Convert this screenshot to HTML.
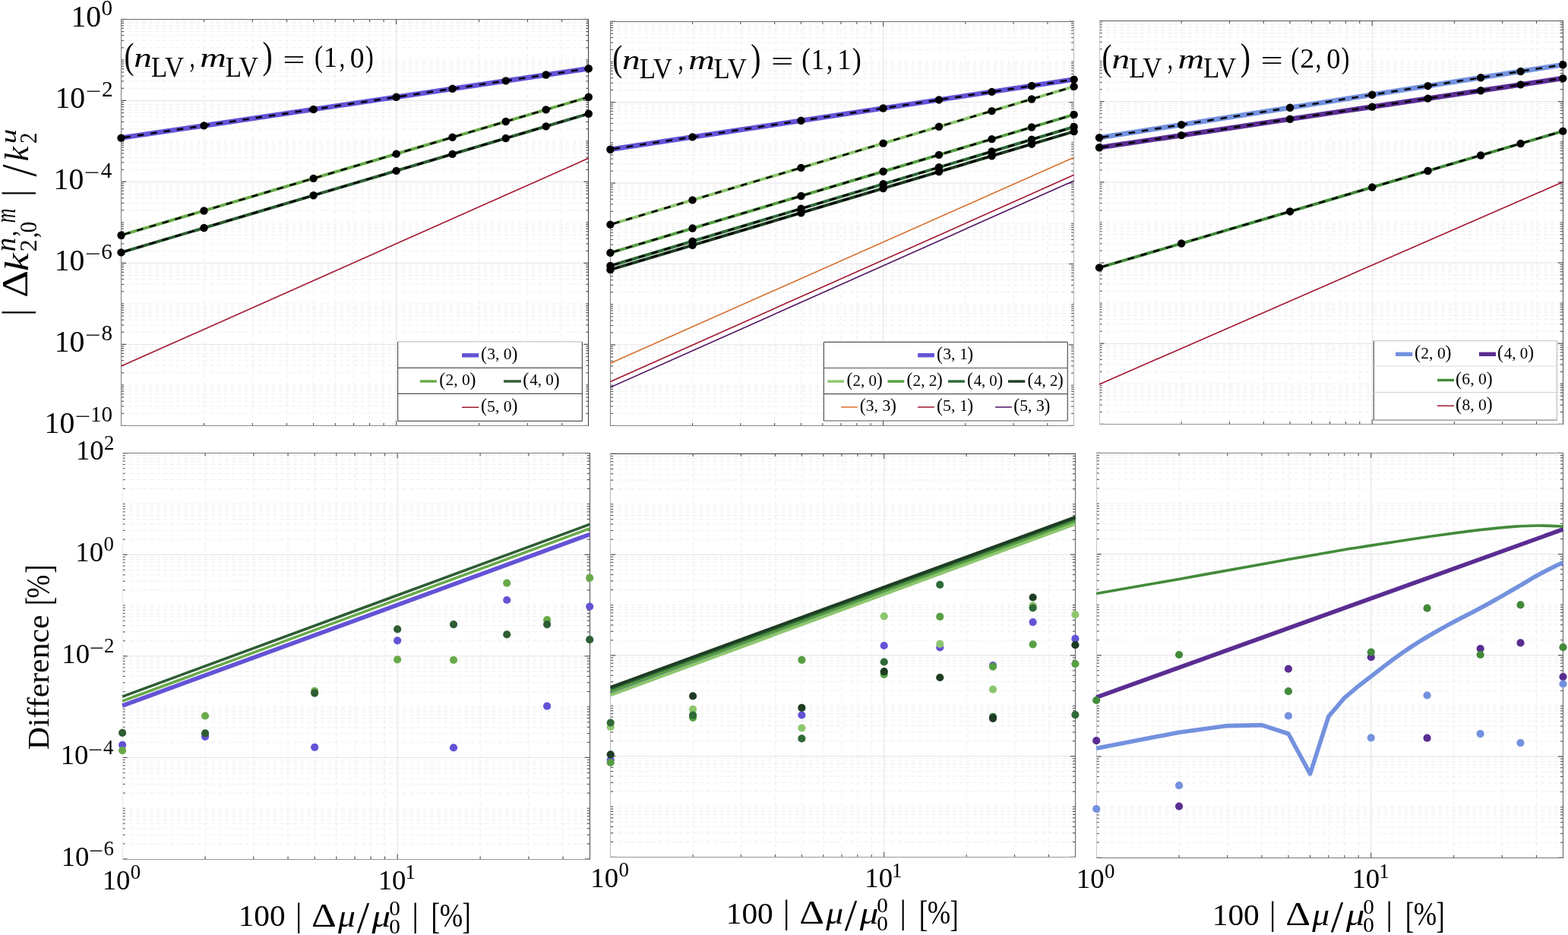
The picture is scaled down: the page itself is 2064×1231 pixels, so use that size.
<!DOCTYPE html>
<html><head><meta charset="utf-8"><title>Figure</title>
<style>html,body{margin:0;padding:0;background:#fff;}svg{display:block;}</style>
</head><body>
<svg width="2064" height="1231" viewBox="0 0 2064 1231">
<rect width="2064" height="1231" fill="#fff"/>
<line x1="268.52" y1="25.40" x2="268.52" y2="560.40" stroke="#eeeeee" stroke-width="1" stroke-dasharray="5 4"/>
<line x1="332.29" y1="25.40" x2="332.29" y2="560.40" stroke="#eeeeee" stroke-width="1" stroke-dasharray="5 4"/>
<line x1="377.54" y1="25.40" x2="377.54" y2="560.40" stroke="#eeeeee" stroke-width="1" stroke-dasharray="5 4"/>
<line x1="412.64" y1="25.40" x2="412.64" y2="560.40" stroke="#eeeeee" stroke-width="1" stroke-dasharray="5 4"/>
<line x1="441.32" y1="25.40" x2="441.32" y2="560.40" stroke="#eeeeee" stroke-width="1" stroke-dasharray="5 4"/>
<line x1="465.56" y1="25.40" x2="465.56" y2="560.40" stroke="#eeeeee" stroke-width="1" stroke-dasharray="5 4"/>
<line x1="486.56" y1="25.40" x2="486.56" y2="560.40" stroke="#eeeeee" stroke-width="1" stroke-dasharray="5 4"/>
<line x1="505.09" y1="25.40" x2="505.09" y2="560.40" stroke="#eeeeee" stroke-width="1" stroke-dasharray="5 4"/>
<line x1="630.68" y1="25.40" x2="630.68" y2="560.40" stroke="#eeeeee" stroke-width="1" stroke-dasharray="5 4"/>
<line x1="694.46" y1="25.40" x2="694.46" y2="560.40" stroke="#eeeeee" stroke-width="1" stroke-dasharray="5 4"/>
<line x1="739.70" y1="25.40" x2="739.70" y2="560.40" stroke="#eeeeee" stroke-width="1" stroke-dasharray="5 4"/>
<line x1="521.66" y1="25.40" x2="521.66" y2="560.40" stroke="#e2e2e2" stroke-width="1"/>
<line x1="159.50" y1="544.29" x2="774.80" y2="544.29" stroke="#eeeeee" stroke-width="1" stroke-dasharray="5 4"/>
<line x1="159.50" y1="534.87" x2="774.80" y2="534.87" stroke="#eeeeee" stroke-width="1" stroke-dasharray="5 4"/>
<line x1="159.50" y1="528.19" x2="774.80" y2="528.19" stroke="#eeeeee" stroke-width="1" stroke-dasharray="5 4"/>
<line x1="159.50" y1="523.01" x2="774.80" y2="523.01" stroke="#eeeeee" stroke-width="1" stroke-dasharray="5 4"/>
<line x1="159.50" y1="518.77" x2="774.80" y2="518.77" stroke="#eeeeee" stroke-width="1" stroke-dasharray="5 4"/>
<line x1="159.50" y1="515.19" x2="774.80" y2="515.19" stroke="#eeeeee" stroke-width="1" stroke-dasharray="5 4"/>
<line x1="159.50" y1="512.08" x2="774.80" y2="512.08" stroke="#eeeeee" stroke-width="1" stroke-dasharray="5 4"/>
<line x1="159.50" y1="509.35" x2="774.80" y2="509.35" stroke="#eeeeee" stroke-width="1" stroke-dasharray="5 4"/>
<line x1="159.50" y1="490.79" x2="774.80" y2="490.79" stroke="#eeeeee" stroke-width="1" stroke-dasharray="5 4"/>
<line x1="159.50" y1="481.37" x2="774.80" y2="481.37" stroke="#eeeeee" stroke-width="1" stroke-dasharray="5 4"/>
<line x1="159.50" y1="474.69" x2="774.80" y2="474.69" stroke="#eeeeee" stroke-width="1" stroke-dasharray="5 4"/>
<line x1="159.50" y1="469.51" x2="774.80" y2="469.51" stroke="#eeeeee" stroke-width="1" stroke-dasharray="5 4"/>
<line x1="159.50" y1="465.27" x2="774.80" y2="465.27" stroke="#eeeeee" stroke-width="1" stroke-dasharray="5 4"/>
<line x1="159.50" y1="461.69" x2="774.80" y2="461.69" stroke="#eeeeee" stroke-width="1" stroke-dasharray="5 4"/>
<line x1="159.50" y1="458.58" x2="774.80" y2="458.58" stroke="#eeeeee" stroke-width="1" stroke-dasharray="5 4"/>
<line x1="159.50" y1="455.85" x2="774.80" y2="455.85" stroke="#eeeeee" stroke-width="1" stroke-dasharray="5 4"/>
<line x1="159.50" y1="437.29" x2="774.80" y2="437.29" stroke="#eeeeee" stroke-width="1" stroke-dasharray="5 4"/>
<line x1="159.50" y1="427.87" x2="774.80" y2="427.87" stroke="#eeeeee" stroke-width="1" stroke-dasharray="5 4"/>
<line x1="159.50" y1="421.19" x2="774.80" y2="421.19" stroke="#eeeeee" stroke-width="1" stroke-dasharray="5 4"/>
<line x1="159.50" y1="416.01" x2="774.80" y2="416.01" stroke="#eeeeee" stroke-width="1" stroke-dasharray="5 4"/>
<line x1="159.50" y1="411.77" x2="774.80" y2="411.77" stroke="#eeeeee" stroke-width="1" stroke-dasharray="5 4"/>
<line x1="159.50" y1="408.19" x2="774.80" y2="408.19" stroke="#eeeeee" stroke-width="1" stroke-dasharray="5 4"/>
<line x1="159.50" y1="405.08" x2="774.80" y2="405.08" stroke="#eeeeee" stroke-width="1" stroke-dasharray="5 4"/>
<line x1="159.50" y1="402.35" x2="774.80" y2="402.35" stroke="#eeeeee" stroke-width="1" stroke-dasharray="5 4"/>
<line x1="159.50" y1="383.79" x2="774.80" y2="383.79" stroke="#eeeeee" stroke-width="1" stroke-dasharray="5 4"/>
<line x1="159.50" y1="374.37" x2="774.80" y2="374.37" stroke="#eeeeee" stroke-width="1" stroke-dasharray="5 4"/>
<line x1="159.50" y1="367.69" x2="774.80" y2="367.69" stroke="#eeeeee" stroke-width="1" stroke-dasharray="5 4"/>
<line x1="159.50" y1="362.51" x2="774.80" y2="362.51" stroke="#eeeeee" stroke-width="1" stroke-dasharray="5 4"/>
<line x1="159.50" y1="358.27" x2="774.80" y2="358.27" stroke="#eeeeee" stroke-width="1" stroke-dasharray="5 4"/>
<line x1="159.50" y1="354.69" x2="774.80" y2="354.69" stroke="#eeeeee" stroke-width="1" stroke-dasharray="5 4"/>
<line x1="159.50" y1="351.58" x2="774.80" y2="351.58" stroke="#eeeeee" stroke-width="1" stroke-dasharray="5 4"/>
<line x1="159.50" y1="348.85" x2="774.80" y2="348.85" stroke="#eeeeee" stroke-width="1" stroke-dasharray="5 4"/>
<line x1="159.50" y1="330.29" x2="774.80" y2="330.29" stroke="#eeeeee" stroke-width="1" stroke-dasharray="5 4"/>
<line x1="159.50" y1="320.87" x2="774.80" y2="320.87" stroke="#eeeeee" stroke-width="1" stroke-dasharray="5 4"/>
<line x1="159.50" y1="314.19" x2="774.80" y2="314.19" stroke="#eeeeee" stroke-width="1" stroke-dasharray="5 4"/>
<line x1="159.50" y1="309.01" x2="774.80" y2="309.01" stroke="#eeeeee" stroke-width="1" stroke-dasharray="5 4"/>
<line x1="159.50" y1="304.77" x2="774.80" y2="304.77" stroke="#eeeeee" stroke-width="1" stroke-dasharray="5 4"/>
<line x1="159.50" y1="301.19" x2="774.80" y2="301.19" stroke="#eeeeee" stroke-width="1" stroke-dasharray="5 4"/>
<line x1="159.50" y1="298.08" x2="774.80" y2="298.08" stroke="#eeeeee" stroke-width="1" stroke-dasharray="5 4"/>
<line x1="159.50" y1="295.35" x2="774.80" y2="295.35" stroke="#eeeeee" stroke-width="1" stroke-dasharray="5 4"/>
<line x1="159.50" y1="276.79" x2="774.80" y2="276.79" stroke="#eeeeee" stroke-width="1" stroke-dasharray="5 4"/>
<line x1="159.50" y1="267.37" x2="774.80" y2="267.37" stroke="#eeeeee" stroke-width="1" stroke-dasharray="5 4"/>
<line x1="159.50" y1="260.69" x2="774.80" y2="260.69" stroke="#eeeeee" stroke-width="1" stroke-dasharray="5 4"/>
<line x1="159.50" y1="255.51" x2="774.80" y2="255.51" stroke="#eeeeee" stroke-width="1" stroke-dasharray="5 4"/>
<line x1="159.50" y1="251.27" x2="774.80" y2="251.27" stroke="#eeeeee" stroke-width="1" stroke-dasharray="5 4"/>
<line x1="159.50" y1="247.69" x2="774.80" y2="247.69" stroke="#eeeeee" stroke-width="1" stroke-dasharray="5 4"/>
<line x1="159.50" y1="244.58" x2="774.80" y2="244.58" stroke="#eeeeee" stroke-width="1" stroke-dasharray="5 4"/>
<line x1="159.50" y1="241.85" x2="774.80" y2="241.85" stroke="#eeeeee" stroke-width="1" stroke-dasharray="5 4"/>
<line x1="159.50" y1="223.29" x2="774.80" y2="223.29" stroke="#eeeeee" stroke-width="1" stroke-dasharray="5 4"/>
<line x1="159.50" y1="213.87" x2="774.80" y2="213.87" stroke="#eeeeee" stroke-width="1" stroke-dasharray="5 4"/>
<line x1="159.50" y1="207.19" x2="774.80" y2="207.19" stroke="#eeeeee" stroke-width="1" stroke-dasharray="5 4"/>
<line x1="159.50" y1="202.01" x2="774.80" y2="202.01" stroke="#eeeeee" stroke-width="1" stroke-dasharray="5 4"/>
<line x1="159.50" y1="197.77" x2="774.80" y2="197.77" stroke="#eeeeee" stroke-width="1" stroke-dasharray="5 4"/>
<line x1="159.50" y1="194.19" x2="774.80" y2="194.19" stroke="#eeeeee" stroke-width="1" stroke-dasharray="5 4"/>
<line x1="159.50" y1="191.08" x2="774.80" y2="191.08" stroke="#eeeeee" stroke-width="1" stroke-dasharray="5 4"/>
<line x1="159.50" y1="188.35" x2="774.80" y2="188.35" stroke="#eeeeee" stroke-width="1" stroke-dasharray="5 4"/>
<line x1="159.50" y1="169.79" x2="774.80" y2="169.79" stroke="#eeeeee" stroke-width="1" stroke-dasharray="5 4"/>
<line x1="159.50" y1="160.37" x2="774.80" y2="160.37" stroke="#eeeeee" stroke-width="1" stroke-dasharray="5 4"/>
<line x1="159.50" y1="153.69" x2="774.80" y2="153.69" stroke="#eeeeee" stroke-width="1" stroke-dasharray="5 4"/>
<line x1="159.50" y1="148.51" x2="774.80" y2="148.51" stroke="#eeeeee" stroke-width="1" stroke-dasharray="5 4"/>
<line x1="159.50" y1="144.27" x2="774.80" y2="144.27" stroke="#eeeeee" stroke-width="1" stroke-dasharray="5 4"/>
<line x1="159.50" y1="140.69" x2="774.80" y2="140.69" stroke="#eeeeee" stroke-width="1" stroke-dasharray="5 4"/>
<line x1="159.50" y1="137.58" x2="774.80" y2="137.58" stroke="#eeeeee" stroke-width="1" stroke-dasharray="5 4"/>
<line x1="159.50" y1="134.85" x2="774.80" y2="134.85" stroke="#eeeeee" stroke-width="1" stroke-dasharray="5 4"/>
<line x1="159.50" y1="116.29" x2="774.80" y2="116.29" stroke="#eeeeee" stroke-width="1" stroke-dasharray="5 4"/>
<line x1="159.50" y1="106.87" x2="774.80" y2="106.87" stroke="#eeeeee" stroke-width="1" stroke-dasharray="5 4"/>
<line x1="159.50" y1="100.19" x2="774.80" y2="100.19" stroke="#eeeeee" stroke-width="1" stroke-dasharray="5 4"/>
<line x1="159.50" y1="95.01" x2="774.80" y2="95.01" stroke="#eeeeee" stroke-width="1" stroke-dasharray="5 4"/>
<line x1="159.50" y1="90.77" x2="774.80" y2="90.77" stroke="#eeeeee" stroke-width="1" stroke-dasharray="5 4"/>
<line x1="159.50" y1="87.19" x2="774.80" y2="87.19" stroke="#eeeeee" stroke-width="1" stroke-dasharray="5 4"/>
<line x1="159.50" y1="84.08" x2="774.80" y2="84.08" stroke="#eeeeee" stroke-width="1" stroke-dasharray="5 4"/>
<line x1="159.50" y1="81.35" x2="774.80" y2="81.35" stroke="#eeeeee" stroke-width="1" stroke-dasharray="5 4"/>
<line x1="159.50" y1="62.79" x2="774.80" y2="62.79" stroke="#eeeeee" stroke-width="1" stroke-dasharray="5 4"/>
<line x1="159.50" y1="53.37" x2="774.80" y2="53.37" stroke="#eeeeee" stroke-width="1" stroke-dasharray="5 4"/>
<line x1="159.50" y1="46.69" x2="774.80" y2="46.69" stroke="#eeeeee" stroke-width="1" stroke-dasharray="5 4"/>
<line x1="159.50" y1="41.51" x2="774.80" y2="41.51" stroke="#eeeeee" stroke-width="1" stroke-dasharray="5 4"/>
<line x1="159.50" y1="37.27" x2="774.80" y2="37.27" stroke="#eeeeee" stroke-width="1" stroke-dasharray="5 4"/>
<line x1="159.50" y1="33.69" x2="774.80" y2="33.69" stroke="#eeeeee" stroke-width="1" stroke-dasharray="5 4"/>
<line x1="159.50" y1="30.58" x2="774.80" y2="30.58" stroke="#eeeeee" stroke-width="1" stroke-dasharray="5 4"/>
<line x1="159.50" y1="27.85" x2="774.80" y2="27.85" stroke="#eeeeee" stroke-width="1" stroke-dasharray="5 4"/>
<line x1="159.50" y1="506.90" x2="774.80" y2="506.90" stroke="#eeeeee" stroke-width="1" stroke-dasharray="5 4"/>
<line x1="159.50" y1="399.90" x2="774.80" y2="399.90" stroke="#eeeeee" stroke-width="1" stroke-dasharray="5 4"/>
<line x1="159.50" y1="292.90" x2="774.80" y2="292.90" stroke="#eeeeee" stroke-width="1" stroke-dasharray="5 4"/>
<line x1="159.50" y1="185.90" x2="774.80" y2="185.90" stroke="#eeeeee" stroke-width="1" stroke-dasharray="5 4"/>
<line x1="159.50" y1="78.90" x2="774.80" y2="78.90" stroke="#eeeeee" stroke-width="1" stroke-dasharray="5 4"/>
<line x1="159.50" y1="453.40" x2="774.80" y2="453.40" stroke="#e2e2e2" stroke-width="1"/>
<line x1="159.50" y1="346.40" x2="774.80" y2="346.40" stroke="#e2e2e2" stroke-width="1"/>
<line x1="159.50" y1="239.40" x2="774.80" y2="239.40" stroke="#e2e2e2" stroke-width="1"/>
<line x1="159.50" y1="132.40" x2="774.80" y2="132.40" stroke="#e2e2e2" stroke-width="1"/>
<line x1="911.54" y1="28.20" x2="911.54" y2="560.40" stroke="#eeeeee" stroke-width="1" stroke-dasharray="5 4"/>
<line x1="974.79" y1="28.20" x2="974.79" y2="560.40" stroke="#eeeeee" stroke-width="1" stroke-dasharray="5 4"/>
<line x1="1019.67" y1="28.20" x2="1019.67" y2="560.40" stroke="#eeeeee" stroke-width="1" stroke-dasharray="5 4"/>
<line x1="1054.48" y1="28.20" x2="1054.48" y2="560.40" stroke="#eeeeee" stroke-width="1" stroke-dasharray="5 4"/>
<line x1="1082.93" y1="28.20" x2="1082.93" y2="560.40" stroke="#eeeeee" stroke-width="1" stroke-dasharray="5 4"/>
<line x1="1106.97" y1="28.20" x2="1106.97" y2="560.40" stroke="#eeeeee" stroke-width="1" stroke-dasharray="5 4"/>
<line x1="1127.81" y1="28.20" x2="1127.81" y2="560.40" stroke="#eeeeee" stroke-width="1" stroke-dasharray="5 4"/>
<line x1="1146.18" y1="28.20" x2="1146.18" y2="560.40" stroke="#eeeeee" stroke-width="1" stroke-dasharray="5 4"/>
<line x1="1270.75" y1="28.20" x2="1270.75" y2="560.40" stroke="#eeeeee" stroke-width="1" stroke-dasharray="5 4"/>
<line x1="1334.01" y1="28.20" x2="1334.01" y2="560.40" stroke="#eeeeee" stroke-width="1" stroke-dasharray="5 4"/>
<line x1="1378.89" y1="28.20" x2="1378.89" y2="560.40" stroke="#eeeeee" stroke-width="1" stroke-dasharray="5 4"/>
<line x1="1162.62" y1="28.20" x2="1162.62" y2="560.40" stroke="#e2e2e2" stroke-width="1"/>
<line x1="803.40" y1="544.38" x2="1413.70" y2="544.38" stroke="#eeeeee" stroke-width="1" stroke-dasharray="5 4"/>
<line x1="803.40" y1="535.01" x2="1413.70" y2="535.01" stroke="#eeeeee" stroke-width="1" stroke-dasharray="5 4"/>
<line x1="803.40" y1="528.36" x2="1413.70" y2="528.36" stroke="#eeeeee" stroke-width="1" stroke-dasharray="5 4"/>
<line x1="803.40" y1="523.20" x2="1413.70" y2="523.20" stroke="#eeeeee" stroke-width="1" stroke-dasharray="5 4"/>
<line x1="803.40" y1="518.99" x2="1413.70" y2="518.99" stroke="#eeeeee" stroke-width="1" stroke-dasharray="5 4"/>
<line x1="803.40" y1="515.42" x2="1413.70" y2="515.42" stroke="#eeeeee" stroke-width="1" stroke-dasharray="5 4"/>
<line x1="803.40" y1="512.34" x2="1413.70" y2="512.34" stroke="#eeeeee" stroke-width="1" stroke-dasharray="5 4"/>
<line x1="803.40" y1="509.62" x2="1413.70" y2="509.62" stroke="#eeeeee" stroke-width="1" stroke-dasharray="5 4"/>
<line x1="803.40" y1="491.16" x2="1413.70" y2="491.16" stroke="#eeeeee" stroke-width="1" stroke-dasharray="5 4"/>
<line x1="803.40" y1="481.79" x2="1413.70" y2="481.79" stroke="#eeeeee" stroke-width="1" stroke-dasharray="5 4"/>
<line x1="803.40" y1="475.14" x2="1413.70" y2="475.14" stroke="#eeeeee" stroke-width="1" stroke-dasharray="5 4"/>
<line x1="803.40" y1="469.98" x2="1413.70" y2="469.98" stroke="#eeeeee" stroke-width="1" stroke-dasharray="5 4"/>
<line x1="803.40" y1="465.77" x2="1413.70" y2="465.77" stroke="#eeeeee" stroke-width="1" stroke-dasharray="5 4"/>
<line x1="803.40" y1="462.20" x2="1413.70" y2="462.20" stroke="#eeeeee" stroke-width="1" stroke-dasharray="5 4"/>
<line x1="803.40" y1="459.12" x2="1413.70" y2="459.12" stroke="#eeeeee" stroke-width="1" stroke-dasharray="5 4"/>
<line x1="803.40" y1="456.40" x2="1413.70" y2="456.40" stroke="#eeeeee" stroke-width="1" stroke-dasharray="5 4"/>
<line x1="803.40" y1="437.94" x2="1413.70" y2="437.94" stroke="#eeeeee" stroke-width="1" stroke-dasharray="5 4"/>
<line x1="803.40" y1="428.57" x2="1413.70" y2="428.57" stroke="#eeeeee" stroke-width="1" stroke-dasharray="5 4"/>
<line x1="803.40" y1="421.92" x2="1413.70" y2="421.92" stroke="#eeeeee" stroke-width="1" stroke-dasharray="5 4"/>
<line x1="803.40" y1="416.76" x2="1413.70" y2="416.76" stroke="#eeeeee" stroke-width="1" stroke-dasharray="5 4"/>
<line x1="803.40" y1="412.55" x2="1413.70" y2="412.55" stroke="#eeeeee" stroke-width="1" stroke-dasharray="5 4"/>
<line x1="803.40" y1="408.98" x2="1413.70" y2="408.98" stroke="#eeeeee" stroke-width="1" stroke-dasharray="5 4"/>
<line x1="803.40" y1="405.90" x2="1413.70" y2="405.90" stroke="#eeeeee" stroke-width="1" stroke-dasharray="5 4"/>
<line x1="803.40" y1="403.18" x2="1413.70" y2="403.18" stroke="#eeeeee" stroke-width="1" stroke-dasharray="5 4"/>
<line x1="803.40" y1="384.72" x2="1413.70" y2="384.72" stroke="#eeeeee" stroke-width="1" stroke-dasharray="5 4"/>
<line x1="803.40" y1="375.35" x2="1413.70" y2="375.35" stroke="#eeeeee" stroke-width="1" stroke-dasharray="5 4"/>
<line x1="803.40" y1="368.70" x2="1413.70" y2="368.70" stroke="#eeeeee" stroke-width="1" stroke-dasharray="5 4"/>
<line x1="803.40" y1="363.54" x2="1413.70" y2="363.54" stroke="#eeeeee" stroke-width="1" stroke-dasharray="5 4"/>
<line x1="803.40" y1="359.33" x2="1413.70" y2="359.33" stroke="#eeeeee" stroke-width="1" stroke-dasharray="5 4"/>
<line x1="803.40" y1="355.76" x2="1413.70" y2="355.76" stroke="#eeeeee" stroke-width="1" stroke-dasharray="5 4"/>
<line x1="803.40" y1="352.68" x2="1413.70" y2="352.68" stroke="#eeeeee" stroke-width="1" stroke-dasharray="5 4"/>
<line x1="803.40" y1="349.96" x2="1413.70" y2="349.96" stroke="#eeeeee" stroke-width="1" stroke-dasharray="5 4"/>
<line x1="803.40" y1="331.50" x2="1413.70" y2="331.50" stroke="#eeeeee" stroke-width="1" stroke-dasharray="5 4"/>
<line x1="803.40" y1="322.13" x2="1413.70" y2="322.13" stroke="#eeeeee" stroke-width="1" stroke-dasharray="5 4"/>
<line x1="803.40" y1="315.48" x2="1413.70" y2="315.48" stroke="#eeeeee" stroke-width="1" stroke-dasharray="5 4"/>
<line x1="803.40" y1="310.32" x2="1413.70" y2="310.32" stroke="#eeeeee" stroke-width="1" stroke-dasharray="5 4"/>
<line x1="803.40" y1="306.11" x2="1413.70" y2="306.11" stroke="#eeeeee" stroke-width="1" stroke-dasharray="5 4"/>
<line x1="803.40" y1="302.54" x2="1413.70" y2="302.54" stroke="#eeeeee" stroke-width="1" stroke-dasharray="5 4"/>
<line x1="803.40" y1="299.46" x2="1413.70" y2="299.46" stroke="#eeeeee" stroke-width="1" stroke-dasharray="5 4"/>
<line x1="803.40" y1="296.74" x2="1413.70" y2="296.74" stroke="#eeeeee" stroke-width="1" stroke-dasharray="5 4"/>
<line x1="803.40" y1="278.28" x2="1413.70" y2="278.28" stroke="#eeeeee" stroke-width="1" stroke-dasharray="5 4"/>
<line x1="803.40" y1="268.91" x2="1413.70" y2="268.91" stroke="#eeeeee" stroke-width="1" stroke-dasharray="5 4"/>
<line x1="803.40" y1="262.26" x2="1413.70" y2="262.26" stroke="#eeeeee" stroke-width="1" stroke-dasharray="5 4"/>
<line x1="803.40" y1="257.10" x2="1413.70" y2="257.10" stroke="#eeeeee" stroke-width="1" stroke-dasharray="5 4"/>
<line x1="803.40" y1="252.89" x2="1413.70" y2="252.89" stroke="#eeeeee" stroke-width="1" stroke-dasharray="5 4"/>
<line x1="803.40" y1="249.32" x2="1413.70" y2="249.32" stroke="#eeeeee" stroke-width="1" stroke-dasharray="5 4"/>
<line x1="803.40" y1="246.24" x2="1413.70" y2="246.24" stroke="#eeeeee" stroke-width="1" stroke-dasharray="5 4"/>
<line x1="803.40" y1="243.52" x2="1413.70" y2="243.52" stroke="#eeeeee" stroke-width="1" stroke-dasharray="5 4"/>
<line x1="803.40" y1="225.06" x2="1413.70" y2="225.06" stroke="#eeeeee" stroke-width="1" stroke-dasharray="5 4"/>
<line x1="803.40" y1="215.69" x2="1413.70" y2="215.69" stroke="#eeeeee" stroke-width="1" stroke-dasharray="5 4"/>
<line x1="803.40" y1="209.04" x2="1413.70" y2="209.04" stroke="#eeeeee" stroke-width="1" stroke-dasharray="5 4"/>
<line x1="803.40" y1="203.88" x2="1413.70" y2="203.88" stroke="#eeeeee" stroke-width="1" stroke-dasharray="5 4"/>
<line x1="803.40" y1="199.67" x2="1413.70" y2="199.67" stroke="#eeeeee" stroke-width="1" stroke-dasharray="5 4"/>
<line x1="803.40" y1="196.10" x2="1413.70" y2="196.10" stroke="#eeeeee" stroke-width="1" stroke-dasharray="5 4"/>
<line x1="803.40" y1="193.02" x2="1413.70" y2="193.02" stroke="#eeeeee" stroke-width="1" stroke-dasharray="5 4"/>
<line x1="803.40" y1="190.30" x2="1413.70" y2="190.30" stroke="#eeeeee" stroke-width="1" stroke-dasharray="5 4"/>
<line x1="803.40" y1="171.84" x2="1413.70" y2="171.84" stroke="#eeeeee" stroke-width="1" stroke-dasharray="5 4"/>
<line x1="803.40" y1="162.47" x2="1413.70" y2="162.47" stroke="#eeeeee" stroke-width="1" stroke-dasharray="5 4"/>
<line x1="803.40" y1="155.82" x2="1413.70" y2="155.82" stroke="#eeeeee" stroke-width="1" stroke-dasharray="5 4"/>
<line x1="803.40" y1="150.66" x2="1413.70" y2="150.66" stroke="#eeeeee" stroke-width="1" stroke-dasharray="5 4"/>
<line x1="803.40" y1="146.45" x2="1413.70" y2="146.45" stroke="#eeeeee" stroke-width="1" stroke-dasharray="5 4"/>
<line x1="803.40" y1="142.88" x2="1413.70" y2="142.88" stroke="#eeeeee" stroke-width="1" stroke-dasharray="5 4"/>
<line x1="803.40" y1="139.80" x2="1413.70" y2="139.80" stroke="#eeeeee" stroke-width="1" stroke-dasharray="5 4"/>
<line x1="803.40" y1="137.08" x2="1413.70" y2="137.08" stroke="#eeeeee" stroke-width="1" stroke-dasharray="5 4"/>
<line x1="803.40" y1="118.62" x2="1413.70" y2="118.62" stroke="#eeeeee" stroke-width="1" stroke-dasharray="5 4"/>
<line x1="803.40" y1="109.25" x2="1413.70" y2="109.25" stroke="#eeeeee" stroke-width="1" stroke-dasharray="5 4"/>
<line x1="803.40" y1="102.60" x2="1413.70" y2="102.60" stroke="#eeeeee" stroke-width="1" stroke-dasharray="5 4"/>
<line x1="803.40" y1="97.44" x2="1413.70" y2="97.44" stroke="#eeeeee" stroke-width="1" stroke-dasharray="5 4"/>
<line x1="803.40" y1="93.23" x2="1413.70" y2="93.23" stroke="#eeeeee" stroke-width="1" stroke-dasharray="5 4"/>
<line x1="803.40" y1="89.66" x2="1413.70" y2="89.66" stroke="#eeeeee" stroke-width="1" stroke-dasharray="5 4"/>
<line x1="803.40" y1="86.58" x2="1413.70" y2="86.58" stroke="#eeeeee" stroke-width="1" stroke-dasharray="5 4"/>
<line x1="803.40" y1="83.86" x2="1413.70" y2="83.86" stroke="#eeeeee" stroke-width="1" stroke-dasharray="5 4"/>
<line x1="803.40" y1="65.40" x2="1413.70" y2="65.40" stroke="#eeeeee" stroke-width="1" stroke-dasharray="5 4"/>
<line x1="803.40" y1="56.03" x2="1413.70" y2="56.03" stroke="#eeeeee" stroke-width="1" stroke-dasharray="5 4"/>
<line x1="803.40" y1="49.38" x2="1413.70" y2="49.38" stroke="#eeeeee" stroke-width="1" stroke-dasharray="5 4"/>
<line x1="803.40" y1="44.22" x2="1413.70" y2="44.22" stroke="#eeeeee" stroke-width="1" stroke-dasharray="5 4"/>
<line x1="803.40" y1="40.01" x2="1413.70" y2="40.01" stroke="#eeeeee" stroke-width="1" stroke-dasharray="5 4"/>
<line x1="803.40" y1="36.44" x2="1413.70" y2="36.44" stroke="#eeeeee" stroke-width="1" stroke-dasharray="5 4"/>
<line x1="803.40" y1="33.36" x2="1413.70" y2="33.36" stroke="#eeeeee" stroke-width="1" stroke-dasharray="5 4"/>
<line x1="803.40" y1="30.64" x2="1413.70" y2="30.64" stroke="#eeeeee" stroke-width="1" stroke-dasharray="5 4"/>
<line x1="803.40" y1="507.18" x2="1413.70" y2="507.18" stroke="#eeeeee" stroke-width="1" stroke-dasharray="5 4"/>
<line x1="803.40" y1="400.74" x2="1413.70" y2="400.74" stroke="#eeeeee" stroke-width="1" stroke-dasharray="5 4"/>
<line x1="803.40" y1="294.30" x2="1413.70" y2="294.30" stroke="#eeeeee" stroke-width="1" stroke-dasharray="5 4"/>
<line x1="803.40" y1="187.86" x2="1413.70" y2="187.86" stroke="#eeeeee" stroke-width="1" stroke-dasharray="5 4"/>
<line x1="803.40" y1="81.42" x2="1413.70" y2="81.42" stroke="#eeeeee" stroke-width="1" stroke-dasharray="5 4"/>
<line x1="803.40" y1="453.96" x2="1413.70" y2="453.96" stroke="#e2e2e2" stroke-width="1"/>
<line x1="803.40" y1="347.52" x2="1413.70" y2="347.52" stroke="#e2e2e2" stroke-width="1"/>
<line x1="803.40" y1="241.08" x2="1413.70" y2="241.08" stroke="#e2e2e2" stroke-width="1"/>
<line x1="803.40" y1="134.64" x2="1413.70" y2="134.64" stroke="#e2e2e2" stroke-width="1"/>
<line x1="1555.14" y1="27.50" x2="1555.14" y2="558.40" stroke="#eeeeee" stroke-width="1" stroke-dasharray="5 4"/>
<line x1="1618.39" y1="27.50" x2="1618.39" y2="558.40" stroke="#eeeeee" stroke-width="1" stroke-dasharray="5 4"/>
<line x1="1663.27" y1="27.50" x2="1663.27" y2="558.40" stroke="#eeeeee" stroke-width="1" stroke-dasharray="5 4"/>
<line x1="1698.08" y1="27.50" x2="1698.08" y2="558.40" stroke="#eeeeee" stroke-width="1" stroke-dasharray="5 4"/>
<line x1="1726.53" y1="27.50" x2="1726.53" y2="558.40" stroke="#eeeeee" stroke-width="1" stroke-dasharray="5 4"/>
<line x1="1750.57" y1="27.50" x2="1750.57" y2="558.40" stroke="#eeeeee" stroke-width="1" stroke-dasharray="5 4"/>
<line x1="1771.41" y1="27.50" x2="1771.41" y2="558.40" stroke="#eeeeee" stroke-width="1" stroke-dasharray="5 4"/>
<line x1="1789.78" y1="27.50" x2="1789.78" y2="558.40" stroke="#eeeeee" stroke-width="1" stroke-dasharray="5 4"/>
<line x1="1914.35" y1="27.50" x2="1914.35" y2="558.40" stroke="#eeeeee" stroke-width="1" stroke-dasharray="5 4"/>
<line x1="1977.61" y1="27.50" x2="1977.61" y2="558.40" stroke="#eeeeee" stroke-width="1" stroke-dasharray="5 4"/>
<line x1="2022.49" y1="27.50" x2="2022.49" y2="558.40" stroke="#eeeeee" stroke-width="1" stroke-dasharray="5 4"/>
<line x1="1806.22" y1="27.50" x2="1806.22" y2="558.40" stroke="#e2e2e2" stroke-width="1"/>
<line x1="1447.00" y1="542.42" x2="2057.30" y2="542.42" stroke="#eeeeee" stroke-width="1" stroke-dasharray="5 4"/>
<line x1="1447.00" y1="533.07" x2="2057.30" y2="533.07" stroke="#eeeeee" stroke-width="1" stroke-dasharray="5 4"/>
<line x1="1447.00" y1="526.44" x2="2057.30" y2="526.44" stroke="#eeeeee" stroke-width="1" stroke-dasharray="5 4"/>
<line x1="1447.00" y1="521.29" x2="2057.30" y2="521.29" stroke="#eeeeee" stroke-width="1" stroke-dasharray="5 4"/>
<line x1="1447.00" y1="517.09" x2="2057.30" y2="517.09" stroke="#eeeeee" stroke-width="1" stroke-dasharray="5 4"/>
<line x1="1447.00" y1="513.53" x2="2057.30" y2="513.53" stroke="#eeeeee" stroke-width="1" stroke-dasharray="5 4"/>
<line x1="1447.00" y1="510.45" x2="2057.30" y2="510.45" stroke="#eeeeee" stroke-width="1" stroke-dasharray="5 4"/>
<line x1="1447.00" y1="507.74" x2="2057.30" y2="507.74" stroke="#eeeeee" stroke-width="1" stroke-dasharray="5 4"/>
<line x1="1447.00" y1="489.33" x2="2057.30" y2="489.33" stroke="#eeeeee" stroke-width="1" stroke-dasharray="5 4"/>
<line x1="1447.00" y1="479.98" x2="2057.30" y2="479.98" stroke="#eeeeee" stroke-width="1" stroke-dasharray="5 4"/>
<line x1="1447.00" y1="473.35" x2="2057.30" y2="473.35" stroke="#eeeeee" stroke-width="1" stroke-dasharray="5 4"/>
<line x1="1447.00" y1="468.20" x2="2057.30" y2="468.20" stroke="#eeeeee" stroke-width="1" stroke-dasharray="5 4"/>
<line x1="1447.00" y1="464.00" x2="2057.30" y2="464.00" stroke="#eeeeee" stroke-width="1" stroke-dasharray="5 4"/>
<line x1="1447.00" y1="460.44" x2="2057.30" y2="460.44" stroke="#eeeeee" stroke-width="1" stroke-dasharray="5 4"/>
<line x1="1447.00" y1="457.36" x2="2057.30" y2="457.36" stroke="#eeeeee" stroke-width="1" stroke-dasharray="5 4"/>
<line x1="1447.00" y1="454.65" x2="2057.30" y2="454.65" stroke="#eeeeee" stroke-width="1" stroke-dasharray="5 4"/>
<line x1="1447.00" y1="436.24" x2="2057.30" y2="436.24" stroke="#eeeeee" stroke-width="1" stroke-dasharray="5 4"/>
<line x1="1447.00" y1="426.89" x2="2057.30" y2="426.89" stroke="#eeeeee" stroke-width="1" stroke-dasharray="5 4"/>
<line x1="1447.00" y1="420.26" x2="2057.30" y2="420.26" stroke="#eeeeee" stroke-width="1" stroke-dasharray="5 4"/>
<line x1="1447.00" y1="415.11" x2="2057.30" y2="415.11" stroke="#eeeeee" stroke-width="1" stroke-dasharray="5 4"/>
<line x1="1447.00" y1="410.91" x2="2057.30" y2="410.91" stroke="#eeeeee" stroke-width="1" stroke-dasharray="5 4"/>
<line x1="1447.00" y1="407.35" x2="2057.30" y2="407.35" stroke="#eeeeee" stroke-width="1" stroke-dasharray="5 4"/>
<line x1="1447.00" y1="404.27" x2="2057.30" y2="404.27" stroke="#eeeeee" stroke-width="1" stroke-dasharray="5 4"/>
<line x1="1447.00" y1="401.56" x2="2057.30" y2="401.56" stroke="#eeeeee" stroke-width="1" stroke-dasharray="5 4"/>
<line x1="1447.00" y1="383.15" x2="2057.30" y2="383.15" stroke="#eeeeee" stroke-width="1" stroke-dasharray="5 4"/>
<line x1="1447.00" y1="373.80" x2="2057.30" y2="373.80" stroke="#eeeeee" stroke-width="1" stroke-dasharray="5 4"/>
<line x1="1447.00" y1="367.17" x2="2057.30" y2="367.17" stroke="#eeeeee" stroke-width="1" stroke-dasharray="5 4"/>
<line x1="1447.00" y1="362.02" x2="2057.30" y2="362.02" stroke="#eeeeee" stroke-width="1" stroke-dasharray="5 4"/>
<line x1="1447.00" y1="357.82" x2="2057.30" y2="357.82" stroke="#eeeeee" stroke-width="1" stroke-dasharray="5 4"/>
<line x1="1447.00" y1="354.26" x2="2057.30" y2="354.26" stroke="#eeeeee" stroke-width="1" stroke-dasharray="5 4"/>
<line x1="1447.00" y1="351.18" x2="2057.30" y2="351.18" stroke="#eeeeee" stroke-width="1" stroke-dasharray="5 4"/>
<line x1="1447.00" y1="348.47" x2="2057.30" y2="348.47" stroke="#eeeeee" stroke-width="1" stroke-dasharray="5 4"/>
<line x1="1447.00" y1="330.06" x2="2057.30" y2="330.06" stroke="#eeeeee" stroke-width="1" stroke-dasharray="5 4"/>
<line x1="1447.00" y1="320.71" x2="2057.30" y2="320.71" stroke="#eeeeee" stroke-width="1" stroke-dasharray="5 4"/>
<line x1="1447.00" y1="314.08" x2="2057.30" y2="314.08" stroke="#eeeeee" stroke-width="1" stroke-dasharray="5 4"/>
<line x1="1447.00" y1="308.93" x2="2057.30" y2="308.93" stroke="#eeeeee" stroke-width="1" stroke-dasharray="5 4"/>
<line x1="1447.00" y1="304.73" x2="2057.30" y2="304.73" stroke="#eeeeee" stroke-width="1" stroke-dasharray="5 4"/>
<line x1="1447.00" y1="301.17" x2="2057.30" y2="301.17" stroke="#eeeeee" stroke-width="1" stroke-dasharray="5 4"/>
<line x1="1447.00" y1="298.09" x2="2057.30" y2="298.09" stroke="#eeeeee" stroke-width="1" stroke-dasharray="5 4"/>
<line x1="1447.00" y1="295.38" x2="2057.30" y2="295.38" stroke="#eeeeee" stroke-width="1" stroke-dasharray="5 4"/>
<line x1="1447.00" y1="276.97" x2="2057.30" y2="276.97" stroke="#eeeeee" stroke-width="1" stroke-dasharray="5 4"/>
<line x1="1447.00" y1="267.62" x2="2057.30" y2="267.62" stroke="#eeeeee" stroke-width="1" stroke-dasharray="5 4"/>
<line x1="1447.00" y1="260.99" x2="2057.30" y2="260.99" stroke="#eeeeee" stroke-width="1" stroke-dasharray="5 4"/>
<line x1="1447.00" y1="255.84" x2="2057.30" y2="255.84" stroke="#eeeeee" stroke-width="1" stroke-dasharray="5 4"/>
<line x1="1447.00" y1="251.64" x2="2057.30" y2="251.64" stroke="#eeeeee" stroke-width="1" stroke-dasharray="5 4"/>
<line x1="1447.00" y1="248.08" x2="2057.30" y2="248.08" stroke="#eeeeee" stroke-width="1" stroke-dasharray="5 4"/>
<line x1="1447.00" y1="245.00" x2="2057.30" y2="245.00" stroke="#eeeeee" stroke-width="1" stroke-dasharray="5 4"/>
<line x1="1447.00" y1="242.29" x2="2057.30" y2="242.29" stroke="#eeeeee" stroke-width="1" stroke-dasharray="5 4"/>
<line x1="1447.00" y1="223.88" x2="2057.30" y2="223.88" stroke="#eeeeee" stroke-width="1" stroke-dasharray="5 4"/>
<line x1="1447.00" y1="214.53" x2="2057.30" y2="214.53" stroke="#eeeeee" stroke-width="1" stroke-dasharray="5 4"/>
<line x1="1447.00" y1="207.90" x2="2057.30" y2="207.90" stroke="#eeeeee" stroke-width="1" stroke-dasharray="5 4"/>
<line x1="1447.00" y1="202.75" x2="2057.30" y2="202.75" stroke="#eeeeee" stroke-width="1" stroke-dasharray="5 4"/>
<line x1="1447.00" y1="198.55" x2="2057.30" y2="198.55" stroke="#eeeeee" stroke-width="1" stroke-dasharray="5 4"/>
<line x1="1447.00" y1="194.99" x2="2057.30" y2="194.99" stroke="#eeeeee" stroke-width="1" stroke-dasharray="5 4"/>
<line x1="1447.00" y1="191.91" x2="2057.30" y2="191.91" stroke="#eeeeee" stroke-width="1" stroke-dasharray="5 4"/>
<line x1="1447.00" y1="189.20" x2="2057.30" y2="189.20" stroke="#eeeeee" stroke-width="1" stroke-dasharray="5 4"/>
<line x1="1447.00" y1="170.79" x2="2057.30" y2="170.79" stroke="#eeeeee" stroke-width="1" stroke-dasharray="5 4"/>
<line x1="1447.00" y1="161.44" x2="2057.30" y2="161.44" stroke="#eeeeee" stroke-width="1" stroke-dasharray="5 4"/>
<line x1="1447.00" y1="154.81" x2="2057.30" y2="154.81" stroke="#eeeeee" stroke-width="1" stroke-dasharray="5 4"/>
<line x1="1447.00" y1="149.66" x2="2057.30" y2="149.66" stroke="#eeeeee" stroke-width="1" stroke-dasharray="5 4"/>
<line x1="1447.00" y1="145.46" x2="2057.30" y2="145.46" stroke="#eeeeee" stroke-width="1" stroke-dasharray="5 4"/>
<line x1="1447.00" y1="141.90" x2="2057.30" y2="141.90" stroke="#eeeeee" stroke-width="1" stroke-dasharray="5 4"/>
<line x1="1447.00" y1="138.82" x2="2057.30" y2="138.82" stroke="#eeeeee" stroke-width="1" stroke-dasharray="5 4"/>
<line x1="1447.00" y1="136.11" x2="2057.30" y2="136.11" stroke="#eeeeee" stroke-width="1" stroke-dasharray="5 4"/>
<line x1="1447.00" y1="117.70" x2="2057.30" y2="117.70" stroke="#eeeeee" stroke-width="1" stroke-dasharray="5 4"/>
<line x1="1447.00" y1="108.35" x2="2057.30" y2="108.35" stroke="#eeeeee" stroke-width="1" stroke-dasharray="5 4"/>
<line x1="1447.00" y1="101.72" x2="2057.30" y2="101.72" stroke="#eeeeee" stroke-width="1" stroke-dasharray="5 4"/>
<line x1="1447.00" y1="96.57" x2="2057.30" y2="96.57" stroke="#eeeeee" stroke-width="1" stroke-dasharray="5 4"/>
<line x1="1447.00" y1="92.37" x2="2057.30" y2="92.37" stroke="#eeeeee" stroke-width="1" stroke-dasharray="5 4"/>
<line x1="1447.00" y1="88.81" x2="2057.30" y2="88.81" stroke="#eeeeee" stroke-width="1" stroke-dasharray="5 4"/>
<line x1="1447.00" y1="85.73" x2="2057.30" y2="85.73" stroke="#eeeeee" stroke-width="1" stroke-dasharray="5 4"/>
<line x1="1447.00" y1="83.02" x2="2057.30" y2="83.02" stroke="#eeeeee" stroke-width="1" stroke-dasharray="5 4"/>
<line x1="1447.00" y1="64.61" x2="2057.30" y2="64.61" stroke="#eeeeee" stroke-width="1" stroke-dasharray="5 4"/>
<line x1="1447.00" y1="55.26" x2="2057.30" y2="55.26" stroke="#eeeeee" stroke-width="1" stroke-dasharray="5 4"/>
<line x1="1447.00" y1="48.63" x2="2057.30" y2="48.63" stroke="#eeeeee" stroke-width="1" stroke-dasharray="5 4"/>
<line x1="1447.00" y1="43.48" x2="2057.30" y2="43.48" stroke="#eeeeee" stroke-width="1" stroke-dasharray="5 4"/>
<line x1="1447.00" y1="39.28" x2="2057.30" y2="39.28" stroke="#eeeeee" stroke-width="1" stroke-dasharray="5 4"/>
<line x1="1447.00" y1="35.72" x2="2057.30" y2="35.72" stroke="#eeeeee" stroke-width="1" stroke-dasharray="5 4"/>
<line x1="1447.00" y1="32.64" x2="2057.30" y2="32.64" stroke="#eeeeee" stroke-width="1" stroke-dasharray="5 4"/>
<line x1="1447.00" y1="29.93" x2="2057.30" y2="29.93" stroke="#eeeeee" stroke-width="1" stroke-dasharray="5 4"/>
<line x1="1447.00" y1="505.31" x2="2057.30" y2="505.31" stroke="#eeeeee" stroke-width="1" stroke-dasharray="5 4"/>
<line x1="1447.00" y1="399.13" x2="2057.30" y2="399.13" stroke="#eeeeee" stroke-width="1" stroke-dasharray="5 4"/>
<line x1="1447.00" y1="292.95" x2="2057.30" y2="292.95" stroke="#eeeeee" stroke-width="1" stroke-dasharray="5 4"/>
<line x1="1447.00" y1="186.77" x2="2057.30" y2="186.77" stroke="#eeeeee" stroke-width="1" stroke-dasharray="5 4"/>
<line x1="1447.00" y1="80.59" x2="2057.30" y2="80.59" stroke="#eeeeee" stroke-width="1" stroke-dasharray="5 4"/>
<line x1="1447.00" y1="452.22" x2="2057.30" y2="452.22" stroke="#e2e2e2" stroke-width="1"/>
<line x1="1447.00" y1="346.04" x2="2057.30" y2="346.04" stroke="#e2e2e2" stroke-width="1"/>
<line x1="1447.00" y1="239.86" x2="2057.30" y2="239.86" stroke="#e2e2e2" stroke-width="1"/>
<line x1="1447.00" y1="133.68" x2="2057.30" y2="133.68" stroke="#e2e2e2" stroke-width="1"/>
<line x1="159.50" y1="560.40" x2="166.00" y2="560.40" stroke="#505050" stroke-width="1.2"/>
<line x1="774.80" y1="560.40" x2="768.30" y2="560.40" stroke="#505050" stroke-width="1.2"/>
<line x1="159.50" y1="544.29" x2="163.00" y2="544.29" stroke="#505050" stroke-width="1.1"/>
<line x1="774.80" y1="544.29" x2="771.30" y2="544.29" stroke="#505050" stroke-width="1.1"/>
<line x1="159.50" y1="534.87" x2="163.00" y2="534.87" stroke="#505050" stroke-width="1.1"/>
<line x1="774.80" y1="534.87" x2="771.30" y2="534.87" stroke="#505050" stroke-width="1.1"/>
<line x1="159.50" y1="528.19" x2="163.00" y2="528.19" stroke="#505050" stroke-width="1.1"/>
<line x1="774.80" y1="528.19" x2="771.30" y2="528.19" stroke="#505050" stroke-width="1.1"/>
<line x1="159.50" y1="523.01" x2="163.00" y2="523.01" stroke="#505050" stroke-width="1.1"/>
<line x1="774.80" y1="523.01" x2="771.30" y2="523.01" stroke="#505050" stroke-width="1.1"/>
<line x1="159.50" y1="518.77" x2="163.00" y2="518.77" stroke="#505050" stroke-width="1.1"/>
<line x1="774.80" y1="518.77" x2="771.30" y2="518.77" stroke="#505050" stroke-width="1.1"/>
<line x1="159.50" y1="515.19" x2="163.00" y2="515.19" stroke="#505050" stroke-width="1.1"/>
<line x1="774.80" y1="515.19" x2="771.30" y2="515.19" stroke="#505050" stroke-width="1.1"/>
<line x1="159.50" y1="512.08" x2="163.00" y2="512.08" stroke="#505050" stroke-width="1.1"/>
<line x1="774.80" y1="512.08" x2="771.30" y2="512.08" stroke="#505050" stroke-width="1.1"/>
<line x1="159.50" y1="509.35" x2="163.00" y2="509.35" stroke="#505050" stroke-width="1.1"/>
<line x1="774.80" y1="509.35" x2="771.30" y2="509.35" stroke="#505050" stroke-width="1.1"/>
<line x1="159.50" y1="506.90" x2="163.00" y2="506.90" stroke="#505050" stroke-width="1.1"/>
<line x1="774.80" y1="506.90" x2="771.30" y2="506.90" stroke="#505050" stroke-width="1.1"/>
<line x1="159.50" y1="490.79" x2="163.00" y2="490.79" stroke="#505050" stroke-width="1.1"/>
<line x1="774.80" y1="490.79" x2="771.30" y2="490.79" stroke="#505050" stroke-width="1.1"/>
<line x1="159.50" y1="481.37" x2="163.00" y2="481.37" stroke="#505050" stroke-width="1.1"/>
<line x1="774.80" y1="481.37" x2="771.30" y2="481.37" stroke="#505050" stroke-width="1.1"/>
<line x1="159.50" y1="474.69" x2="163.00" y2="474.69" stroke="#505050" stroke-width="1.1"/>
<line x1="774.80" y1="474.69" x2="771.30" y2="474.69" stroke="#505050" stroke-width="1.1"/>
<line x1="159.50" y1="469.51" x2="163.00" y2="469.51" stroke="#505050" stroke-width="1.1"/>
<line x1="774.80" y1="469.51" x2="771.30" y2="469.51" stroke="#505050" stroke-width="1.1"/>
<line x1="159.50" y1="465.27" x2="163.00" y2="465.27" stroke="#505050" stroke-width="1.1"/>
<line x1="774.80" y1="465.27" x2="771.30" y2="465.27" stroke="#505050" stroke-width="1.1"/>
<line x1="159.50" y1="461.69" x2="163.00" y2="461.69" stroke="#505050" stroke-width="1.1"/>
<line x1="774.80" y1="461.69" x2="771.30" y2="461.69" stroke="#505050" stroke-width="1.1"/>
<line x1="159.50" y1="458.58" x2="163.00" y2="458.58" stroke="#505050" stroke-width="1.1"/>
<line x1="774.80" y1="458.58" x2="771.30" y2="458.58" stroke="#505050" stroke-width="1.1"/>
<line x1="159.50" y1="455.85" x2="163.00" y2="455.85" stroke="#505050" stroke-width="1.1"/>
<line x1="774.80" y1="455.85" x2="771.30" y2="455.85" stroke="#505050" stroke-width="1.1"/>
<line x1="159.50" y1="453.40" x2="166.00" y2="453.40" stroke="#505050" stroke-width="1.2"/>
<line x1="774.80" y1="453.40" x2="768.30" y2="453.40" stroke="#505050" stroke-width="1.2"/>
<line x1="159.50" y1="437.29" x2="163.00" y2="437.29" stroke="#505050" stroke-width="1.1"/>
<line x1="774.80" y1="437.29" x2="771.30" y2="437.29" stroke="#505050" stroke-width="1.1"/>
<line x1="159.50" y1="427.87" x2="163.00" y2="427.87" stroke="#505050" stroke-width="1.1"/>
<line x1="774.80" y1="427.87" x2="771.30" y2="427.87" stroke="#505050" stroke-width="1.1"/>
<line x1="159.50" y1="421.19" x2="163.00" y2="421.19" stroke="#505050" stroke-width="1.1"/>
<line x1="774.80" y1="421.19" x2="771.30" y2="421.19" stroke="#505050" stroke-width="1.1"/>
<line x1="159.50" y1="416.01" x2="163.00" y2="416.01" stroke="#505050" stroke-width="1.1"/>
<line x1="774.80" y1="416.01" x2="771.30" y2="416.01" stroke="#505050" stroke-width="1.1"/>
<line x1="159.50" y1="411.77" x2="163.00" y2="411.77" stroke="#505050" stroke-width="1.1"/>
<line x1="774.80" y1="411.77" x2="771.30" y2="411.77" stroke="#505050" stroke-width="1.1"/>
<line x1="159.50" y1="408.19" x2="163.00" y2="408.19" stroke="#505050" stroke-width="1.1"/>
<line x1="774.80" y1="408.19" x2="771.30" y2="408.19" stroke="#505050" stroke-width="1.1"/>
<line x1="159.50" y1="405.08" x2="163.00" y2="405.08" stroke="#505050" stroke-width="1.1"/>
<line x1="774.80" y1="405.08" x2="771.30" y2="405.08" stroke="#505050" stroke-width="1.1"/>
<line x1="159.50" y1="402.35" x2="163.00" y2="402.35" stroke="#505050" stroke-width="1.1"/>
<line x1="774.80" y1="402.35" x2="771.30" y2="402.35" stroke="#505050" stroke-width="1.1"/>
<line x1="159.50" y1="399.90" x2="163.00" y2="399.90" stroke="#505050" stroke-width="1.1"/>
<line x1="774.80" y1="399.90" x2="771.30" y2="399.90" stroke="#505050" stroke-width="1.1"/>
<line x1="159.50" y1="383.79" x2="163.00" y2="383.79" stroke="#505050" stroke-width="1.1"/>
<line x1="774.80" y1="383.79" x2="771.30" y2="383.79" stroke="#505050" stroke-width="1.1"/>
<line x1="159.50" y1="374.37" x2="163.00" y2="374.37" stroke="#505050" stroke-width="1.1"/>
<line x1="774.80" y1="374.37" x2="771.30" y2="374.37" stroke="#505050" stroke-width="1.1"/>
<line x1="159.50" y1="367.69" x2="163.00" y2="367.69" stroke="#505050" stroke-width="1.1"/>
<line x1="774.80" y1="367.69" x2="771.30" y2="367.69" stroke="#505050" stroke-width="1.1"/>
<line x1="159.50" y1="362.51" x2="163.00" y2="362.51" stroke="#505050" stroke-width="1.1"/>
<line x1="774.80" y1="362.51" x2="771.30" y2="362.51" stroke="#505050" stroke-width="1.1"/>
<line x1="159.50" y1="358.27" x2="163.00" y2="358.27" stroke="#505050" stroke-width="1.1"/>
<line x1="774.80" y1="358.27" x2="771.30" y2="358.27" stroke="#505050" stroke-width="1.1"/>
<line x1="159.50" y1="354.69" x2="163.00" y2="354.69" stroke="#505050" stroke-width="1.1"/>
<line x1="774.80" y1="354.69" x2="771.30" y2="354.69" stroke="#505050" stroke-width="1.1"/>
<line x1="159.50" y1="351.58" x2="163.00" y2="351.58" stroke="#505050" stroke-width="1.1"/>
<line x1="774.80" y1="351.58" x2="771.30" y2="351.58" stroke="#505050" stroke-width="1.1"/>
<line x1="159.50" y1="348.85" x2="163.00" y2="348.85" stroke="#505050" stroke-width="1.1"/>
<line x1="774.80" y1="348.85" x2="771.30" y2="348.85" stroke="#505050" stroke-width="1.1"/>
<line x1="159.50" y1="346.40" x2="166.00" y2="346.40" stroke="#505050" stroke-width="1.2"/>
<line x1="774.80" y1="346.40" x2="768.30" y2="346.40" stroke="#505050" stroke-width="1.2"/>
<line x1="159.50" y1="330.29" x2="163.00" y2="330.29" stroke="#505050" stroke-width="1.1"/>
<line x1="774.80" y1="330.29" x2="771.30" y2="330.29" stroke="#505050" stroke-width="1.1"/>
<line x1="159.50" y1="320.87" x2="163.00" y2="320.87" stroke="#505050" stroke-width="1.1"/>
<line x1="774.80" y1="320.87" x2="771.30" y2="320.87" stroke="#505050" stroke-width="1.1"/>
<line x1="159.50" y1="314.19" x2="163.00" y2="314.19" stroke="#505050" stroke-width="1.1"/>
<line x1="774.80" y1="314.19" x2="771.30" y2="314.19" stroke="#505050" stroke-width="1.1"/>
<line x1="159.50" y1="309.01" x2="163.00" y2="309.01" stroke="#505050" stroke-width="1.1"/>
<line x1="774.80" y1="309.01" x2="771.30" y2="309.01" stroke="#505050" stroke-width="1.1"/>
<line x1="159.50" y1="304.77" x2="163.00" y2="304.77" stroke="#505050" stroke-width="1.1"/>
<line x1="774.80" y1="304.77" x2="771.30" y2="304.77" stroke="#505050" stroke-width="1.1"/>
<line x1="159.50" y1="301.19" x2="163.00" y2="301.19" stroke="#505050" stroke-width="1.1"/>
<line x1="774.80" y1="301.19" x2="771.30" y2="301.19" stroke="#505050" stroke-width="1.1"/>
<line x1="159.50" y1="298.08" x2="163.00" y2="298.08" stroke="#505050" stroke-width="1.1"/>
<line x1="774.80" y1="298.08" x2="771.30" y2="298.08" stroke="#505050" stroke-width="1.1"/>
<line x1="159.50" y1="295.35" x2="163.00" y2="295.35" stroke="#505050" stroke-width="1.1"/>
<line x1="774.80" y1="295.35" x2="771.30" y2="295.35" stroke="#505050" stroke-width="1.1"/>
<line x1="159.50" y1="292.90" x2="163.00" y2="292.90" stroke="#505050" stroke-width="1.1"/>
<line x1="774.80" y1="292.90" x2="771.30" y2="292.90" stroke="#505050" stroke-width="1.1"/>
<line x1="159.50" y1="276.79" x2="163.00" y2="276.79" stroke="#505050" stroke-width="1.1"/>
<line x1="774.80" y1="276.79" x2="771.30" y2="276.79" stroke="#505050" stroke-width="1.1"/>
<line x1="159.50" y1="267.37" x2="163.00" y2="267.37" stroke="#505050" stroke-width="1.1"/>
<line x1="774.80" y1="267.37" x2="771.30" y2="267.37" stroke="#505050" stroke-width="1.1"/>
<line x1="159.50" y1="260.69" x2="163.00" y2="260.69" stroke="#505050" stroke-width="1.1"/>
<line x1="774.80" y1="260.69" x2="771.30" y2="260.69" stroke="#505050" stroke-width="1.1"/>
<line x1="159.50" y1="255.51" x2="163.00" y2="255.51" stroke="#505050" stroke-width="1.1"/>
<line x1="774.80" y1="255.51" x2="771.30" y2="255.51" stroke="#505050" stroke-width="1.1"/>
<line x1="159.50" y1="251.27" x2="163.00" y2="251.27" stroke="#505050" stroke-width="1.1"/>
<line x1="774.80" y1="251.27" x2="771.30" y2="251.27" stroke="#505050" stroke-width="1.1"/>
<line x1="159.50" y1="247.69" x2="163.00" y2="247.69" stroke="#505050" stroke-width="1.1"/>
<line x1="774.80" y1="247.69" x2="771.30" y2="247.69" stroke="#505050" stroke-width="1.1"/>
<line x1="159.50" y1="244.58" x2="163.00" y2="244.58" stroke="#505050" stroke-width="1.1"/>
<line x1="774.80" y1="244.58" x2="771.30" y2="244.58" stroke="#505050" stroke-width="1.1"/>
<line x1="159.50" y1="241.85" x2="163.00" y2="241.85" stroke="#505050" stroke-width="1.1"/>
<line x1="774.80" y1="241.85" x2="771.30" y2="241.85" stroke="#505050" stroke-width="1.1"/>
<line x1="159.50" y1="239.40" x2="166.00" y2="239.40" stroke="#505050" stroke-width="1.2"/>
<line x1="774.80" y1="239.40" x2="768.30" y2="239.40" stroke="#505050" stroke-width="1.2"/>
<line x1="159.50" y1="223.29" x2="163.00" y2="223.29" stroke="#505050" stroke-width="1.1"/>
<line x1="774.80" y1="223.29" x2="771.30" y2="223.29" stroke="#505050" stroke-width="1.1"/>
<line x1="159.50" y1="213.87" x2="163.00" y2="213.87" stroke="#505050" stroke-width="1.1"/>
<line x1="774.80" y1="213.87" x2="771.30" y2="213.87" stroke="#505050" stroke-width="1.1"/>
<line x1="159.50" y1="207.19" x2="163.00" y2="207.19" stroke="#505050" stroke-width="1.1"/>
<line x1="774.80" y1="207.19" x2="771.30" y2="207.19" stroke="#505050" stroke-width="1.1"/>
<line x1="159.50" y1="202.01" x2="163.00" y2="202.01" stroke="#505050" stroke-width="1.1"/>
<line x1="774.80" y1="202.01" x2="771.30" y2="202.01" stroke="#505050" stroke-width="1.1"/>
<line x1="159.50" y1="197.77" x2="163.00" y2="197.77" stroke="#505050" stroke-width="1.1"/>
<line x1="774.80" y1="197.77" x2="771.30" y2="197.77" stroke="#505050" stroke-width="1.1"/>
<line x1="159.50" y1="194.19" x2="163.00" y2="194.19" stroke="#505050" stroke-width="1.1"/>
<line x1="774.80" y1="194.19" x2="771.30" y2="194.19" stroke="#505050" stroke-width="1.1"/>
<line x1="159.50" y1="191.08" x2="163.00" y2="191.08" stroke="#505050" stroke-width="1.1"/>
<line x1="774.80" y1="191.08" x2="771.30" y2="191.08" stroke="#505050" stroke-width="1.1"/>
<line x1="159.50" y1="188.35" x2="163.00" y2="188.35" stroke="#505050" stroke-width="1.1"/>
<line x1="774.80" y1="188.35" x2="771.30" y2="188.35" stroke="#505050" stroke-width="1.1"/>
<line x1="159.50" y1="185.90" x2="163.00" y2="185.90" stroke="#505050" stroke-width="1.1"/>
<line x1="774.80" y1="185.90" x2="771.30" y2="185.90" stroke="#505050" stroke-width="1.1"/>
<line x1="159.50" y1="169.79" x2="163.00" y2="169.79" stroke="#505050" stroke-width="1.1"/>
<line x1="774.80" y1="169.79" x2="771.30" y2="169.79" stroke="#505050" stroke-width="1.1"/>
<line x1="159.50" y1="160.37" x2="163.00" y2="160.37" stroke="#505050" stroke-width="1.1"/>
<line x1="774.80" y1="160.37" x2="771.30" y2="160.37" stroke="#505050" stroke-width="1.1"/>
<line x1="159.50" y1="153.69" x2="163.00" y2="153.69" stroke="#505050" stroke-width="1.1"/>
<line x1="774.80" y1="153.69" x2="771.30" y2="153.69" stroke="#505050" stroke-width="1.1"/>
<line x1="159.50" y1="148.51" x2="163.00" y2="148.51" stroke="#505050" stroke-width="1.1"/>
<line x1="774.80" y1="148.51" x2="771.30" y2="148.51" stroke="#505050" stroke-width="1.1"/>
<line x1="159.50" y1="144.27" x2="163.00" y2="144.27" stroke="#505050" stroke-width="1.1"/>
<line x1="774.80" y1="144.27" x2="771.30" y2="144.27" stroke="#505050" stroke-width="1.1"/>
<line x1="159.50" y1="140.69" x2="163.00" y2="140.69" stroke="#505050" stroke-width="1.1"/>
<line x1="774.80" y1="140.69" x2="771.30" y2="140.69" stroke="#505050" stroke-width="1.1"/>
<line x1="159.50" y1="137.58" x2="163.00" y2="137.58" stroke="#505050" stroke-width="1.1"/>
<line x1="774.80" y1="137.58" x2="771.30" y2="137.58" stroke="#505050" stroke-width="1.1"/>
<line x1="159.50" y1="134.85" x2="163.00" y2="134.85" stroke="#505050" stroke-width="1.1"/>
<line x1="774.80" y1="134.85" x2="771.30" y2="134.85" stroke="#505050" stroke-width="1.1"/>
<line x1="159.50" y1="132.40" x2="166.00" y2="132.40" stroke="#505050" stroke-width="1.2"/>
<line x1="774.80" y1="132.40" x2="768.30" y2="132.40" stroke="#505050" stroke-width="1.2"/>
<line x1="159.50" y1="116.29" x2="163.00" y2="116.29" stroke="#505050" stroke-width="1.1"/>
<line x1="774.80" y1="116.29" x2="771.30" y2="116.29" stroke="#505050" stroke-width="1.1"/>
<line x1="159.50" y1="106.87" x2="163.00" y2="106.87" stroke="#505050" stroke-width="1.1"/>
<line x1="774.80" y1="106.87" x2="771.30" y2="106.87" stroke="#505050" stroke-width="1.1"/>
<line x1="159.50" y1="100.19" x2="163.00" y2="100.19" stroke="#505050" stroke-width="1.1"/>
<line x1="774.80" y1="100.19" x2="771.30" y2="100.19" stroke="#505050" stroke-width="1.1"/>
<line x1="159.50" y1="95.01" x2="163.00" y2="95.01" stroke="#505050" stroke-width="1.1"/>
<line x1="774.80" y1="95.01" x2="771.30" y2="95.01" stroke="#505050" stroke-width="1.1"/>
<line x1="159.50" y1="90.77" x2="163.00" y2="90.77" stroke="#505050" stroke-width="1.1"/>
<line x1="774.80" y1="90.77" x2="771.30" y2="90.77" stroke="#505050" stroke-width="1.1"/>
<line x1="159.50" y1="87.19" x2="163.00" y2="87.19" stroke="#505050" stroke-width="1.1"/>
<line x1="774.80" y1="87.19" x2="771.30" y2="87.19" stroke="#505050" stroke-width="1.1"/>
<line x1="159.50" y1="84.08" x2="163.00" y2="84.08" stroke="#505050" stroke-width="1.1"/>
<line x1="774.80" y1="84.08" x2="771.30" y2="84.08" stroke="#505050" stroke-width="1.1"/>
<line x1="159.50" y1="81.35" x2="163.00" y2="81.35" stroke="#505050" stroke-width="1.1"/>
<line x1="774.80" y1="81.35" x2="771.30" y2="81.35" stroke="#505050" stroke-width="1.1"/>
<line x1="159.50" y1="78.90" x2="163.00" y2="78.90" stroke="#505050" stroke-width="1.1"/>
<line x1="774.80" y1="78.90" x2="771.30" y2="78.90" stroke="#505050" stroke-width="1.1"/>
<line x1="159.50" y1="62.79" x2="163.00" y2="62.79" stroke="#505050" stroke-width="1.1"/>
<line x1="774.80" y1="62.79" x2="771.30" y2="62.79" stroke="#505050" stroke-width="1.1"/>
<line x1="159.50" y1="53.37" x2="163.00" y2="53.37" stroke="#505050" stroke-width="1.1"/>
<line x1="774.80" y1="53.37" x2="771.30" y2="53.37" stroke="#505050" stroke-width="1.1"/>
<line x1="159.50" y1="46.69" x2="163.00" y2="46.69" stroke="#505050" stroke-width="1.1"/>
<line x1="774.80" y1="46.69" x2="771.30" y2="46.69" stroke="#505050" stroke-width="1.1"/>
<line x1="159.50" y1="41.51" x2="163.00" y2="41.51" stroke="#505050" stroke-width="1.1"/>
<line x1="774.80" y1="41.51" x2="771.30" y2="41.51" stroke="#505050" stroke-width="1.1"/>
<line x1="159.50" y1="37.27" x2="163.00" y2="37.27" stroke="#505050" stroke-width="1.1"/>
<line x1="774.80" y1="37.27" x2="771.30" y2="37.27" stroke="#505050" stroke-width="1.1"/>
<line x1="159.50" y1="33.69" x2="163.00" y2="33.69" stroke="#505050" stroke-width="1.1"/>
<line x1="774.80" y1="33.69" x2="771.30" y2="33.69" stroke="#505050" stroke-width="1.1"/>
<line x1="159.50" y1="30.58" x2="163.00" y2="30.58" stroke="#505050" stroke-width="1.1"/>
<line x1="774.80" y1="30.58" x2="771.30" y2="30.58" stroke="#505050" stroke-width="1.1"/>
<line x1="159.50" y1="27.85" x2="163.00" y2="27.85" stroke="#505050" stroke-width="1.1"/>
<line x1="774.80" y1="27.85" x2="771.30" y2="27.85" stroke="#505050" stroke-width="1.1"/>
<line x1="159.50" y1="25.40" x2="166.00" y2="25.40" stroke="#505050" stroke-width="1.2"/>
<line x1="774.80" y1="25.40" x2="768.30" y2="25.40" stroke="#505050" stroke-width="1.2"/>
<line x1="268.52" y1="560.40" x2="268.52" y2="556.90" stroke="#505050" stroke-width="1.1"/>
<line x1="268.52" y1="25.40" x2="268.52" y2="28.90" stroke="#505050" stroke-width="1.1"/>
<line x1="332.29" y1="560.40" x2="332.29" y2="556.90" stroke="#505050" stroke-width="1.1"/>
<line x1="332.29" y1="25.40" x2="332.29" y2="28.90" stroke="#505050" stroke-width="1.1"/>
<line x1="377.54" y1="560.40" x2="377.54" y2="556.90" stroke="#505050" stroke-width="1.1"/>
<line x1="377.54" y1="25.40" x2="377.54" y2="28.90" stroke="#505050" stroke-width="1.1"/>
<line x1="412.64" y1="560.40" x2="412.64" y2="556.90" stroke="#505050" stroke-width="1.1"/>
<line x1="412.64" y1="25.40" x2="412.64" y2="28.90" stroke="#505050" stroke-width="1.1"/>
<line x1="441.32" y1="560.40" x2="441.32" y2="556.90" stroke="#505050" stroke-width="1.1"/>
<line x1="441.32" y1="25.40" x2="441.32" y2="28.90" stroke="#505050" stroke-width="1.1"/>
<line x1="465.56" y1="560.40" x2="465.56" y2="556.90" stroke="#505050" stroke-width="1.1"/>
<line x1="465.56" y1="25.40" x2="465.56" y2="28.90" stroke="#505050" stroke-width="1.1"/>
<line x1="486.56" y1="560.40" x2="486.56" y2="556.90" stroke="#505050" stroke-width="1.1"/>
<line x1="486.56" y1="25.40" x2="486.56" y2="28.90" stroke="#505050" stroke-width="1.1"/>
<line x1="505.09" y1="560.40" x2="505.09" y2="556.90" stroke="#505050" stroke-width="1.1"/>
<line x1="505.09" y1="25.40" x2="505.09" y2="28.90" stroke="#505050" stroke-width="1.1"/>
<line x1="521.66" y1="560.40" x2="521.66" y2="553.90" stroke="#505050" stroke-width="1.1"/>
<line x1="521.66" y1="25.40" x2="521.66" y2="31.90" stroke="#505050" stroke-width="1.1"/>
<line x1="630.68" y1="560.40" x2="630.68" y2="556.90" stroke="#505050" stroke-width="1.1"/>
<line x1="630.68" y1="25.40" x2="630.68" y2="28.90" stroke="#505050" stroke-width="1.1"/>
<line x1="694.46" y1="560.40" x2="694.46" y2="556.90" stroke="#505050" stroke-width="1.1"/>
<line x1="694.46" y1="25.40" x2="694.46" y2="28.90" stroke="#505050" stroke-width="1.1"/>
<line x1="739.70" y1="560.40" x2="739.70" y2="556.90" stroke="#505050" stroke-width="1.1"/>
<line x1="739.70" y1="25.40" x2="739.70" y2="28.90" stroke="#505050" stroke-width="1.1"/>
<line x1="159.0" y1="25.5" x2="775.0" y2="25.5" stroke="#6a6a6a" stroke-width="1.1"/>
<line x1="159.0" y1="560.5" x2="775.0" y2="560.5" stroke="#8e8e8e" stroke-width="1.1"/>
<line x1="159.5" y1="25.5" x2="159.5" y2="560.5" stroke="#858585" stroke-width="1.1"/>
<line x1="774.5" y1="25.5" x2="774.5" y2="560.5" stroke="#454545" stroke-width="1.1"/>
<line x1="803.40" y1="560.40" x2="809.90" y2="560.40" stroke="#505050" stroke-width="1.2"/>
<line x1="1413.70" y1="560.40" x2="1407.20" y2="560.40" stroke="#505050" stroke-width="1.2"/>
<line x1="803.40" y1="544.38" x2="806.90" y2="544.38" stroke="#505050" stroke-width="1.1"/>
<line x1="1413.70" y1="544.38" x2="1410.20" y2="544.38" stroke="#505050" stroke-width="1.1"/>
<line x1="803.40" y1="535.01" x2="806.90" y2="535.01" stroke="#505050" stroke-width="1.1"/>
<line x1="1413.70" y1="535.01" x2="1410.20" y2="535.01" stroke="#505050" stroke-width="1.1"/>
<line x1="803.40" y1="528.36" x2="806.90" y2="528.36" stroke="#505050" stroke-width="1.1"/>
<line x1="1413.70" y1="528.36" x2="1410.20" y2="528.36" stroke="#505050" stroke-width="1.1"/>
<line x1="803.40" y1="523.20" x2="806.90" y2="523.20" stroke="#505050" stroke-width="1.1"/>
<line x1="1413.70" y1="523.20" x2="1410.20" y2="523.20" stroke="#505050" stroke-width="1.1"/>
<line x1="803.40" y1="518.99" x2="806.90" y2="518.99" stroke="#505050" stroke-width="1.1"/>
<line x1="1413.70" y1="518.99" x2="1410.20" y2="518.99" stroke="#505050" stroke-width="1.1"/>
<line x1="803.40" y1="515.42" x2="806.90" y2="515.42" stroke="#505050" stroke-width="1.1"/>
<line x1="1413.70" y1="515.42" x2="1410.20" y2="515.42" stroke="#505050" stroke-width="1.1"/>
<line x1="803.40" y1="512.34" x2="806.90" y2="512.34" stroke="#505050" stroke-width="1.1"/>
<line x1="1413.70" y1="512.34" x2="1410.20" y2="512.34" stroke="#505050" stroke-width="1.1"/>
<line x1="803.40" y1="509.62" x2="806.90" y2="509.62" stroke="#505050" stroke-width="1.1"/>
<line x1="1413.70" y1="509.62" x2="1410.20" y2="509.62" stroke="#505050" stroke-width="1.1"/>
<line x1="803.40" y1="507.18" x2="806.90" y2="507.18" stroke="#505050" stroke-width="1.1"/>
<line x1="1413.70" y1="507.18" x2="1410.20" y2="507.18" stroke="#505050" stroke-width="1.1"/>
<line x1="803.40" y1="491.16" x2="806.90" y2="491.16" stroke="#505050" stroke-width="1.1"/>
<line x1="1413.70" y1="491.16" x2="1410.20" y2="491.16" stroke="#505050" stroke-width="1.1"/>
<line x1="803.40" y1="481.79" x2="806.90" y2="481.79" stroke="#505050" stroke-width="1.1"/>
<line x1="1413.70" y1="481.79" x2="1410.20" y2="481.79" stroke="#505050" stroke-width="1.1"/>
<line x1="803.40" y1="475.14" x2="806.90" y2="475.14" stroke="#505050" stroke-width="1.1"/>
<line x1="1413.70" y1="475.14" x2="1410.20" y2="475.14" stroke="#505050" stroke-width="1.1"/>
<line x1="803.40" y1="469.98" x2="806.90" y2="469.98" stroke="#505050" stroke-width="1.1"/>
<line x1="1413.70" y1="469.98" x2="1410.20" y2="469.98" stroke="#505050" stroke-width="1.1"/>
<line x1="803.40" y1="465.77" x2="806.90" y2="465.77" stroke="#505050" stroke-width="1.1"/>
<line x1="1413.70" y1="465.77" x2="1410.20" y2="465.77" stroke="#505050" stroke-width="1.1"/>
<line x1="803.40" y1="462.20" x2="806.90" y2="462.20" stroke="#505050" stroke-width="1.1"/>
<line x1="1413.70" y1="462.20" x2="1410.20" y2="462.20" stroke="#505050" stroke-width="1.1"/>
<line x1="803.40" y1="459.12" x2="806.90" y2="459.12" stroke="#505050" stroke-width="1.1"/>
<line x1="1413.70" y1="459.12" x2="1410.20" y2="459.12" stroke="#505050" stroke-width="1.1"/>
<line x1="803.40" y1="456.40" x2="806.90" y2="456.40" stroke="#505050" stroke-width="1.1"/>
<line x1="1413.70" y1="456.40" x2="1410.20" y2="456.40" stroke="#505050" stroke-width="1.1"/>
<line x1="803.40" y1="453.96" x2="809.90" y2="453.96" stroke="#505050" stroke-width="1.2"/>
<line x1="1413.70" y1="453.96" x2="1407.20" y2="453.96" stroke="#505050" stroke-width="1.2"/>
<line x1="803.40" y1="437.94" x2="806.90" y2="437.94" stroke="#505050" stroke-width="1.1"/>
<line x1="1413.70" y1="437.94" x2="1410.20" y2="437.94" stroke="#505050" stroke-width="1.1"/>
<line x1="803.40" y1="428.57" x2="806.90" y2="428.57" stroke="#505050" stroke-width="1.1"/>
<line x1="1413.70" y1="428.57" x2="1410.20" y2="428.57" stroke="#505050" stroke-width="1.1"/>
<line x1="803.40" y1="421.92" x2="806.90" y2="421.92" stroke="#505050" stroke-width="1.1"/>
<line x1="1413.70" y1="421.92" x2="1410.20" y2="421.92" stroke="#505050" stroke-width="1.1"/>
<line x1="803.40" y1="416.76" x2="806.90" y2="416.76" stroke="#505050" stroke-width="1.1"/>
<line x1="1413.70" y1="416.76" x2="1410.20" y2="416.76" stroke="#505050" stroke-width="1.1"/>
<line x1="803.40" y1="412.55" x2="806.90" y2="412.55" stroke="#505050" stroke-width="1.1"/>
<line x1="1413.70" y1="412.55" x2="1410.20" y2="412.55" stroke="#505050" stroke-width="1.1"/>
<line x1="803.40" y1="408.98" x2="806.90" y2="408.98" stroke="#505050" stroke-width="1.1"/>
<line x1="1413.70" y1="408.98" x2="1410.20" y2="408.98" stroke="#505050" stroke-width="1.1"/>
<line x1="803.40" y1="405.90" x2="806.90" y2="405.90" stroke="#505050" stroke-width="1.1"/>
<line x1="1413.70" y1="405.90" x2="1410.20" y2="405.90" stroke="#505050" stroke-width="1.1"/>
<line x1="803.40" y1="403.18" x2="806.90" y2="403.18" stroke="#505050" stroke-width="1.1"/>
<line x1="1413.70" y1="403.18" x2="1410.20" y2="403.18" stroke="#505050" stroke-width="1.1"/>
<line x1="803.40" y1="400.74" x2="806.90" y2="400.74" stroke="#505050" stroke-width="1.1"/>
<line x1="1413.70" y1="400.74" x2="1410.20" y2="400.74" stroke="#505050" stroke-width="1.1"/>
<line x1="803.40" y1="384.72" x2="806.90" y2="384.72" stroke="#505050" stroke-width="1.1"/>
<line x1="1413.70" y1="384.72" x2="1410.20" y2="384.72" stroke="#505050" stroke-width="1.1"/>
<line x1="803.40" y1="375.35" x2="806.90" y2="375.35" stroke="#505050" stroke-width="1.1"/>
<line x1="1413.70" y1="375.35" x2="1410.20" y2="375.35" stroke="#505050" stroke-width="1.1"/>
<line x1="803.40" y1="368.70" x2="806.90" y2="368.70" stroke="#505050" stroke-width="1.1"/>
<line x1="1413.70" y1="368.70" x2="1410.20" y2="368.70" stroke="#505050" stroke-width="1.1"/>
<line x1="803.40" y1="363.54" x2="806.90" y2="363.54" stroke="#505050" stroke-width="1.1"/>
<line x1="1413.70" y1="363.54" x2="1410.20" y2="363.54" stroke="#505050" stroke-width="1.1"/>
<line x1="803.40" y1="359.33" x2="806.90" y2="359.33" stroke="#505050" stroke-width="1.1"/>
<line x1="1413.70" y1="359.33" x2="1410.20" y2="359.33" stroke="#505050" stroke-width="1.1"/>
<line x1="803.40" y1="355.76" x2="806.90" y2="355.76" stroke="#505050" stroke-width="1.1"/>
<line x1="1413.70" y1="355.76" x2="1410.20" y2="355.76" stroke="#505050" stroke-width="1.1"/>
<line x1="803.40" y1="352.68" x2="806.90" y2="352.68" stroke="#505050" stroke-width="1.1"/>
<line x1="1413.70" y1="352.68" x2="1410.20" y2="352.68" stroke="#505050" stroke-width="1.1"/>
<line x1="803.40" y1="349.96" x2="806.90" y2="349.96" stroke="#505050" stroke-width="1.1"/>
<line x1="1413.70" y1="349.96" x2="1410.20" y2="349.96" stroke="#505050" stroke-width="1.1"/>
<line x1="803.40" y1="347.52" x2="809.90" y2="347.52" stroke="#505050" stroke-width="1.2"/>
<line x1="1413.70" y1="347.52" x2="1407.20" y2="347.52" stroke="#505050" stroke-width="1.2"/>
<line x1="803.40" y1="331.50" x2="806.90" y2="331.50" stroke="#505050" stroke-width="1.1"/>
<line x1="1413.70" y1="331.50" x2="1410.20" y2="331.50" stroke="#505050" stroke-width="1.1"/>
<line x1="803.40" y1="322.13" x2="806.90" y2="322.13" stroke="#505050" stroke-width="1.1"/>
<line x1="1413.70" y1="322.13" x2="1410.20" y2="322.13" stroke="#505050" stroke-width="1.1"/>
<line x1="803.40" y1="315.48" x2="806.90" y2="315.48" stroke="#505050" stroke-width="1.1"/>
<line x1="1413.70" y1="315.48" x2="1410.20" y2="315.48" stroke="#505050" stroke-width="1.1"/>
<line x1="803.40" y1="310.32" x2="806.90" y2="310.32" stroke="#505050" stroke-width="1.1"/>
<line x1="1413.70" y1="310.32" x2="1410.20" y2="310.32" stroke="#505050" stroke-width="1.1"/>
<line x1="803.40" y1="306.11" x2="806.90" y2="306.11" stroke="#505050" stroke-width="1.1"/>
<line x1="1413.70" y1="306.11" x2="1410.20" y2="306.11" stroke="#505050" stroke-width="1.1"/>
<line x1="803.40" y1="302.54" x2="806.90" y2="302.54" stroke="#505050" stroke-width="1.1"/>
<line x1="1413.70" y1="302.54" x2="1410.20" y2="302.54" stroke="#505050" stroke-width="1.1"/>
<line x1="803.40" y1="299.46" x2="806.90" y2="299.46" stroke="#505050" stroke-width="1.1"/>
<line x1="1413.70" y1="299.46" x2="1410.20" y2="299.46" stroke="#505050" stroke-width="1.1"/>
<line x1="803.40" y1="296.74" x2="806.90" y2="296.74" stroke="#505050" stroke-width="1.1"/>
<line x1="1413.70" y1="296.74" x2="1410.20" y2="296.74" stroke="#505050" stroke-width="1.1"/>
<line x1="803.40" y1="294.30" x2="806.90" y2="294.30" stroke="#505050" stroke-width="1.1"/>
<line x1="1413.70" y1="294.30" x2="1410.20" y2="294.30" stroke="#505050" stroke-width="1.1"/>
<line x1="803.40" y1="278.28" x2="806.90" y2="278.28" stroke="#505050" stroke-width="1.1"/>
<line x1="1413.70" y1="278.28" x2="1410.20" y2="278.28" stroke="#505050" stroke-width="1.1"/>
<line x1="803.40" y1="268.91" x2="806.90" y2="268.91" stroke="#505050" stroke-width="1.1"/>
<line x1="1413.70" y1="268.91" x2="1410.20" y2="268.91" stroke="#505050" stroke-width="1.1"/>
<line x1="803.40" y1="262.26" x2="806.90" y2="262.26" stroke="#505050" stroke-width="1.1"/>
<line x1="1413.70" y1="262.26" x2="1410.20" y2="262.26" stroke="#505050" stroke-width="1.1"/>
<line x1="803.40" y1="257.10" x2="806.90" y2="257.10" stroke="#505050" stroke-width="1.1"/>
<line x1="1413.70" y1="257.10" x2="1410.20" y2="257.10" stroke="#505050" stroke-width="1.1"/>
<line x1="803.40" y1="252.89" x2="806.90" y2="252.89" stroke="#505050" stroke-width="1.1"/>
<line x1="1413.70" y1="252.89" x2="1410.20" y2="252.89" stroke="#505050" stroke-width="1.1"/>
<line x1="803.40" y1="249.32" x2="806.90" y2="249.32" stroke="#505050" stroke-width="1.1"/>
<line x1="1413.70" y1="249.32" x2="1410.20" y2="249.32" stroke="#505050" stroke-width="1.1"/>
<line x1="803.40" y1="246.24" x2="806.90" y2="246.24" stroke="#505050" stroke-width="1.1"/>
<line x1="1413.70" y1="246.24" x2="1410.20" y2="246.24" stroke="#505050" stroke-width="1.1"/>
<line x1="803.40" y1="243.52" x2="806.90" y2="243.52" stroke="#505050" stroke-width="1.1"/>
<line x1="1413.70" y1="243.52" x2="1410.20" y2="243.52" stroke="#505050" stroke-width="1.1"/>
<line x1="803.40" y1="241.08" x2="809.90" y2="241.08" stroke="#505050" stroke-width="1.2"/>
<line x1="1413.70" y1="241.08" x2="1407.20" y2="241.08" stroke="#505050" stroke-width="1.2"/>
<line x1="803.40" y1="225.06" x2="806.90" y2="225.06" stroke="#505050" stroke-width="1.1"/>
<line x1="1413.70" y1="225.06" x2="1410.20" y2="225.06" stroke="#505050" stroke-width="1.1"/>
<line x1="803.40" y1="215.69" x2="806.90" y2="215.69" stroke="#505050" stroke-width="1.1"/>
<line x1="1413.70" y1="215.69" x2="1410.20" y2="215.69" stroke="#505050" stroke-width="1.1"/>
<line x1="803.40" y1="209.04" x2="806.90" y2="209.04" stroke="#505050" stroke-width="1.1"/>
<line x1="1413.70" y1="209.04" x2="1410.20" y2="209.04" stroke="#505050" stroke-width="1.1"/>
<line x1="803.40" y1="203.88" x2="806.90" y2="203.88" stroke="#505050" stroke-width="1.1"/>
<line x1="1413.70" y1="203.88" x2="1410.20" y2="203.88" stroke="#505050" stroke-width="1.1"/>
<line x1="803.40" y1="199.67" x2="806.90" y2="199.67" stroke="#505050" stroke-width="1.1"/>
<line x1="1413.70" y1="199.67" x2="1410.20" y2="199.67" stroke="#505050" stroke-width="1.1"/>
<line x1="803.40" y1="196.10" x2="806.90" y2="196.10" stroke="#505050" stroke-width="1.1"/>
<line x1="1413.70" y1="196.10" x2="1410.20" y2="196.10" stroke="#505050" stroke-width="1.1"/>
<line x1="803.40" y1="193.02" x2="806.90" y2="193.02" stroke="#505050" stroke-width="1.1"/>
<line x1="1413.70" y1="193.02" x2="1410.20" y2="193.02" stroke="#505050" stroke-width="1.1"/>
<line x1="803.40" y1="190.30" x2="806.90" y2="190.30" stroke="#505050" stroke-width="1.1"/>
<line x1="1413.70" y1="190.30" x2="1410.20" y2="190.30" stroke="#505050" stroke-width="1.1"/>
<line x1="803.40" y1="187.86" x2="806.90" y2="187.86" stroke="#505050" stroke-width="1.1"/>
<line x1="1413.70" y1="187.86" x2="1410.20" y2="187.86" stroke="#505050" stroke-width="1.1"/>
<line x1="803.40" y1="171.84" x2="806.90" y2="171.84" stroke="#505050" stroke-width="1.1"/>
<line x1="1413.70" y1="171.84" x2="1410.20" y2="171.84" stroke="#505050" stroke-width="1.1"/>
<line x1="803.40" y1="162.47" x2="806.90" y2="162.47" stroke="#505050" stroke-width="1.1"/>
<line x1="1413.70" y1="162.47" x2="1410.20" y2="162.47" stroke="#505050" stroke-width="1.1"/>
<line x1="803.40" y1="155.82" x2="806.90" y2="155.82" stroke="#505050" stroke-width="1.1"/>
<line x1="1413.70" y1="155.82" x2="1410.20" y2="155.82" stroke="#505050" stroke-width="1.1"/>
<line x1="803.40" y1="150.66" x2="806.90" y2="150.66" stroke="#505050" stroke-width="1.1"/>
<line x1="1413.70" y1="150.66" x2="1410.20" y2="150.66" stroke="#505050" stroke-width="1.1"/>
<line x1="803.40" y1="146.45" x2="806.90" y2="146.45" stroke="#505050" stroke-width="1.1"/>
<line x1="1413.70" y1="146.45" x2="1410.20" y2="146.45" stroke="#505050" stroke-width="1.1"/>
<line x1="803.40" y1="142.88" x2="806.90" y2="142.88" stroke="#505050" stroke-width="1.1"/>
<line x1="1413.70" y1="142.88" x2="1410.20" y2="142.88" stroke="#505050" stroke-width="1.1"/>
<line x1="803.40" y1="139.80" x2="806.90" y2="139.80" stroke="#505050" stroke-width="1.1"/>
<line x1="1413.70" y1="139.80" x2="1410.20" y2="139.80" stroke="#505050" stroke-width="1.1"/>
<line x1="803.40" y1="137.08" x2="806.90" y2="137.08" stroke="#505050" stroke-width="1.1"/>
<line x1="1413.70" y1="137.08" x2="1410.20" y2="137.08" stroke="#505050" stroke-width="1.1"/>
<line x1="803.40" y1="134.64" x2="809.90" y2="134.64" stroke="#505050" stroke-width="1.2"/>
<line x1="1413.70" y1="134.64" x2="1407.20" y2="134.64" stroke="#505050" stroke-width="1.2"/>
<line x1="803.40" y1="118.62" x2="806.90" y2="118.62" stroke="#505050" stroke-width="1.1"/>
<line x1="1413.70" y1="118.62" x2="1410.20" y2="118.62" stroke="#505050" stroke-width="1.1"/>
<line x1="803.40" y1="109.25" x2="806.90" y2="109.25" stroke="#505050" stroke-width="1.1"/>
<line x1="1413.70" y1="109.25" x2="1410.20" y2="109.25" stroke="#505050" stroke-width="1.1"/>
<line x1="803.40" y1="102.60" x2="806.90" y2="102.60" stroke="#505050" stroke-width="1.1"/>
<line x1="1413.70" y1="102.60" x2="1410.20" y2="102.60" stroke="#505050" stroke-width="1.1"/>
<line x1="803.40" y1="97.44" x2="806.90" y2="97.44" stroke="#505050" stroke-width="1.1"/>
<line x1="1413.70" y1="97.44" x2="1410.20" y2="97.44" stroke="#505050" stroke-width="1.1"/>
<line x1="803.40" y1="93.23" x2="806.90" y2="93.23" stroke="#505050" stroke-width="1.1"/>
<line x1="1413.70" y1="93.23" x2="1410.20" y2="93.23" stroke="#505050" stroke-width="1.1"/>
<line x1="803.40" y1="89.66" x2="806.90" y2="89.66" stroke="#505050" stroke-width="1.1"/>
<line x1="1413.70" y1="89.66" x2="1410.20" y2="89.66" stroke="#505050" stroke-width="1.1"/>
<line x1="803.40" y1="86.58" x2="806.90" y2="86.58" stroke="#505050" stroke-width="1.1"/>
<line x1="1413.70" y1="86.58" x2="1410.20" y2="86.58" stroke="#505050" stroke-width="1.1"/>
<line x1="803.40" y1="83.86" x2="806.90" y2="83.86" stroke="#505050" stroke-width="1.1"/>
<line x1="1413.70" y1="83.86" x2="1410.20" y2="83.86" stroke="#505050" stroke-width="1.1"/>
<line x1="803.40" y1="81.42" x2="806.90" y2="81.42" stroke="#505050" stroke-width="1.1"/>
<line x1="1413.70" y1="81.42" x2="1410.20" y2="81.42" stroke="#505050" stroke-width="1.1"/>
<line x1="803.40" y1="65.40" x2="806.90" y2="65.40" stroke="#505050" stroke-width="1.1"/>
<line x1="1413.70" y1="65.40" x2="1410.20" y2="65.40" stroke="#505050" stroke-width="1.1"/>
<line x1="803.40" y1="56.03" x2="806.90" y2="56.03" stroke="#505050" stroke-width="1.1"/>
<line x1="1413.70" y1="56.03" x2="1410.20" y2="56.03" stroke="#505050" stroke-width="1.1"/>
<line x1="803.40" y1="49.38" x2="806.90" y2="49.38" stroke="#505050" stroke-width="1.1"/>
<line x1="1413.70" y1="49.38" x2="1410.20" y2="49.38" stroke="#505050" stroke-width="1.1"/>
<line x1="803.40" y1="44.22" x2="806.90" y2="44.22" stroke="#505050" stroke-width="1.1"/>
<line x1="1413.70" y1="44.22" x2="1410.20" y2="44.22" stroke="#505050" stroke-width="1.1"/>
<line x1="803.40" y1="40.01" x2="806.90" y2="40.01" stroke="#505050" stroke-width="1.1"/>
<line x1="1413.70" y1="40.01" x2="1410.20" y2="40.01" stroke="#505050" stroke-width="1.1"/>
<line x1="803.40" y1="36.44" x2="806.90" y2="36.44" stroke="#505050" stroke-width="1.1"/>
<line x1="1413.70" y1="36.44" x2="1410.20" y2="36.44" stroke="#505050" stroke-width="1.1"/>
<line x1="803.40" y1="33.36" x2="806.90" y2="33.36" stroke="#505050" stroke-width="1.1"/>
<line x1="1413.70" y1="33.36" x2="1410.20" y2="33.36" stroke="#505050" stroke-width="1.1"/>
<line x1="803.40" y1="30.64" x2="806.90" y2="30.64" stroke="#505050" stroke-width="1.1"/>
<line x1="1413.70" y1="30.64" x2="1410.20" y2="30.64" stroke="#505050" stroke-width="1.1"/>
<line x1="803.40" y1="28.20" x2="809.90" y2="28.20" stroke="#505050" stroke-width="1.2"/>
<line x1="1413.70" y1="28.20" x2="1407.20" y2="28.20" stroke="#505050" stroke-width="1.2"/>
<line x1="911.54" y1="560.40" x2="911.54" y2="556.90" stroke="#505050" stroke-width="1.1"/>
<line x1="911.54" y1="28.20" x2="911.54" y2="31.70" stroke="#505050" stroke-width="1.1"/>
<line x1="974.79" y1="560.40" x2="974.79" y2="556.90" stroke="#505050" stroke-width="1.1"/>
<line x1="974.79" y1="28.20" x2="974.79" y2="31.70" stroke="#505050" stroke-width="1.1"/>
<line x1="1019.67" y1="560.40" x2="1019.67" y2="556.90" stroke="#505050" stroke-width="1.1"/>
<line x1="1019.67" y1="28.20" x2="1019.67" y2="31.70" stroke="#505050" stroke-width="1.1"/>
<line x1="1054.48" y1="560.40" x2="1054.48" y2="556.90" stroke="#505050" stroke-width="1.1"/>
<line x1="1054.48" y1="28.20" x2="1054.48" y2="31.70" stroke="#505050" stroke-width="1.1"/>
<line x1="1082.93" y1="560.40" x2="1082.93" y2="556.90" stroke="#505050" stroke-width="1.1"/>
<line x1="1082.93" y1="28.20" x2="1082.93" y2="31.70" stroke="#505050" stroke-width="1.1"/>
<line x1="1106.97" y1="560.40" x2="1106.97" y2="556.90" stroke="#505050" stroke-width="1.1"/>
<line x1="1106.97" y1="28.20" x2="1106.97" y2="31.70" stroke="#505050" stroke-width="1.1"/>
<line x1="1127.81" y1="560.40" x2="1127.81" y2="556.90" stroke="#505050" stroke-width="1.1"/>
<line x1="1127.81" y1="28.20" x2="1127.81" y2="31.70" stroke="#505050" stroke-width="1.1"/>
<line x1="1146.18" y1="560.40" x2="1146.18" y2="556.90" stroke="#505050" stroke-width="1.1"/>
<line x1="1146.18" y1="28.20" x2="1146.18" y2="31.70" stroke="#505050" stroke-width="1.1"/>
<line x1="1162.62" y1="560.40" x2="1162.62" y2="553.90" stroke="#505050" stroke-width="1.1"/>
<line x1="1162.62" y1="28.20" x2="1162.62" y2="34.70" stroke="#505050" stroke-width="1.1"/>
<line x1="1270.75" y1="560.40" x2="1270.75" y2="556.90" stroke="#505050" stroke-width="1.1"/>
<line x1="1270.75" y1="28.20" x2="1270.75" y2="31.70" stroke="#505050" stroke-width="1.1"/>
<line x1="1334.01" y1="560.40" x2="1334.01" y2="556.90" stroke="#505050" stroke-width="1.1"/>
<line x1="1334.01" y1="28.20" x2="1334.01" y2="31.70" stroke="#505050" stroke-width="1.1"/>
<line x1="1378.89" y1="560.40" x2="1378.89" y2="556.90" stroke="#505050" stroke-width="1.1"/>
<line x1="1378.89" y1="28.20" x2="1378.89" y2="31.70" stroke="#505050" stroke-width="1.1"/>
<line x1="803.0" y1="28.5" x2="1414.0" y2="28.5" stroke="#6e6e6e" stroke-width="1.1"/>
<line x1="803.0" y1="560.5" x2="1414.0" y2="560.5" stroke="#888888" stroke-width="1.1"/>
<line x1="803.5" y1="28.5" x2="803.5" y2="560.5" stroke="#858585" stroke-width="1.1"/>
<line x1="1413.5" y1="28.5" x2="1413.5" y2="560.5" stroke="#b8b8b8" stroke-width="1.1"/>
<line x1="1447.00" y1="558.40" x2="1453.50" y2="558.40" stroke="#505050" stroke-width="1.2"/>
<line x1="2057.30" y1="558.40" x2="2050.80" y2="558.40" stroke="#505050" stroke-width="1.2"/>
<line x1="1447.00" y1="542.42" x2="1450.50" y2="542.42" stroke="#505050" stroke-width="1.1"/>
<line x1="2057.30" y1="542.42" x2="2053.80" y2="542.42" stroke="#505050" stroke-width="1.1"/>
<line x1="1447.00" y1="533.07" x2="1450.50" y2="533.07" stroke="#505050" stroke-width="1.1"/>
<line x1="2057.30" y1="533.07" x2="2053.80" y2="533.07" stroke="#505050" stroke-width="1.1"/>
<line x1="1447.00" y1="526.44" x2="1450.50" y2="526.44" stroke="#505050" stroke-width="1.1"/>
<line x1="2057.30" y1="526.44" x2="2053.80" y2="526.44" stroke="#505050" stroke-width="1.1"/>
<line x1="1447.00" y1="521.29" x2="1450.50" y2="521.29" stroke="#505050" stroke-width="1.1"/>
<line x1="2057.30" y1="521.29" x2="2053.80" y2="521.29" stroke="#505050" stroke-width="1.1"/>
<line x1="1447.00" y1="517.09" x2="1450.50" y2="517.09" stroke="#505050" stroke-width="1.1"/>
<line x1="2057.30" y1="517.09" x2="2053.80" y2="517.09" stroke="#505050" stroke-width="1.1"/>
<line x1="1447.00" y1="513.53" x2="1450.50" y2="513.53" stroke="#505050" stroke-width="1.1"/>
<line x1="2057.30" y1="513.53" x2="2053.80" y2="513.53" stroke="#505050" stroke-width="1.1"/>
<line x1="1447.00" y1="510.45" x2="1450.50" y2="510.45" stroke="#505050" stroke-width="1.1"/>
<line x1="2057.30" y1="510.45" x2="2053.80" y2="510.45" stroke="#505050" stroke-width="1.1"/>
<line x1="1447.00" y1="507.74" x2="1450.50" y2="507.74" stroke="#505050" stroke-width="1.1"/>
<line x1="2057.30" y1="507.74" x2="2053.80" y2="507.74" stroke="#505050" stroke-width="1.1"/>
<line x1="1447.00" y1="505.31" x2="1450.50" y2="505.31" stroke="#505050" stroke-width="1.1"/>
<line x1="2057.30" y1="505.31" x2="2053.80" y2="505.31" stroke="#505050" stroke-width="1.1"/>
<line x1="1447.00" y1="489.33" x2="1450.50" y2="489.33" stroke="#505050" stroke-width="1.1"/>
<line x1="2057.30" y1="489.33" x2="2053.80" y2="489.33" stroke="#505050" stroke-width="1.1"/>
<line x1="1447.00" y1="479.98" x2="1450.50" y2="479.98" stroke="#505050" stroke-width="1.1"/>
<line x1="2057.30" y1="479.98" x2="2053.80" y2="479.98" stroke="#505050" stroke-width="1.1"/>
<line x1="1447.00" y1="473.35" x2="1450.50" y2="473.35" stroke="#505050" stroke-width="1.1"/>
<line x1="2057.30" y1="473.35" x2="2053.80" y2="473.35" stroke="#505050" stroke-width="1.1"/>
<line x1="1447.00" y1="468.20" x2="1450.50" y2="468.20" stroke="#505050" stroke-width="1.1"/>
<line x1="2057.30" y1="468.20" x2="2053.80" y2="468.20" stroke="#505050" stroke-width="1.1"/>
<line x1="1447.00" y1="464.00" x2="1450.50" y2="464.00" stroke="#505050" stroke-width="1.1"/>
<line x1="2057.30" y1="464.00" x2="2053.80" y2="464.00" stroke="#505050" stroke-width="1.1"/>
<line x1="1447.00" y1="460.44" x2="1450.50" y2="460.44" stroke="#505050" stroke-width="1.1"/>
<line x1="2057.30" y1="460.44" x2="2053.80" y2="460.44" stroke="#505050" stroke-width="1.1"/>
<line x1="1447.00" y1="457.36" x2="1450.50" y2="457.36" stroke="#505050" stroke-width="1.1"/>
<line x1="2057.30" y1="457.36" x2="2053.80" y2="457.36" stroke="#505050" stroke-width="1.1"/>
<line x1="1447.00" y1="454.65" x2="1450.50" y2="454.65" stroke="#505050" stroke-width="1.1"/>
<line x1="2057.30" y1="454.65" x2="2053.80" y2="454.65" stroke="#505050" stroke-width="1.1"/>
<line x1="1447.00" y1="452.22" x2="1453.50" y2="452.22" stroke="#505050" stroke-width="1.2"/>
<line x1="2057.30" y1="452.22" x2="2050.80" y2="452.22" stroke="#505050" stroke-width="1.2"/>
<line x1="1447.00" y1="436.24" x2="1450.50" y2="436.24" stroke="#505050" stroke-width="1.1"/>
<line x1="2057.30" y1="436.24" x2="2053.80" y2="436.24" stroke="#505050" stroke-width="1.1"/>
<line x1="1447.00" y1="426.89" x2="1450.50" y2="426.89" stroke="#505050" stroke-width="1.1"/>
<line x1="2057.30" y1="426.89" x2="2053.80" y2="426.89" stroke="#505050" stroke-width="1.1"/>
<line x1="1447.00" y1="420.26" x2="1450.50" y2="420.26" stroke="#505050" stroke-width="1.1"/>
<line x1="2057.30" y1="420.26" x2="2053.80" y2="420.26" stroke="#505050" stroke-width="1.1"/>
<line x1="1447.00" y1="415.11" x2="1450.50" y2="415.11" stroke="#505050" stroke-width="1.1"/>
<line x1="2057.30" y1="415.11" x2="2053.80" y2="415.11" stroke="#505050" stroke-width="1.1"/>
<line x1="1447.00" y1="410.91" x2="1450.50" y2="410.91" stroke="#505050" stroke-width="1.1"/>
<line x1="2057.30" y1="410.91" x2="2053.80" y2="410.91" stroke="#505050" stroke-width="1.1"/>
<line x1="1447.00" y1="407.35" x2="1450.50" y2="407.35" stroke="#505050" stroke-width="1.1"/>
<line x1="2057.30" y1="407.35" x2="2053.80" y2="407.35" stroke="#505050" stroke-width="1.1"/>
<line x1="1447.00" y1="404.27" x2="1450.50" y2="404.27" stroke="#505050" stroke-width="1.1"/>
<line x1="2057.30" y1="404.27" x2="2053.80" y2="404.27" stroke="#505050" stroke-width="1.1"/>
<line x1="1447.00" y1="401.56" x2="1450.50" y2="401.56" stroke="#505050" stroke-width="1.1"/>
<line x1="2057.30" y1="401.56" x2="2053.80" y2="401.56" stroke="#505050" stroke-width="1.1"/>
<line x1="1447.00" y1="399.13" x2="1450.50" y2="399.13" stroke="#505050" stroke-width="1.1"/>
<line x1="2057.30" y1="399.13" x2="2053.80" y2="399.13" stroke="#505050" stroke-width="1.1"/>
<line x1="1447.00" y1="383.15" x2="1450.50" y2="383.15" stroke="#505050" stroke-width="1.1"/>
<line x1="2057.30" y1="383.15" x2="2053.80" y2="383.15" stroke="#505050" stroke-width="1.1"/>
<line x1="1447.00" y1="373.80" x2="1450.50" y2="373.80" stroke="#505050" stroke-width="1.1"/>
<line x1="2057.30" y1="373.80" x2="2053.80" y2="373.80" stroke="#505050" stroke-width="1.1"/>
<line x1="1447.00" y1="367.17" x2="1450.50" y2="367.17" stroke="#505050" stroke-width="1.1"/>
<line x1="2057.30" y1="367.17" x2="2053.80" y2="367.17" stroke="#505050" stroke-width="1.1"/>
<line x1="1447.00" y1="362.02" x2="1450.50" y2="362.02" stroke="#505050" stroke-width="1.1"/>
<line x1="2057.30" y1="362.02" x2="2053.80" y2="362.02" stroke="#505050" stroke-width="1.1"/>
<line x1="1447.00" y1="357.82" x2="1450.50" y2="357.82" stroke="#505050" stroke-width="1.1"/>
<line x1="2057.30" y1="357.82" x2="2053.80" y2="357.82" stroke="#505050" stroke-width="1.1"/>
<line x1="1447.00" y1="354.26" x2="1450.50" y2="354.26" stroke="#505050" stroke-width="1.1"/>
<line x1="2057.30" y1="354.26" x2="2053.80" y2="354.26" stroke="#505050" stroke-width="1.1"/>
<line x1="1447.00" y1="351.18" x2="1450.50" y2="351.18" stroke="#505050" stroke-width="1.1"/>
<line x1="2057.30" y1="351.18" x2="2053.80" y2="351.18" stroke="#505050" stroke-width="1.1"/>
<line x1="1447.00" y1="348.47" x2="1450.50" y2="348.47" stroke="#505050" stroke-width="1.1"/>
<line x1="2057.30" y1="348.47" x2="2053.80" y2="348.47" stroke="#505050" stroke-width="1.1"/>
<line x1="1447.00" y1="346.04" x2="1453.50" y2="346.04" stroke="#505050" stroke-width="1.2"/>
<line x1="2057.30" y1="346.04" x2="2050.80" y2="346.04" stroke="#505050" stroke-width="1.2"/>
<line x1="1447.00" y1="330.06" x2="1450.50" y2="330.06" stroke="#505050" stroke-width="1.1"/>
<line x1="2057.30" y1="330.06" x2="2053.80" y2="330.06" stroke="#505050" stroke-width="1.1"/>
<line x1="1447.00" y1="320.71" x2="1450.50" y2="320.71" stroke="#505050" stroke-width="1.1"/>
<line x1="2057.30" y1="320.71" x2="2053.80" y2="320.71" stroke="#505050" stroke-width="1.1"/>
<line x1="1447.00" y1="314.08" x2="1450.50" y2="314.08" stroke="#505050" stroke-width="1.1"/>
<line x1="2057.30" y1="314.08" x2="2053.80" y2="314.08" stroke="#505050" stroke-width="1.1"/>
<line x1="1447.00" y1="308.93" x2="1450.50" y2="308.93" stroke="#505050" stroke-width="1.1"/>
<line x1="2057.30" y1="308.93" x2="2053.80" y2="308.93" stroke="#505050" stroke-width="1.1"/>
<line x1="1447.00" y1="304.73" x2="1450.50" y2="304.73" stroke="#505050" stroke-width="1.1"/>
<line x1="2057.30" y1="304.73" x2="2053.80" y2="304.73" stroke="#505050" stroke-width="1.1"/>
<line x1="1447.00" y1="301.17" x2="1450.50" y2="301.17" stroke="#505050" stroke-width="1.1"/>
<line x1="2057.30" y1="301.17" x2="2053.80" y2="301.17" stroke="#505050" stroke-width="1.1"/>
<line x1="1447.00" y1="298.09" x2="1450.50" y2="298.09" stroke="#505050" stroke-width="1.1"/>
<line x1="2057.30" y1="298.09" x2="2053.80" y2="298.09" stroke="#505050" stroke-width="1.1"/>
<line x1="1447.00" y1="295.38" x2="1450.50" y2="295.38" stroke="#505050" stroke-width="1.1"/>
<line x1="2057.30" y1="295.38" x2="2053.80" y2="295.38" stroke="#505050" stroke-width="1.1"/>
<line x1="1447.00" y1="292.95" x2="1450.50" y2="292.95" stroke="#505050" stroke-width="1.1"/>
<line x1="2057.30" y1="292.95" x2="2053.80" y2="292.95" stroke="#505050" stroke-width="1.1"/>
<line x1="1447.00" y1="276.97" x2="1450.50" y2="276.97" stroke="#505050" stroke-width="1.1"/>
<line x1="2057.30" y1="276.97" x2="2053.80" y2="276.97" stroke="#505050" stroke-width="1.1"/>
<line x1="1447.00" y1="267.62" x2="1450.50" y2="267.62" stroke="#505050" stroke-width="1.1"/>
<line x1="2057.30" y1="267.62" x2="2053.80" y2="267.62" stroke="#505050" stroke-width="1.1"/>
<line x1="1447.00" y1="260.99" x2="1450.50" y2="260.99" stroke="#505050" stroke-width="1.1"/>
<line x1="2057.30" y1="260.99" x2="2053.80" y2="260.99" stroke="#505050" stroke-width="1.1"/>
<line x1="1447.00" y1="255.84" x2="1450.50" y2="255.84" stroke="#505050" stroke-width="1.1"/>
<line x1="2057.30" y1="255.84" x2="2053.80" y2="255.84" stroke="#505050" stroke-width="1.1"/>
<line x1="1447.00" y1="251.64" x2="1450.50" y2="251.64" stroke="#505050" stroke-width="1.1"/>
<line x1="2057.30" y1="251.64" x2="2053.80" y2="251.64" stroke="#505050" stroke-width="1.1"/>
<line x1="1447.00" y1="248.08" x2="1450.50" y2="248.08" stroke="#505050" stroke-width="1.1"/>
<line x1="2057.30" y1="248.08" x2="2053.80" y2="248.08" stroke="#505050" stroke-width="1.1"/>
<line x1="1447.00" y1="245.00" x2="1450.50" y2="245.00" stroke="#505050" stroke-width="1.1"/>
<line x1="2057.30" y1="245.00" x2="2053.80" y2="245.00" stroke="#505050" stroke-width="1.1"/>
<line x1="1447.00" y1="242.29" x2="1450.50" y2="242.29" stroke="#505050" stroke-width="1.1"/>
<line x1="2057.30" y1="242.29" x2="2053.80" y2="242.29" stroke="#505050" stroke-width="1.1"/>
<line x1="1447.00" y1="239.86" x2="1453.50" y2="239.86" stroke="#505050" stroke-width="1.2"/>
<line x1="2057.30" y1="239.86" x2="2050.80" y2="239.86" stroke="#505050" stroke-width="1.2"/>
<line x1="1447.00" y1="223.88" x2="1450.50" y2="223.88" stroke="#505050" stroke-width="1.1"/>
<line x1="2057.30" y1="223.88" x2="2053.80" y2="223.88" stroke="#505050" stroke-width="1.1"/>
<line x1="1447.00" y1="214.53" x2="1450.50" y2="214.53" stroke="#505050" stroke-width="1.1"/>
<line x1="2057.30" y1="214.53" x2="2053.80" y2="214.53" stroke="#505050" stroke-width="1.1"/>
<line x1="1447.00" y1="207.90" x2="1450.50" y2="207.90" stroke="#505050" stroke-width="1.1"/>
<line x1="2057.30" y1="207.90" x2="2053.80" y2="207.90" stroke="#505050" stroke-width="1.1"/>
<line x1="1447.00" y1="202.75" x2="1450.50" y2="202.75" stroke="#505050" stroke-width="1.1"/>
<line x1="2057.30" y1="202.75" x2="2053.80" y2="202.75" stroke="#505050" stroke-width="1.1"/>
<line x1="1447.00" y1="198.55" x2="1450.50" y2="198.55" stroke="#505050" stroke-width="1.1"/>
<line x1="2057.30" y1="198.55" x2="2053.80" y2="198.55" stroke="#505050" stroke-width="1.1"/>
<line x1="1447.00" y1="194.99" x2="1450.50" y2="194.99" stroke="#505050" stroke-width="1.1"/>
<line x1="2057.30" y1="194.99" x2="2053.80" y2="194.99" stroke="#505050" stroke-width="1.1"/>
<line x1="1447.00" y1="191.91" x2="1450.50" y2="191.91" stroke="#505050" stroke-width="1.1"/>
<line x1="2057.30" y1="191.91" x2="2053.80" y2="191.91" stroke="#505050" stroke-width="1.1"/>
<line x1="1447.00" y1="189.20" x2="1450.50" y2="189.20" stroke="#505050" stroke-width="1.1"/>
<line x1="2057.30" y1="189.20" x2="2053.80" y2="189.20" stroke="#505050" stroke-width="1.1"/>
<line x1="1447.00" y1="186.77" x2="1450.50" y2="186.77" stroke="#505050" stroke-width="1.1"/>
<line x1="2057.30" y1="186.77" x2="2053.80" y2="186.77" stroke="#505050" stroke-width="1.1"/>
<line x1="1447.00" y1="170.79" x2="1450.50" y2="170.79" stroke="#505050" stroke-width="1.1"/>
<line x1="2057.30" y1="170.79" x2="2053.80" y2="170.79" stroke="#505050" stroke-width="1.1"/>
<line x1="1447.00" y1="161.44" x2="1450.50" y2="161.44" stroke="#505050" stroke-width="1.1"/>
<line x1="2057.30" y1="161.44" x2="2053.80" y2="161.44" stroke="#505050" stroke-width="1.1"/>
<line x1="1447.00" y1="154.81" x2="1450.50" y2="154.81" stroke="#505050" stroke-width="1.1"/>
<line x1="2057.30" y1="154.81" x2="2053.80" y2="154.81" stroke="#505050" stroke-width="1.1"/>
<line x1="1447.00" y1="149.66" x2="1450.50" y2="149.66" stroke="#505050" stroke-width="1.1"/>
<line x1="2057.30" y1="149.66" x2="2053.80" y2="149.66" stroke="#505050" stroke-width="1.1"/>
<line x1="1447.00" y1="145.46" x2="1450.50" y2="145.46" stroke="#505050" stroke-width="1.1"/>
<line x1="2057.30" y1="145.46" x2="2053.80" y2="145.46" stroke="#505050" stroke-width="1.1"/>
<line x1="1447.00" y1="141.90" x2="1450.50" y2="141.90" stroke="#505050" stroke-width="1.1"/>
<line x1="2057.30" y1="141.90" x2="2053.80" y2="141.90" stroke="#505050" stroke-width="1.1"/>
<line x1="1447.00" y1="138.82" x2="1450.50" y2="138.82" stroke="#505050" stroke-width="1.1"/>
<line x1="2057.30" y1="138.82" x2="2053.80" y2="138.82" stroke="#505050" stroke-width="1.1"/>
<line x1="1447.00" y1="136.11" x2="1450.50" y2="136.11" stroke="#505050" stroke-width="1.1"/>
<line x1="2057.30" y1="136.11" x2="2053.80" y2="136.11" stroke="#505050" stroke-width="1.1"/>
<line x1="1447.00" y1="133.68" x2="1453.50" y2="133.68" stroke="#505050" stroke-width="1.2"/>
<line x1="2057.30" y1="133.68" x2="2050.80" y2="133.68" stroke="#505050" stroke-width="1.2"/>
<line x1="1447.00" y1="117.70" x2="1450.50" y2="117.70" stroke="#505050" stroke-width="1.1"/>
<line x1="2057.30" y1="117.70" x2="2053.80" y2="117.70" stroke="#505050" stroke-width="1.1"/>
<line x1="1447.00" y1="108.35" x2="1450.50" y2="108.35" stroke="#505050" stroke-width="1.1"/>
<line x1="2057.30" y1="108.35" x2="2053.80" y2="108.35" stroke="#505050" stroke-width="1.1"/>
<line x1="1447.00" y1="101.72" x2="1450.50" y2="101.72" stroke="#505050" stroke-width="1.1"/>
<line x1="2057.30" y1="101.72" x2="2053.80" y2="101.72" stroke="#505050" stroke-width="1.1"/>
<line x1="1447.00" y1="96.57" x2="1450.50" y2="96.57" stroke="#505050" stroke-width="1.1"/>
<line x1="2057.30" y1="96.57" x2="2053.80" y2="96.57" stroke="#505050" stroke-width="1.1"/>
<line x1="1447.00" y1="92.37" x2="1450.50" y2="92.37" stroke="#505050" stroke-width="1.1"/>
<line x1="2057.30" y1="92.37" x2="2053.80" y2="92.37" stroke="#505050" stroke-width="1.1"/>
<line x1="1447.00" y1="88.81" x2="1450.50" y2="88.81" stroke="#505050" stroke-width="1.1"/>
<line x1="2057.30" y1="88.81" x2="2053.80" y2="88.81" stroke="#505050" stroke-width="1.1"/>
<line x1="1447.00" y1="85.73" x2="1450.50" y2="85.73" stroke="#505050" stroke-width="1.1"/>
<line x1="2057.30" y1="85.73" x2="2053.80" y2="85.73" stroke="#505050" stroke-width="1.1"/>
<line x1="1447.00" y1="83.02" x2="1450.50" y2="83.02" stroke="#505050" stroke-width="1.1"/>
<line x1="2057.30" y1="83.02" x2="2053.80" y2="83.02" stroke="#505050" stroke-width="1.1"/>
<line x1="1447.00" y1="80.59" x2="1450.50" y2="80.59" stroke="#505050" stroke-width="1.1"/>
<line x1="2057.30" y1="80.59" x2="2053.80" y2="80.59" stroke="#505050" stroke-width="1.1"/>
<line x1="1447.00" y1="64.61" x2="1450.50" y2="64.61" stroke="#505050" stroke-width="1.1"/>
<line x1="2057.30" y1="64.61" x2="2053.80" y2="64.61" stroke="#505050" stroke-width="1.1"/>
<line x1="1447.00" y1="55.26" x2="1450.50" y2="55.26" stroke="#505050" stroke-width="1.1"/>
<line x1="2057.30" y1="55.26" x2="2053.80" y2="55.26" stroke="#505050" stroke-width="1.1"/>
<line x1="1447.00" y1="48.63" x2="1450.50" y2="48.63" stroke="#505050" stroke-width="1.1"/>
<line x1="2057.30" y1="48.63" x2="2053.80" y2="48.63" stroke="#505050" stroke-width="1.1"/>
<line x1="1447.00" y1="43.48" x2="1450.50" y2="43.48" stroke="#505050" stroke-width="1.1"/>
<line x1="2057.30" y1="43.48" x2="2053.80" y2="43.48" stroke="#505050" stroke-width="1.1"/>
<line x1="1447.00" y1="39.28" x2="1450.50" y2="39.28" stroke="#505050" stroke-width="1.1"/>
<line x1="2057.30" y1="39.28" x2="2053.80" y2="39.28" stroke="#505050" stroke-width="1.1"/>
<line x1="1447.00" y1="35.72" x2="1450.50" y2="35.72" stroke="#505050" stroke-width="1.1"/>
<line x1="2057.30" y1="35.72" x2="2053.80" y2="35.72" stroke="#505050" stroke-width="1.1"/>
<line x1="1447.00" y1="32.64" x2="1450.50" y2="32.64" stroke="#505050" stroke-width="1.1"/>
<line x1="2057.30" y1="32.64" x2="2053.80" y2="32.64" stroke="#505050" stroke-width="1.1"/>
<line x1="1447.00" y1="29.93" x2="1450.50" y2="29.93" stroke="#505050" stroke-width="1.1"/>
<line x1="2057.30" y1="29.93" x2="2053.80" y2="29.93" stroke="#505050" stroke-width="1.1"/>
<line x1="1447.00" y1="27.50" x2="1453.50" y2="27.50" stroke="#505050" stroke-width="1.2"/>
<line x1="2057.30" y1="27.50" x2="2050.80" y2="27.50" stroke="#505050" stroke-width="1.2"/>
<line x1="1555.14" y1="558.40" x2="1555.14" y2="554.90" stroke="#505050" stroke-width="1.1"/>
<line x1="1555.14" y1="27.50" x2="1555.14" y2="31.00" stroke="#505050" stroke-width="1.1"/>
<line x1="1618.39" y1="558.40" x2="1618.39" y2="554.90" stroke="#505050" stroke-width="1.1"/>
<line x1="1618.39" y1="27.50" x2="1618.39" y2="31.00" stroke="#505050" stroke-width="1.1"/>
<line x1="1663.27" y1="558.40" x2="1663.27" y2="554.90" stroke="#505050" stroke-width="1.1"/>
<line x1="1663.27" y1="27.50" x2="1663.27" y2="31.00" stroke="#505050" stroke-width="1.1"/>
<line x1="1698.08" y1="558.40" x2="1698.08" y2="554.90" stroke="#505050" stroke-width="1.1"/>
<line x1="1698.08" y1="27.50" x2="1698.08" y2="31.00" stroke="#505050" stroke-width="1.1"/>
<line x1="1726.53" y1="558.40" x2="1726.53" y2="554.90" stroke="#505050" stroke-width="1.1"/>
<line x1="1726.53" y1="27.50" x2="1726.53" y2="31.00" stroke="#505050" stroke-width="1.1"/>
<line x1="1750.57" y1="558.40" x2="1750.57" y2="554.90" stroke="#505050" stroke-width="1.1"/>
<line x1="1750.57" y1="27.50" x2="1750.57" y2="31.00" stroke="#505050" stroke-width="1.1"/>
<line x1="1771.41" y1="558.40" x2="1771.41" y2="554.90" stroke="#505050" stroke-width="1.1"/>
<line x1="1771.41" y1="27.50" x2="1771.41" y2="31.00" stroke="#505050" stroke-width="1.1"/>
<line x1="1789.78" y1="558.40" x2="1789.78" y2="554.90" stroke="#505050" stroke-width="1.1"/>
<line x1="1789.78" y1="27.50" x2="1789.78" y2="31.00" stroke="#505050" stroke-width="1.1"/>
<line x1="1806.22" y1="558.40" x2="1806.22" y2="551.90" stroke="#505050" stroke-width="1.1"/>
<line x1="1806.22" y1="27.50" x2="1806.22" y2="34.00" stroke="#505050" stroke-width="1.1"/>
<line x1="1914.35" y1="558.40" x2="1914.35" y2="554.90" stroke="#505050" stroke-width="1.1"/>
<line x1="1914.35" y1="27.50" x2="1914.35" y2="31.00" stroke="#505050" stroke-width="1.1"/>
<line x1="1977.61" y1="558.40" x2="1977.61" y2="554.90" stroke="#505050" stroke-width="1.1"/>
<line x1="1977.61" y1="27.50" x2="1977.61" y2="31.00" stroke="#505050" stroke-width="1.1"/>
<line x1="2022.49" y1="558.40" x2="2022.49" y2="554.90" stroke="#505050" stroke-width="1.1"/>
<line x1="2022.49" y1="27.50" x2="2022.49" y2="31.00" stroke="#505050" stroke-width="1.1"/>
<line x1="1447.0" y1="27.5" x2="2058.0" y2="27.5" stroke="#555555" stroke-width="1.1"/>
<line x1="1447.0" y1="558.5" x2="2058.0" y2="558.5" stroke="#959595" stroke-width="1.1"/>
<line x1="1447.5" y1="27.5" x2="1447.5" y2="558.5" stroke="#c8c8c8" stroke-width="1.1"/>
<line x1="2057.5" y1="27.5" x2="2057.5" y2="558.5" stroke="#555555" stroke-width="1.1"/>
<line x1="159.50" y1="482.10" x2="774.80" y2="208.20" stroke="#a2142f" stroke-width="1.6"/>
<line x1="159.50" y1="332.40" x2="774.80" y2="149.70" stroke="#2e5d34" stroke-width="4"/>
<line x1="159.50" y1="332.40" x2="774.80" y2="149.70" stroke="#000" stroke-width="2.5" stroke-dasharray="8.6 8.9" stroke-dashoffset="-4"/>
<circle cx="159.50" cy="332.40" r="5.2" fill="#000"/>
<circle cx="268.52" cy="300.03" r="5.2" fill="#000"/>
<circle cx="412.64" cy="257.24" r="5.2" fill="#000"/>
<circle cx="521.66" cy="224.86" r="5.2" fill="#000"/>
<circle cx="595.58" cy="202.91" r="5.2" fill="#000"/>
<circle cx="665.78" cy="182.07" r="5.2" fill="#000"/>
<circle cx="718.70" cy="166.36" r="5.2" fill="#000"/>
<circle cx="774.80" cy="149.70" r="5.2" fill="#000"/>
<line x1="159.50" y1="309.70" x2="774.80" y2="127.80" stroke="#68aa4a" stroke-width="4"/>
<line x1="159.50" y1="309.70" x2="774.80" y2="127.80" stroke="#000" stroke-width="2.5" stroke-dasharray="8.6 8.9" stroke-dashoffset="-4"/>
<circle cx="159.50" cy="309.70" r="5.2" fill="#000"/>
<circle cx="268.52" cy="277.47" r="5.2" fill="#000"/>
<circle cx="412.64" cy="234.86" r="5.2" fill="#000"/>
<circle cx="521.66" cy="202.64" r="5.2" fill="#000"/>
<circle cx="595.58" cy="180.78" r="5.2" fill="#000"/>
<circle cx="665.78" cy="160.03" r="5.2" fill="#000"/>
<circle cx="718.70" cy="144.38" r="5.2" fill="#000"/>
<circle cx="774.80" cy="127.80" r="5.2" fill="#000"/>
<line x1="159.50" y1="181.60" x2="774.80" y2="90.20" stroke="#6353d6" stroke-width="6.6"/>
<line x1="159.50" y1="181.60" x2="774.80" y2="90.20" stroke="#000" stroke-width="2.5" stroke-dasharray="8.6 8.9" stroke-dashoffset="-4"/>
<circle cx="159.50" cy="181.60" r="5.2" fill="#000"/>
<circle cx="268.52" cy="165.41" r="5.2" fill="#000"/>
<circle cx="412.64" cy="144.00" r="5.2" fill="#000"/>
<circle cx="521.66" cy="127.80" r="5.2" fill="#000"/>
<circle cx="595.58" cy="116.82" r="5.2" fill="#000"/>
<circle cx="665.78" cy="106.39" r="5.2" fill="#000"/>
<circle cx="718.70" cy="98.53" r="5.2" fill="#000"/>
<circle cx="774.80" cy="90.20" r="5.2" fill="#000"/>
<line x1="803.40" y1="509.90" x2="1413.70" y2="237.90" stroke="#4d1262" stroke-width="1.6"/>
<line x1="803.40" y1="502.60" x2="1413.70" y2="230.30" stroke="#a2142f" stroke-width="1.6"/>
<line x1="803.40" y1="478.20" x2="1413.70" y2="207.20" stroke="#da6f2d" stroke-width="1.6"/>
<line x1="803.40" y1="355.10" x2="1413.70" y2="173.10" stroke="#1e3c22" stroke-width="4"/>
<line x1="803.40" y1="355.10" x2="1413.70" y2="173.10" stroke="#000" stroke-width="2.5" stroke-dasharray="8.6 8.9" stroke-dashoffset="-4"/>
<circle cx="803.40" cy="355.10" r="5.2" fill="#000"/>
<circle cx="911.54" cy="322.85" r="5.2" fill="#000"/>
<circle cx="1054.48" cy="280.22" r="5.2" fill="#000"/>
<circle cx="1162.62" cy="247.98" r="5.2" fill="#000"/>
<circle cx="1235.94" cy="226.11" r="5.2" fill="#000"/>
<circle cx="1305.56" cy="205.35" r="5.2" fill="#000"/>
<circle cx="1358.06" cy="189.69" r="5.2" fill="#000"/>
<circle cx="1413.70" cy="173.10" r="5.2" fill="#000"/>
<line x1="803.40" y1="350.00" x2="1413.70" y2="167.00" stroke="#2f6a38" stroke-width="4"/>
<line x1="803.40" y1="350.00" x2="1413.70" y2="167.00" stroke="#000" stroke-width="2.5" stroke-dasharray="8.6 8.9" stroke-dashoffset="-4"/>
<circle cx="803.40" cy="350.00" r="5.2" fill="#000"/>
<circle cx="911.54" cy="317.58" r="5.2" fill="#000"/>
<circle cx="1054.48" cy="274.71" r="5.2" fill="#000"/>
<circle cx="1162.62" cy="242.29" r="5.2" fill="#000"/>
<circle cx="1235.94" cy="220.30" r="5.2" fill="#000"/>
<circle cx="1305.56" cy="199.42" r="5.2" fill="#000"/>
<circle cx="1358.06" cy="183.68" r="5.2" fill="#000"/>
<circle cx="1413.70" cy="167.00" r="5.2" fill="#000"/>
<line x1="803.40" y1="332.80" x2="1413.70" y2="150.90" stroke="#579f43" stroke-width="4"/>
<line x1="803.40" y1="332.80" x2="1413.70" y2="150.90" stroke="#000" stroke-width="2.5" stroke-dasharray="8.6 8.9" stroke-dashoffset="-4"/>
<circle cx="803.40" cy="332.80" r="5.2" fill="#000"/>
<circle cx="911.54" cy="300.57" r="5.2" fill="#000"/>
<circle cx="1054.48" cy="257.96" r="5.2" fill="#000"/>
<circle cx="1162.62" cy="225.74" r="5.2" fill="#000"/>
<circle cx="1235.94" cy="203.88" r="5.2" fill="#000"/>
<circle cx="1305.56" cy="183.13" r="5.2" fill="#000"/>
<circle cx="1358.06" cy="167.48" r="5.2" fill="#000"/>
<circle cx="1413.70" cy="150.90" r="5.2" fill="#000"/>
<line x1="803.40" y1="295.60" x2="1413.70" y2="113.90" stroke="#8dc66e" stroke-width="4"/>
<line x1="803.40" y1="295.60" x2="1413.70" y2="113.90" stroke="#000" stroke-width="2.5" stroke-dasharray="8.6 8.9" stroke-dashoffset="-4"/>
<circle cx="803.40" cy="295.60" r="5.2" fill="#000"/>
<circle cx="911.54" cy="263.41" r="5.2" fill="#000"/>
<circle cx="1054.48" cy="220.85" r="5.2" fill="#000"/>
<circle cx="1162.62" cy="188.65" r="5.2" fill="#000"/>
<circle cx="1235.94" cy="166.82" r="5.2" fill="#000"/>
<circle cx="1305.56" cy="146.09" r="5.2" fill="#000"/>
<circle cx="1358.06" cy="130.47" r="5.2" fill="#000"/>
<circle cx="1413.70" cy="113.90" r="5.2" fill="#000"/>
<line x1="803.40" y1="196.70" x2="1413.70" y2="104.60" stroke="#6353d6" stroke-width="6.6"/>
<line x1="803.40" y1="196.70" x2="1413.70" y2="104.60" stroke="#000" stroke-width="2.5" stroke-dasharray="8.6 8.9" stroke-dashoffset="-4"/>
<circle cx="803.40" cy="196.70" r="5.2" fill="#000"/>
<circle cx="911.54" cy="180.38" r="5.2" fill="#000"/>
<circle cx="1054.48" cy="158.81" r="5.2" fill="#000"/>
<circle cx="1162.62" cy="142.49" r="5.2" fill="#000"/>
<circle cx="1235.94" cy="131.43" r="5.2" fill="#000"/>
<circle cx="1305.56" cy="120.92" r="5.2" fill="#000"/>
<circle cx="1358.06" cy="113.00" r="5.2" fill="#000"/>
<circle cx="1413.70" cy="104.60" r="5.2" fill="#000"/>
<line x1="1447.00" y1="505.90" x2="2057.30" y2="239.60" stroke="#a2142f" stroke-width="1.6"/>
<line x1="1447.00" y1="352.40" x2="2057.30" y2="172.60" stroke="#428a3a" stroke-width="4"/>
<line x1="1447.00" y1="352.40" x2="2057.30" y2="172.60" stroke="#000" stroke-width="2.5" stroke-dasharray="8.6 8.9" stroke-dashoffset="-4"/>
<circle cx="1447.00" cy="352.40" r="5.2" fill="#000"/>
<circle cx="1555.14" cy="320.54" r="5.2" fill="#000"/>
<circle cx="1698.08" cy="278.43" r="5.2" fill="#000"/>
<circle cx="1806.22" cy="246.57" r="5.2" fill="#000"/>
<circle cx="1879.54" cy="224.97" r="5.2" fill="#000"/>
<circle cx="1949.16" cy="204.46" r="5.2" fill="#000"/>
<circle cx="2001.66" cy="188.99" r="5.2" fill="#000"/>
<circle cx="2057.30" cy="172.60" r="5.2" fill="#000"/>
<line x1="1447.00" y1="194.30" x2="2057.30" y2="103.10" stroke="#5a2d92" stroke-width="6.6"/>
<line x1="1447.00" y1="194.30" x2="2057.30" y2="103.10" stroke="#000" stroke-width="2.5" stroke-dasharray="8.6 8.9" stroke-dashoffset="-4"/>
<circle cx="1447.00" cy="194.30" r="5.2" fill="#000"/>
<circle cx="1555.14" cy="178.14" r="5.2" fill="#000"/>
<circle cx="1698.08" cy="156.78" r="5.2" fill="#000"/>
<circle cx="1806.22" cy="140.62" r="5.2" fill="#000"/>
<circle cx="1879.54" cy="129.66" r="5.2" fill="#000"/>
<circle cx="1949.16" cy="119.26" r="5.2" fill="#000"/>
<circle cx="2001.66" cy="111.42" r="5.2" fill="#000"/>
<circle cx="2057.30" cy="103.10" r="5.2" fill="#000"/>
<line x1="1447.00" y1="181.30" x2="2057.30" y2="85.20" stroke="#7391de" stroke-width="6.6"/>
<line x1="1447.00" y1="181.30" x2="2057.30" y2="85.20" stroke="#000" stroke-width="2.5" stroke-dasharray="8.6 8.9" stroke-dashoffset="-4"/>
<circle cx="1447.00" cy="181.30" r="5.2" fill="#000"/>
<circle cx="1555.14" cy="164.27" r="5.2" fill="#000"/>
<circle cx="1698.08" cy="141.76" r="5.2" fill="#000"/>
<circle cx="1806.22" cy="124.74" r="5.2" fill="#000"/>
<circle cx="1879.54" cy="113.19" r="5.2" fill="#000"/>
<circle cx="1949.16" cy="102.23" r="5.2" fill="#000"/>
<circle cx="2001.66" cy="93.96" r="5.2" fill="#000"/>
<circle cx="2057.30" cy="85.20" r="5.2" fill="#000"/>
<rect x="523.6" y="449.9" width="242.80" height="104.50" fill="#fff"/>
<line x1="523.6" y1="449.9" x2="766.4" y2="449.9" stroke="#c8c8c8" stroke-width="1.2"/>
<line x1="766.4" y1="449.9" x2="766.4" y2="554.4" stroke="#555" stroke-width="1.2"/>
<line x1="523.6" y1="554.4" x2="766.4" y2="554.4" stroke="#555" stroke-width="1.2"/>
<line x1="523.6" y1="449.9" x2="523.6" y2="554.4" stroke="#555" stroke-width="1.2"/>
<line x1="523.6" y1="484.4" x2="766.4" y2="484.4" stroke="#555" stroke-width="1.2"/>
<line x1="523.6" y1="518.4" x2="766.4" y2="518.4" stroke="#555" stroke-width="1.2"/>
<line x1="608" y1="467.8" x2="630.2" y2="467.8" stroke="#6353d6" stroke-width="5.4"/>
<text transform="translate(633.06,473.90) scale(0.9363,1)" style="font-family:'Liberation Serif',serif;font-size:25.37px" fill="#000">(</text>
<text transform="translate(641.27,473.20) scale(1.0271,1)" style="font-family:'Liberation Serif',serif;font-size:21.00px" fill="#000">3, 0</text>
<text transform="translate(673.43,473.90) scale(0.9363,1)" style="font-family:'Liberation Serif',serif;font-size:25.37px" fill="#000">)</text>
<line x1="552.9" y1="502.0" x2="574.8" y2="502.0" stroke="#68aa4a" stroke-width="3.4"/>
<text transform="translate(578.16,508.10) scale(0.9343,1)" style="font-family:'Liberation Serif',serif;font-size:25.37px" fill="#000">(</text>
<text transform="translate(586.44,507.40) scale(1.0221,1)" style="font-family:'Liberation Serif',serif;font-size:21.00px" fill="#000">2, 0</text>
<text transform="translate(618.45,508.10) scale(0.9343,1)" style="font-family:'Liberation Serif',serif;font-size:25.37px" fill="#000">)</text>
<line x1="663.0" y1="502.0" x2="686.0" y2="502.0" stroke="#2e5d34" stroke-width="3.4"/>
<text transform="translate(688.36,508.10) scale(0.9343,1)" style="font-family:'Liberation Serif',serif;font-size:25.37px" fill="#000">(</text>
<text transform="translate(697.17,507.40) scale(1.0048,1)" style="font-family:'Liberation Serif',serif;font-size:21.00px" fill="#000">4, 0</text>
<text transform="translate(728.65,508.10) scale(0.9343,1)" style="font-family:'Liberation Serif',serif;font-size:25.37px" fill="#000">)</text>
<line x1="608" y1="536.3" x2="630.2" y2="536.3" stroke="#a2142f" stroke-width="1.5"/>
<text transform="translate(633.06,542.40) scale(0.9363,1)" style="font-family:'Liberation Serif',serif;font-size:25.37px" fill="#000">(</text>
<text transform="translate(641.04,541.70) scale(1.0346,1)" style="font-family:'Liberation Serif',serif;font-size:21.00px" fill="#000">5, 0</text>
<text transform="translate(673.43,542.40) scale(0.9363,1)" style="font-family:'Liberation Serif',serif;font-size:25.37px" fill="#000">)</text>
<rect x="1084.4" y="450.4" width="320.90" height="103.60" fill="#fff"/>
<line x1="1084.4" y1="450.4" x2="1405.3" y2="450.4" stroke="#555" stroke-width="1.2"/>
<line x1="1405.3" y1="450.4" x2="1405.3" y2="554.0" stroke="#555" stroke-width="1.2"/>
<line x1="1084.4" y1="554.0" x2="1405.3" y2="554.0" stroke="#555" stroke-width="1.2"/>
<line x1="1084.4" y1="450.4" x2="1084.4" y2="554.0" stroke="#555" stroke-width="1.2"/>
<line x1="1084.4" y1="484.5" x2="1405.3" y2="484.5" stroke="#555" stroke-width="1.2"/>
<line x1="1084.4" y1="518.6" x2="1405.3" y2="518.6" stroke="#555" stroke-width="1.2"/>
<line x1="1208.1" y1="467.7" x2="1229.9" y2="467.7" stroke="#6353d6" stroke-width="5.4"/>
<text transform="translate(1232.96,473.80) scale(0.9343,1)" style="font-family:'Liberation Serif',serif;font-size:25.37px" fill="#000">(</text>
<text transform="translate(1241.14,473.10) scale(1.0411,1)" style="font-family:'Liberation Serif',serif;font-size:21.00px" fill="#000">3, 1</text>
<text transform="translate(1273.25,473.80) scale(0.9343,1)" style="font-family:'Liberation Serif',serif;font-size:25.37px" fill="#000">)</text>
<line x1="1089.3" y1="502.1" x2="1110.9" y2="502.1" stroke="#8dc66e" stroke-width="3.4"/>
<text transform="translate(1114.38,508.20) scale(0.9181,1)" style="font-family:'Liberation Serif',serif;font-size:25.37px" fill="#000">(</text>
<text transform="translate(1122.51,507.50) scale(1.0043,1)" style="font-family:'Liberation Serif',serif;font-size:21.00px" fill="#000">2, 0</text>
<text transform="translate(1153.97,508.20) scale(0.9181,1)" style="font-family:'Liberation Serif',serif;font-size:25.37px" fill="#000">)</text>
<line x1="1168.4" y1="502.1" x2="1190.3" y2="502.1" stroke="#579f43" stroke-width="3.4"/>
<text transform="translate(1193.38,508.20) scale(0.9181,1)" style="font-family:'Liberation Serif',serif;font-size:25.37px" fill="#000">(</text>
<text transform="translate(1201.50,507.50) scale(1.0166,1)" style="font-family:'Liberation Serif',serif;font-size:21.00px" fill="#000">2, 2</text>
<text transform="translate(1232.97,508.20) scale(0.9181,1)" style="font-family:'Liberation Serif',serif;font-size:25.37px" fill="#000">)</text>
<line x1="1248.0" y1="502.1" x2="1269.9" y2="502.1" stroke="#2f6a38" stroke-width="3.4"/>
<text transform="translate(1272.98,508.20) scale(0.9181,1)" style="font-family:'Liberation Serif',serif;font-size:25.37px" fill="#000">(</text>
<text transform="translate(1281.64,507.50) scale(0.9873,1)" style="font-family:'Liberation Serif',serif;font-size:21.00px" fill="#000">4, 0</text>
<text transform="translate(1312.57,508.20) scale(0.9181,1)" style="font-family:'Liberation Serif',serif;font-size:25.37px" fill="#000">)</text>
<line x1="1327.0" y1="502.1" x2="1349.3" y2="502.1" stroke="#1e3c22" stroke-width="3.4"/>
<text transform="translate(1352.38,508.20) scale(0.9181,1)" style="font-family:'Liberation Serif',serif;font-size:25.37px" fill="#000">(</text>
<text transform="translate(1361.03,507.50) scale(0.9992,1)" style="font-family:'Liberation Serif',serif;font-size:21.00px" fill="#000">4, 2</text>
<text transform="translate(1391.97,508.20) scale(0.9181,1)" style="font-family:'Liberation Serif',serif;font-size:25.37px" fill="#000">)</text>
<line x1="1107.1" y1="536.0" x2="1128.9" y2="536.0" stroke="#da6f2d" stroke-width="1.5"/>
<text transform="translate(1131.66,542.10) scale(0.9343,1)" style="font-family:'Liberation Serif',serif;font-size:25.37px" fill="#000">(</text>
<text transform="translate(1139.85,541.40) scale(1.0256,1)" style="font-family:'Liberation Serif',serif;font-size:21.00px" fill="#000">3, 3</text>
<text transform="translate(1171.95,542.10) scale(0.9343,1)" style="font-family:'Liberation Serif',serif;font-size:25.37px" fill="#000">)</text>
<line x1="1208.1" y1="536.0" x2="1229.9" y2="536.0" stroke="#a2142f" stroke-width="1.5"/>
<text transform="translate(1232.96,542.10) scale(0.9343,1)" style="font-family:'Liberation Serif',serif;font-size:25.37px" fill="#000">(</text>
<text transform="translate(1240.90,541.40) scale(1.0488,1)" style="font-family:'Liberation Serif',serif;font-size:21.00px" fill="#000">5, 1</text>
<text transform="translate(1273.25,542.10) scale(0.9343,1)" style="font-family:'Liberation Serif',serif;font-size:25.37px" fill="#000">)</text>
<line x1="1310.1" y1="536.0" x2="1332.0" y2="536.0" stroke="#4d1262" stroke-width="1.5"/>
<text transform="translate(1334.26,542.10) scale(0.9343,1)" style="font-family:'Liberation Serif',serif;font-size:25.37px" fill="#000">(</text>
<text transform="translate(1342.22,541.40) scale(1.0331,1)" style="font-family:'Liberation Serif',serif;font-size:21.00px" fill="#000">5, 3</text>
<text transform="translate(1374.55,542.10) scale(0.9343,1)" style="font-family:'Liberation Serif',serif;font-size:25.37px" fill="#000">)</text>
<rect x="1808.3" y="448.7" width="241.10" height="104.50" fill="#fff"/>
<line x1="1808.3" y1="448.7" x2="2049.4" y2="448.7" stroke="#cfcfcf" stroke-width="1.2"/>
<line x1="2049.4" y1="448.7" x2="2049.4" y2="553.2" stroke="#bdbdbd" stroke-width="1.2"/>
<line x1="1808.3" y1="553.2" x2="2049.4" y2="553.2" stroke="#8a8a8a" stroke-width="1.2"/>
<line x1="1808.3" y1="448.7" x2="1808.3" y2="553.2" stroke="#555" stroke-width="1.2"/>
<line x1="1808.3" y1="482.2" x2="2049.4" y2="482.2" stroke="#e2e2e2" stroke-width="1.2"/>
<line x1="1808.3" y1="516.5" x2="2049.4" y2="516.5" stroke="#cfcfcf" stroke-width="1.2"/>
<line x1="1837.0" y1="466.3" x2="1859.3" y2="466.3" stroke="#7391de" stroke-width="5.4"/>
<text transform="translate(1861.95,472.40) scale(0.9404,1)" style="font-family:'Liberation Serif',serif;font-size:25.37px" fill="#000">(</text>
<text transform="translate(1870.29,471.70) scale(1.0287,1)" style="font-family:'Liberation Serif',serif;font-size:21.00px" fill="#000">2, 0</text>
<text transform="translate(1902.50,472.40) scale(0.9404,1)" style="font-family:'Liberation Serif',serif;font-size:25.37px" fill="#000">)</text>
<line x1="1947.0" y1="466.3" x2="1969.0" y2="466.3" stroke="#5a2d92" stroke-width="5.4"/>
<text transform="translate(1970.96,472.40) scale(0.9323,1)" style="font-family:'Liberation Serif',serif;font-size:25.37px" fill="#000">(</text>
<text transform="translate(1979.75,471.70) scale(1.0026,1)" style="font-family:'Liberation Serif',serif;font-size:21.00px" fill="#000">4, 0</text>
<text transform="translate(2011.16,472.40) scale(0.9323,1)" style="font-family:'Liberation Serif',serif;font-size:25.37px" fill="#000">)</text>
<line x1="1892.0" y1="500.5" x2="1914.0" y2="500.5" stroke="#428a3a" stroke-width="3.4"/>
<text transform="translate(1915.95,506.60) scale(0.9444,1)" style="font-family:'Liberation Serif',serif;font-size:25.37px" fill="#000">(</text>
<text transform="translate(1924.34,505.90) scale(1.0324,1)" style="font-family:'Liberation Serif',serif;font-size:21.00px" fill="#000">6, 0</text>
<text transform="translate(1956.68,506.60) scale(0.9444,1)" style="font-family:'Liberation Serif',serif;font-size:25.37px" fill="#000">)</text>
<line x1="1892.0" y1="534.3" x2="1914.0" y2="534.3" stroke="#a2142f" stroke-width="1.5"/>
<text transform="translate(1915.95,540.40) scale(0.9444,1)" style="font-family:'Liberation Serif',serif;font-size:25.37px" fill="#000">(</text>
<text transform="translate(1924.45,539.70) scale(1.0289,1)" style="font-family:'Liberation Serif',serif;font-size:21.00px" fill="#000">8, 0</text>
<text transform="translate(1956.68,540.40) scale(0.9444,1)" style="font-family:'Liberation Serif',serif;font-size:25.37px" fill="#000">)</text>
<text transform="translate(163.39,90.38) scale(0.7880,1)" style="font-family:'Liberation Serif',serif;font-size:49.41px" fill="#000">(</text>
<text transform="translate(176.31,88.30) scale(1.2882,1)" style="font-family:'Liberation Serif',serif;font-style:italic;font-size:36.72px" fill="#000">n</text>
<text transform="translate(199.00,100.61) scale(0.8933,1)" style="font-family:'Liberation Serif',serif;font-size:38.96px" fill="#000">LV</text>
<text transform="translate(249.85,88.39) scale(0.6608,1)" style="font-family:'Liberation Serif',serif;font-size:41.66px" fill="#000">,</text>
<text transform="translate(263.37,88.20) scale(1.3220,1)" style="font-family:'Liberation Serif',serif;font-style:italic;font-size:36.29px" fill="#000">m</text>
<text transform="translate(296.80,100.61) scale(0.8933,1)" style="font-family:'Liberation Serif',serif;font-size:38.96px" fill="#000">LV</text>
<text transform="translate(345.52,90.31) scale(0.7985,1)" style="font-family:'Liberation Serif',serif;font-size:49.74px" fill="#000">)</text>
<text transform="translate(372.21,90.64) scale(1.4287,1)" style="font-family:'Liberation Serif',serif;font-size:36.40px" fill="#000">=</text>
<text transform="translate(413.95,88.31) scale(0.8110,1)" style="font-family:'Liberation Serif',serif;font-size:40.81px" fill="#000">(</text>
<text transform="translate(425.78,87.80) scale(0.9715,1)" style="font-family:'Liberation Serif',serif;font-size:37.72px" fill="#000">1</text>
<text transform="translate(446.87,88.31) scale(0.7227,1)" style="font-family:'Liberation Serif',serif;font-size:40.88px" fill="#000">,</text>
<text transform="translate(460.67,88.62) scale(0.9699,1)" style="font-family:'Liberation Serif',serif;font-size:38.68px" fill="#000">0</text>
<text transform="translate(481.06,88.31) scale(0.7920,1)" style="font-family:'Liberation Serif',serif;font-size:40.81px" fill="#000">)</text>
<text transform="translate(806.19,93.18) scale(0.7880,1)" style="font-family:'Liberation Serif',serif;font-size:49.41px" fill="#000">(</text>
<text transform="translate(819.11,91.10) scale(1.2882,1)" style="font-family:'Liberation Serif',serif;font-style:italic;font-size:36.72px" fill="#000">n</text>
<text transform="translate(841.80,103.41) scale(0.8933,1)" style="font-family:'Liberation Serif',serif;font-size:38.96px" fill="#000">LV</text>
<text transform="translate(892.65,91.19) scale(0.6608,1)" style="font-family:'Liberation Serif',serif;font-size:41.66px" fill="#000">,</text>
<text transform="translate(906.17,91.00) scale(1.3220,1)" style="font-family:'Liberation Serif',serif;font-style:italic;font-size:36.29px" fill="#000">m</text>
<text transform="translate(939.60,103.41) scale(0.8933,1)" style="font-family:'Liberation Serif',serif;font-size:38.96px" fill="#000">LV</text>
<text transform="translate(988.32,93.11) scale(0.7985,1)" style="font-family:'Liberation Serif',serif;font-size:49.74px" fill="#000">)</text>
<text transform="translate(1015.01,93.44) scale(1.4287,1)" style="font-family:'Liberation Serif',serif;font-size:36.40px" fill="#000">=</text>
<text transform="translate(1055.26,91.29) scale(0.8564,1)" style="font-family:'Liberation Serif',serif;font-size:40.92px" fill="#000">(</text>
<text transform="translate(1067.65,90.90) scale(0.9114,1)" style="font-family:'Liberation Serif',serif;font-size:38.02px" fill="#000">1</text>
<text transform="translate(1087.95,91.41) scale(0.7682,1)" style="font-family:'Liberation Serif',serif;font-size:42.83px" fill="#000">,</text>
<text transform="translate(1102.13,90.90) scale(0.9488,1)" style="font-family:'Liberation Serif',serif;font-size:38.02px" fill="#000">1</text>
<text transform="translate(1121.63,91.29) scale(0.8850,1)" style="font-family:'Liberation Serif',serif;font-size:40.92px" fill="#000">)</text>
<text transform="translate(1450.59,91.78) scale(0.7880,1)" style="font-family:'Liberation Serif',serif;font-size:49.41px" fill="#000">(</text>
<text transform="translate(1463.51,89.70) scale(1.2882,1)" style="font-family:'Liberation Serif',serif;font-style:italic;font-size:36.72px" fill="#000">n</text>
<text transform="translate(1486.20,102.01) scale(0.8933,1)" style="font-family:'Liberation Serif',serif;font-size:38.96px" fill="#000">LV</text>
<text transform="translate(1537.05,89.79) scale(0.6608,1)" style="font-family:'Liberation Serif',serif;font-size:41.66px" fill="#000">,</text>
<text transform="translate(1550.57,89.60) scale(1.3220,1)" style="font-family:'Liberation Serif',serif;font-style:italic;font-size:36.29px" fill="#000">m</text>
<text transform="translate(1584.00,102.01) scale(0.8933,1)" style="font-family:'Liberation Serif',serif;font-size:38.96px" fill="#000">LV</text>
<text transform="translate(1632.72,91.71) scale(0.7985,1)" style="font-family:'Liberation Serif',serif;font-size:49.74px" fill="#000">)</text>
<text transform="translate(1659.41,92.04) scale(1.4287,1)" style="font-family:'Liberation Serif',serif;font-size:36.40px" fill="#000">=</text>
<text transform="translate(1699.28,90.06) scale(0.7963,1)" style="font-family:'Liberation Serif',serif;font-size:40.59px" fill="#000">(</text>
<text transform="translate(1711.24,89.20) scale(1.0263,1)" style="font-family:'Liberation Serif',serif;font-size:36.70px" fill="#000">2</text>
<text transform="translate(1731.77,89.39) scale(0.7092,1)" style="font-family:'Liberation Serif',serif;font-size:41.66px" fill="#000">,</text>
<text transform="translate(1746.32,89.83) scale(0.9691,1)" style="font-family:'Liberation Serif',serif;font-size:37.49px" fill="#000">0</text>
<text transform="translate(1765.77,90.06) scale(0.7867,1)" style="font-family:'Liberation Serif',serif;font-size:40.59px" fill="#000">)</text>
<line x1="270.09" y1="596.70" x2="270.09" y2="1131.00" stroke="#eeeeee" stroke-width="1" stroke-dasharray="5 4"/>
<line x1="333.84" y1="596.70" x2="333.84" y2="1131.00" stroke="#eeeeee" stroke-width="1" stroke-dasharray="5 4"/>
<line x1="379.07" y1="596.70" x2="379.07" y2="1131.00" stroke="#eeeeee" stroke-width="1" stroke-dasharray="5 4"/>
<line x1="414.16" y1="596.70" x2="414.16" y2="1131.00" stroke="#eeeeee" stroke-width="1" stroke-dasharray="5 4"/>
<line x1="442.82" y1="596.70" x2="442.82" y2="1131.00" stroke="#eeeeee" stroke-width="1" stroke-dasharray="5 4"/>
<line x1="467.06" y1="596.70" x2="467.06" y2="1131.00" stroke="#eeeeee" stroke-width="1" stroke-dasharray="5 4"/>
<line x1="488.06" y1="596.70" x2="488.06" y2="1131.00" stroke="#eeeeee" stroke-width="1" stroke-dasharray="5 4"/>
<line x1="506.58" y1="596.70" x2="506.58" y2="1131.00" stroke="#eeeeee" stroke-width="1" stroke-dasharray="5 4"/>
<line x1="632.13" y1="596.70" x2="632.13" y2="1131.00" stroke="#eeeeee" stroke-width="1" stroke-dasharray="5 4"/>
<line x1="695.88" y1="596.70" x2="695.88" y2="1131.00" stroke="#eeeeee" stroke-width="1" stroke-dasharray="5 4"/>
<line x1="741.11" y1="596.70" x2="741.11" y2="1131.00" stroke="#eeeeee" stroke-width="1" stroke-dasharray="5 4"/>
<line x1="523.14" y1="596.70" x2="523.14" y2="1131.00" stroke="#e2e2e2" stroke-width="1"/>
<line x1="161.10" y1="1110.89" x2="776.20" y2="1110.89" stroke="#eeeeee" stroke-width="1" stroke-dasharray="5 4"/>
<line x1="161.10" y1="1099.13" x2="776.20" y2="1099.13" stroke="#eeeeee" stroke-width="1" stroke-dasharray="5 4"/>
<line x1="161.10" y1="1090.79" x2="776.20" y2="1090.79" stroke="#eeeeee" stroke-width="1" stroke-dasharray="5 4"/>
<line x1="161.10" y1="1084.32" x2="776.20" y2="1084.32" stroke="#eeeeee" stroke-width="1" stroke-dasharray="5 4"/>
<line x1="161.10" y1="1079.03" x2="776.20" y2="1079.03" stroke="#eeeeee" stroke-width="1" stroke-dasharray="5 4"/>
<line x1="161.10" y1="1074.56" x2="776.20" y2="1074.56" stroke="#eeeeee" stroke-width="1" stroke-dasharray="5 4"/>
<line x1="161.10" y1="1070.68" x2="776.20" y2="1070.68" stroke="#eeeeee" stroke-width="1" stroke-dasharray="5 4"/>
<line x1="161.10" y1="1067.27" x2="776.20" y2="1067.27" stroke="#eeeeee" stroke-width="1" stroke-dasharray="5 4"/>
<line x1="161.10" y1="1044.11" x2="776.20" y2="1044.11" stroke="#eeeeee" stroke-width="1" stroke-dasharray="5 4"/>
<line x1="161.10" y1="1032.35" x2="776.20" y2="1032.35" stroke="#eeeeee" stroke-width="1" stroke-dasharray="5 4"/>
<line x1="161.10" y1="1024.00" x2="776.20" y2="1024.00" stroke="#eeeeee" stroke-width="1" stroke-dasharray="5 4"/>
<line x1="161.10" y1="1017.53" x2="776.20" y2="1017.53" stroke="#eeeeee" stroke-width="1" stroke-dasharray="5 4"/>
<line x1="161.10" y1="1012.24" x2="776.20" y2="1012.24" stroke="#eeeeee" stroke-width="1" stroke-dasharray="5 4"/>
<line x1="161.10" y1="1007.77" x2="776.20" y2="1007.77" stroke="#eeeeee" stroke-width="1" stroke-dasharray="5 4"/>
<line x1="161.10" y1="1003.90" x2="776.20" y2="1003.90" stroke="#eeeeee" stroke-width="1" stroke-dasharray="5 4"/>
<line x1="161.10" y1="1000.48" x2="776.20" y2="1000.48" stroke="#eeeeee" stroke-width="1" stroke-dasharray="5 4"/>
<line x1="161.10" y1="977.32" x2="776.20" y2="977.32" stroke="#eeeeee" stroke-width="1" stroke-dasharray="5 4"/>
<line x1="161.10" y1="965.56" x2="776.20" y2="965.56" stroke="#eeeeee" stroke-width="1" stroke-dasharray="5 4"/>
<line x1="161.10" y1="957.21" x2="776.20" y2="957.21" stroke="#eeeeee" stroke-width="1" stroke-dasharray="5 4"/>
<line x1="161.10" y1="950.74" x2="776.20" y2="950.74" stroke="#eeeeee" stroke-width="1" stroke-dasharray="5 4"/>
<line x1="161.10" y1="945.45" x2="776.20" y2="945.45" stroke="#eeeeee" stroke-width="1" stroke-dasharray="5 4"/>
<line x1="161.10" y1="940.98" x2="776.20" y2="940.98" stroke="#eeeeee" stroke-width="1" stroke-dasharray="5 4"/>
<line x1="161.10" y1="937.11" x2="776.20" y2="937.11" stroke="#eeeeee" stroke-width="1" stroke-dasharray="5 4"/>
<line x1="161.10" y1="933.69" x2="776.20" y2="933.69" stroke="#eeeeee" stroke-width="1" stroke-dasharray="5 4"/>
<line x1="161.10" y1="910.53" x2="776.20" y2="910.53" stroke="#eeeeee" stroke-width="1" stroke-dasharray="5 4"/>
<line x1="161.10" y1="898.77" x2="776.20" y2="898.77" stroke="#eeeeee" stroke-width="1" stroke-dasharray="5 4"/>
<line x1="161.10" y1="890.43" x2="776.20" y2="890.43" stroke="#eeeeee" stroke-width="1" stroke-dasharray="5 4"/>
<line x1="161.10" y1="883.96" x2="776.20" y2="883.96" stroke="#eeeeee" stroke-width="1" stroke-dasharray="5 4"/>
<line x1="161.10" y1="878.67" x2="776.20" y2="878.67" stroke="#eeeeee" stroke-width="1" stroke-dasharray="5 4"/>
<line x1="161.10" y1="874.20" x2="776.20" y2="874.20" stroke="#eeeeee" stroke-width="1" stroke-dasharray="5 4"/>
<line x1="161.10" y1="870.32" x2="776.20" y2="870.32" stroke="#eeeeee" stroke-width="1" stroke-dasharray="5 4"/>
<line x1="161.10" y1="866.91" x2="776.20" y2="866.91" stroke="#eeeeee" stroke-width="1" stroke-dasharray="5 4"/>
<line x1="161.10" y1="843.74" x2="776.20" y2="843.74" stroke="#eeeeee" stroke-width="1" stroke-dasharray="5 4"/>
<line x1="161.10" y1="831.98" x2="776.20" y2="831.98" stroke="#eeeeee" stroke-width="1" stroke-dasharray="5 4"/>
<line x1="161.10" y1="823.64" x2="776.20" y2="823.64" stroke="#eeeeee" stroke-width="1" stroke-dasharray="5 4"/>
<line x1="161.10" y1="817.17" x2="776.20" y2="817.17" stroke="#eeeeee" stroke-width="1" stroke-dasharray="5 4"/>
<line x1="161.10" y1="811.88" x2="776.20" y2="811.88" stroke="#eeeeee" stroke-width="1" stroke-dasharray="5 4"/>
<line x1="161.10" y1="807.41" x2="776.20" y2="807.41" stroke="#eeeeee" stroke-width="1" stroke-dasharray="5 4"/>
<line x1="161.10" y1="803.53" x2="776.20" y2="803.53" stroke="#eeeeee" stroke-width="1" stroke-dasharray="5 4"/>
<line x1="161.10" y1="800.12" x2="776.20" y2="800.12" stroke="#eeeeee" stroke-width="1" stroke-dasharray="5 4"/>
<line x1="161.10" y1="776.96" x2="776.20" y2="776.96" stroke="#eeeeee" stroke-width="1" stroke-dasharray="5 4"/>
<line x1="161.10" y1="765.20" x2="776.20" y2="765.20" stroke="#eeeeee" stroke-width="1" stroke-dasharray="5 4"/>
<line x1="161.10" y1="756.85" x2="776.20" y2="756.85" stroke="#eeeeee" stroke-width="1" stroke-dasharray="5 4"/>
<line x1="161.10" y1="750.38" x2="776.20" y2="750.38" stroke="#eeeeee" stroke-width="1" stroke-dasharray="5 4"/>
<line x1="161.10" y1="745.09" x2="776.20" y2="745.09" stroke="#eeeeee" stroke-width="1" stroke-dasharray="5 4"/>
<line x1="161.10" y1="740.62" x2="776.20" y2="740.62" stroke="#eeeeee" stroke-width="1" stroke-dasharray="5 4"/>
<line x1="161.10" y1="736.75" x2="776.20" y2="736.75" stroke="#eeeeee" stroke-width="1" stroke-dasharray="5 4"/>
<line x1="161.10" y1="733.33" x2="776.20" y2="733.33" stroke="#eeeeee" stroke-width="1" stroke-dasharray="5 4"/>
<line x1="161.10" y1="710.17" x2="776.20" y2="710.17" stroke="#eeeeee" stroke-width="1" stroke-dasharray="5 4"/>
<line x1="161.10" y1="698.41" x2="776.20" y2="698.41" stroke="#eeeeee" stroke-width="1" stroke-dasharray="5 4"/>
<line x1="161.10" y1="690.06" x2="776.20" y2="690.06" stroke="#eeeeee" stroke-width="1" stroke-dasharray="5 4"/>
<line x1="161.10" y1="683.59" x2="776.20" y2="683.59" stroke="#eeeeee" stroke-width="1" stroke-dasharray="5 4"/>
<line x1="161.10" y1="678.30" x2="776.20" y2="678.30" stroke="#eeeeee" stroke-width="1" stroke-dasharray="5 4"/>
<line x1="161.10" y1="673.83" x2="776.20" y2="673.83" stroke="#eeeeee" stroke-width="1" stroke-dasharray="5 4"/>
<line x1="161.10" y1="669.96" x2="776.20" y2="669.96" stroke="#eeeeee" stroke-width="1" stroke-dasharray="5 4"/>
<line x1="161.10" y1="666.54" x2="776.20" y2="666.54" stroke="#eeeeee" stroke-width="1" stroke-dasharray="5 4"/>
<line x1="161.10" y1="643.38" x2="776.20" y2="643.38" stroke="#eeeeee" stroke-width="1" stroke-dasharray="5 4"/>
<line x1="161.10" y1="631.62" x2="776.20" y2="631.62" stroke="#eeeeee" stroke-width="1" stroke-dasharray="5 4"/>
<line x1="161.10" y1="623.28" x2="776.20" y2="623.28" stroke="#eeeeee" stroke-width="1" stroke-dasharray="5 4"/>
<line x1="161.10" y1="616.81" x2="776.20" y2="616.81" stroke="#eeeeee" stroke-width="1" stroke-dasharray="5 4"/>
<line x1="161.10" y1="611.52" x2="776.20" y2="611.52" stroke="#eeeeee" stroke-width="1" stroke-dasharray="5 4"/>
<line x1="161.10" y1="607.05" x2="776.20" y2="607.05" stroke="#eeeeee" stroke-width="1" stroke-dasharray="5 4"/>
<line x1="161.10" y1="603.17" x2="776.20" y2="603.17" stroke="#eeeeee" stroke-width="1" stroke-dasharray="5 4"/>
<line x1="161.10" y1="599.76" x2="776.20" y2="599.76" stroke="#eeeeee" stroke-width="1" stroke-dasharray="5 4"/>
<line x1="161.10" y1="1064.21" x2="776.20" y2="1064.21" stroke="#eeeeee" stroke-width="1" stroke-dasharray="5 4"/>
<line x1="161.10" y1="930.64" x2="776.20" y2="930.64" stroke="#eeeeee" stroke-width="1" stroke-dasharray="5 4"/>
<line x1="161.10" y1="797.06" x2="776.20" y2="797.06" stroke="#eeeeee" stroke-width="1" stroke-dasharray="5 4"/>
<line x1="161.10" y1="663.49" x2="776.20" y2="663.49" stroke="#eeeeee" stroke-width="1" stroke-dasharray="5 4"/>
<line x1="161.10" y1="997.42" x2="776.20" y2="997.42" stroke="#e2e2e2" stroke-width="1"/>
<line x1="161.10" y1="863.85" x2="776.20" y2="863.85" stroke="#e2e2e2" stroke-width="1"/>
<line x1="161.10" y1="730.28" x2="776.20" y2="730.28" stroke="#e2e2e2" stroke-width="1"/>
<line x1="912.08" y1="597.40" x2="912.08" y2="1128.40" stroke="#eeeeee" stroke-width="1" stroke-dasharray="5 4"/>
<line x1="975.48" y1="597.40" x2="975.48" y2="1128.40" stroke="#eeeeee" stroke-width="1" stroke-dasharray="5 4"/>
<line x1="1020.47" y1="597.40" x2="1020.47" y2="1128.40" stroke="#eeeeee" stroke-width="1" stroke-dasharray="5 4"/>
<line x1="1055.36" y1="597.40" x2="1055.36" y2="1128.40" stroke="#eeeeee" stroke-width="1" stroke-dasharray="5 4"/>
<line x1="1083.87" y1="597.40" x2="1083.87" y2="1128.40" stroke="#eeeeee" stroke-width="1" stroke-dasharray="5 4"/>
<line x1="1107.97" y1="597.40" x2="1107.97" y2="1128.40" stroke="#eeeeee" stroke-width="1" stroke-dasharray="5 4"/>
<line x1="1128.85" y1="597.40" x2="1128.85" y2="1128.40" stroke="#eeeeee" stroke-width="1" stroke-dasharray="5 4"/>
<line x1="1147.27" y1="597.40" x2="1147.27" y2="1128.40" stroke="#eeeeee" stroke-width="1" stroke-dasharray="5 4"/>
<line x1="1272.13" y1="597.40" x2="1272.13" y2="1128.40" stroke="#eeeeee" stroke-width="1" stroke-dasharray="5 4"/>
<line x1="1335.53" y1="597.40" x2="1335.53" y2="1128.40" stroke="#eeeeee" stroke-width="1" stroke-dasharray="5 4"/>
<line x1="1380.51" y1="597.40" x2="1380.51" y2="1128.40" stroke="#eeeeee" stroke-width="1" stroke-dasharray="5 4"/>
<line x1="1163.74" y1="597.40" x2="1163.74" y2="1128.40" stroke="#e2e2e2" stroke-width="1"/>
<line x1="803.70" y1="1108.42" x2="1415.40" y2="1108.42" stroke="#eeeeee" stroke-width="1" stroke-dasharray="5 4"/>
<line x1="803.70" y1="1096.73" x2="1415.40" y2="1096.73" stroke="#eeeeee" stroke-width="1" stroke-dasharray="5 4"/>
<line x1="803.70" y1="1088.44" x2="1415.40" y2="1088.44" stroke="#eeeeee" stroke-width="1" stroke-dasharray="5 4"/>
<line x1="803.70" y1="1082.01" x2="1415.40" y2="1082.01" stroke="#eeeeee" stroke-width="1" stroke-dasharray="5 4"/>
<line x1="803.70" y1="1076.75" x2="1415.40" y2="1076.75" stroke="#eeeeee" stroke-width="1" stroke-dasharray="5 4"/>
<line x1="803.70" y1="1072.31" x2="1415.40" y2="1072.31" stroke="#eeeeee" stroke-width="1" stroke-dasharray="5 4"/>
<line x1="803.70" y1="1068.46" x2="1415.40" y2="1068.46" stroke="#eeeeee" stroke-width="1" stroke-dasharray="5 4"/>
<line x1="803.70" y1="1065.06" x2="1415.40" y2="1065.06" stroke="#eeeeee" stroke-width="1" stroke-dasharray="5 4"/>
<line x1="803.70" y1="1042.04" x2="1415.40" y2="1042.04" stroke="#eeeeee" stroke-width="1" stroke-dasharray="5 4"/>
<line x1="803.70" y1="1030.36" x2="1415.40" y2="1030.36" stroke="#eeeeee" stroke-width="1" stroke-dasharray="5 4"/>
<line x1="803.70" y1="1022.06" x2="1415.40" y2="1022.06" stroke="#eeeeee" stroke-width="1" stroke-dasharray="5 4"/>
<line x1="803.70" y1="1015.63" x2="1415.40" y2="1015.63" stroke="#eeeeee" stroke-width="1" stroke-dasharray="5 4"/>
<line x1="803.70" y1="1010.38" x2="1415.40" y2="1010.38" stroke="#eeeeee" stroke-width="1" stroke-dasharray="5 4"/>
<line x1="803.70" y1="1005.93" x2="1415.40" y2="1005.93" stroke="#eeeeee" stroke-width="1" stroke-dasharray="5 4"/>
<line x1="803.70" y1="1002.08" x2="1415.40" y2="1002.08" stroke="#eeeeee" stroke-width="1" stroke-dasharray="5 4"/>
<line x1="803.70" y1="998.69" x2="1415.40" y2="998.69" stroke="#eeeeee" stroke-width="1" stroke-dasharray="5 4"/>
<line x1="803.70" y1="975.67" x2="1415.40" y2="975.67" stroke="#eeeeee" stroke-width="1" stroke-dasharray="5 4"/>
<line x1="803.70" y1="963.98" x2="1415.40" y2="963.98" stroke="#eeeeee" stroke-width="1" stroke-dasharray="5 4"/>
<line x1="803.70" y1="955.69" x2="1415.40" y2="955.69" stroke="#eeeeee" stroke-width="1" stroke-dasharray="5 4"/>
<line x1="803.70" y1="949.26" x2="1415.40" y2="949.26" stroke="#eeeeee" stroke-width="1" stroke-dasharray="5 4"/>
<line x1="803.70" y1="944.00" x2="1415.40" y2="944.00" stroke="#eeeeee" stroke-width="1" stroke-dasharray="5 4"/>
<line x1="803.70" y1="939.56" x2="1415.40" y2="939.56" stroke="#eeeeee" stroke-width="1" stroke-dasharray="5 4"/>
<line x1="803.70" y1="935.71" x2="1415.40" y2="935.71" stroke="#eeeeee" stroke-width="1" stroke-dasharray="5 4"/>
<line x1="803.70" y1="932.31" x2="1415.40" y2="932.31" stroke="#eeeeee" stroke-width="1" stroke-dasharray="5 4"/>
<line x1="803.70" y1="909.29" x2="1415.40" y2="909.29" stroke="#eeeeee" stroke-width="1" stroke-dasharray="5 4"/>
<line x1="803.70" y1="897.61" x2="1415.40" y2="897.61" stroke="#eeeeee" stroke-width="1" stroke-dasharray="5 4"/>
<line x1="803.70" y1="889.31" x2="1415.40" y2="889.31" stroke="#eeeeee" stroke-width="1" stroke-dasharray="5 4"/>
<line x1="803.70" y1="882.88" x2="1415.40" y2="882.88" stroke="#eeeeee" stroke-width="1" stroke-dasharray="5 4"/>
<line x1="803.70" y1="877.63" x2="1415.40" y2="877.63" stroke="#eeeeee" stroke-width="1" stroke-dasharray="5 4"/>
<line x1="803.70" y1="873.18" x2="1415.40" y2="873.18" stroke="#eeeeee" stroke-width="1" stroke-dasharray="5 4"/>
<line x1="803.70" y1="869.33" x2="1415.40" y2="869.33" stroke="#eeeeee" stroke-width="1" stroke-dasharray="5 4"/>
<line x1="803.70" y1="865.94" x2="1415.40" y2="865.94" stroke="#eeeeee" stroke-width="1" stroke-dasharray="5 4"/>
<line x1="803.70" y1="842.92" x2="1415.40" y2="842.92" stroke="#eeeeee" stroke-width="1" stroke-dasharray="5 4"/>
<line x1="803.70" y1="831.23" x2="1415.40" y2="831.23" stroke="#eeeeee" stroke-width="1" stroke-dasharray="5 4"/>
<line x1="803.70" y1="822.94" x2="1415.40" y2="822.94" stroke="#eeeeee" stroke-width="1" stroke-dasharray="5 4"/>
<line x1="803.70" y1="816.51" x2="1415.40" y2="816.51" stroke="#eeeeee" stroke-width="1" stroke-dasharray="5 4"/>
<line x1="803.70" y1="811.25" x2="1415.40" y2="811.25" stroke="#eeeeee" stroke-width="1" stroke-dasharray="5 4"/>
<line x1="803.70" y1="806.81" x2="1415.40" y2="806.81" stroke="#eeeeee" stroke-width="1" stroke-dasharray="5 4"/>
<line x1="803.70" y1="802.96" x2="1415.40" y2="802.96" stroke="#eeeeee" stroke-width="1" stroke-dasharray="5 4"/>
<line x1="803.70" y1="799.56" x2="1415.40" y2="799.56" stroke="#eeeeee" stroke-width="1" stroke-dasharray="5 4"/>
<line x1="803.70" y1="776.54" x2="1415.40" y2="776.54" stroke="#eeeeee" stroke-width="1" stroke-dasharray="5 4"/>
<line x1="803.70" y1="764.86" x2="1415.40" y2="764.86" stroke="#eeeeee" stroke-width="1" stroke-dasharray="5 4"/>
<line x1="803.70" y1="756.56" x2="1415.40" y2="756.56" stroke="#eeeeee" stroke-width="1" stroke-dasharray="5 4"/>
<line x1="803.70" y1="750.13" x2="1415.40" y2="750.13" stroke="#eeeeee" stroke-width="1" stroke-dasharray="5 4"/>
<line x1="803.70" y1="744.88" x2="1415.40" y2="744.88" stroke="#eeeeee" stroke-width="1" stroke-dasharray="5 4"/>
<line x1="803.70" y1="740.43" x2="1415.40" y2="740.43" stroke="#eeeeee" stroke-width="1" stroke-dasharray="5 4"/>
<line x1="803.70" y1="736.58" x2="1415.40" y2="736.58" stroke="#eeeeee" stroke-width="1" stroke-dasharray="5 4"/>
<line x1="803.70" y1="733.19" x2="1415.40" y2="733.19" stroke="#eeeeee" stroke-width="1" stroke-dasharray="5 4"/>
<line x1="803.70" y1="710.17" x2="1415.40" y2="710.17" stroke="#eeeeee" stroke-width="1" stroke-dasharray="5 4"/>
<line x1="803.70" y1="698.48" x2="1415.40" y2="698.48" stroke="#eeeeee" stroke-width="1" stroke-dasharray="5 4"/>
<line x1="803.70" y1="690.19" x2="1415.40" y2="690.19" stroke="#eeeeee" stroke-width="1" stroke-dasharray="5 4"/>
<line x1="803.70" y1="683.76" x2="1415.40" y2="683.76" stroke="#eeeeee" stroke-width="1" stroke-dasharray="5 4"/>
<line x1="803.70" y1="678.50" x2="1415.40" y2="678.50" stroke="#eeeeee" stroke-width="1" stroke-dasharray="5 4"/>
<line x1="803.70" y1="674.06" x2="1415.40" y2="674.06" stroke="#eeeeee" stroke-width="1" stroke-dasharray="5 4"/>
<line x1="803.70" y1="670.21" x2="1415.40" y2="670.21" stroke="#eeeeee" stroke-width="1" stroke-dasharray="5 4"/>
<line x1="803.70" y1="666.81" x2="1415.40" y2="666.81" stroke="#eeeeee" stroke-width="1" stroke-dasharray="5 4"/>
<line x1="803.70" y1="643.79" x2="1415.40" y2="643.79" stroke="#eeeeee" stroke-width="1" stroke-dasharray="5 4"/>
<line x1="803.70" y1="632.11" x2="1415.40" y2="632.11" stroke="#eeeeee" stroke-width="1" stroke-dasharray="5 4"/>
<line x1="803.70" y1="623.81" x2="1415.40" y2="623.81" stroke="#eeeeee" stroke-width="1" stroke-dasharray="5 4"/>
<line x1="803.70" y1="617.38" x2="1415.40" y2="617.38" stroke="#eeeeee" stroke-width="1" stroke-dasharray="5 4"/>
<line x1="803.70" y1="612.13" x2="1415.40" y2="612.13" stroke="#eeeeee" stroke-width="1" stroke-dasharray="5 4"/>
<line x1="803.70" y1="607.68" x2="1415.40" y2="607.68" stroke="#eeeeee" stroke-width="1" stroke-dasharray="5 4"/>
<line x1="803.70" y1="603.83" x2="1415.40" y2="603.83" stroke="#eeeeee" stroke-width="1" stroke-dasharray="5 4"/>
<line x1="803.70" y1="600.44" x2="1415.40" y2="600.44" stroke="#eeeeee" stroke-width="1" stroke-dasharray="5 4"/>
<line x1="803.70" y1="1062.03" x2="1415.40" y2="1062.03" stroke="#eeeeee" stroke-width="1" stroke-dasharray="5 4"/>
<line x1="803.70" y1="929.28" x2="1415.40" y2="929.28" stroke="#eeeeee" stroke-width="1" stroke-dasharray="5 4"/>
<line x1="803.70" y1="796.53" x2="1415.40" y2="796.53" stroke="#eeeeee" stroke-width="1" stroke-dasharray="5 4"/>
<line x1="803.70" y1="663.77" x2="1415.40" y2="663.77" stroke="#eeeeee" stroke-width="1" stroke-dasharray="5 4"/>
<line x1="803.70" y1="995.65" x2="1415.40" y2="995.65" stroke="#e2e2e2" stroke-width="1"/>
<line x1="803.70" y1="862.90" x2="1415.40" y2="862.90" stroke="#e2e2e2" stroke-width="1"/>
<line x1="803.70" y1="730.15" x2="1415.40" y2="730.15" stroke="#e2e2e2" stroke-width="1"/>
<line x1="1552.04" y1="596.40" x2="1552.04" y2="1129.20" stroke="#eeeeee" stroke-width="1" stroke-dasharray="5 4"/>
<line x1="1615.71" y1="596.40" x2="1615.71" y2="1129.20" stroke="#eeeeee" stroke-width="1" stroke-dasharray="5 4"/>
<line x1="1660.89" y1="596.40" x2="1660.89" y2="1129.20" stroke="#eeeeee" stroke-width="1" stroke-dasharray="5 4"/>
<line x1="1695.93" y1="596.40" x2="1695.93" y2="1129.20" stroke="#eeeeee" stroke-width="1" stroke-dasharray="5 4"/>
<line x1="1724.56" y1="596.40" x2="1724.56" y2="1129.20" stroke="#eeeeee" stroke-width="1" stroke-dasharray="5 4"/>
<line x1="1748.76" y1="596.40" x2="1748.76" y2="1129.20" stroke="#eeeeee" stroke-width="1" stroke-dasharray="5 4"/>
<line x1="1769.73" y1="596.40" x2="1769.73" y2="1129.20" stroke="#eeeeee" stroke-width="1" stroke-dasharray="5 4"/>
<line x1="1788.23" y1="596.40" x2="1788.23" y2="1129.20" stroke="#eeeeee" stroke-width="1" stroke-dasharray="5 4"/>
<line x1="1913.62" y1="596.40" x2="1913.62" y2="1129.20" stroke="#eeeeee" stroke-width="1" stroke-dasharray="5 4"/>
<line x1="1977.29" y1="596.40" x2="1977.29" y2="1129.20" stroke="#eeeeee" stroke-width="1" stroke-dasharray="5 4"/>
<line x1="2022.46" y1="596.40" x2="2022.46" y2="1129.20" stroke="#eeeeee" stroke-width="1" stroke-dasharray="5 4"/>
<line x1="1804.77" y1="596.40" x2="1804.77" y2="1129.20" stroke="#e2e2e2" stroke-width="1"/>
<line x1="1443.20" y1="1109.15" x2="2057.50" y2="1109.15" stroke="#eeeeee" stroke-width="1" stroke-dasharray="5 4"/>
<line x1="1443.20" y1="1097.42" x2="2057.50" y2="1097.42" stroke="#eeeeee" stroke-width="1" stroke-dasharray="5 4"/>
<line x1="1443.20" y1="1089.10" x2="2057.50" y2="1089.10" stroke="#eeeeee" stroke-width="1" stroke-dasharray="5 4"/>
<line x1="1443.20" y1="1082.65" x2="2057.50" y2="1082.65" stroke="#eeeeee" stroke-width="1" stroke-dasharray="5 4"/>
<line x1="1443.20" y1="1077.38" x2="2057.50" y2="1077.38" stroke="#eeeeee" stroke-width="1" stroke-dasharray="5 4"/>
<line x1="1443.20" y1="1072.92" x2="2057.50" y2="1072.92" stroke="#eeeeee" stroke-width="1" stroke-dasharray="5 4"/>
<line x1="1443.20" y1="1069.05" x2="2057.50" y2="1069.05" stroke="#eeeeee" stroke-width="1" stroke-dasharray="5 4"/>
<line x1="1443.20" y1="1065.65" x2="2057.50" y2="1065.65" stroke="#eeeeee" stroke-width="1" stroke-dasharray="5 4"/>
<line x1="1443.20" y1="1042.55" x2="2057.50" y2="1042.55" stroke="#eeeeee" stroke-width="1" stroke-dasharray="5 4"/>
<line x1="1443.20" y1="1030.82" x2="2057.50" y2="1030.82" stroke="#eeeeee" stroke-width="1" stroke-dasharray="5 4"/>
<line x1="1443.20" y1="1022.50" x2="2057.50" y2="1022.50" stroke="#eeeeee" stroke-width="1" stroke-dasharray="5 4"/>
<line x1="1443.20" y1="1016.05" x2="2057.50" y2="1016.05" stroke="#eeeeee" stroke-width="1" stroke-dasharray="5 4"/>
<line x1="1443.20" y1="1010.78" x2="2057.50" y2="1010.78" stroke="#eeeeee" stroke-width="1" stroke-dasharray="5 4"/>
<line x1="1443.20" y1="1006.32" x2="2057.50" y2="1006.32" stroke="#eeeeee" stroke-width="1" stroke-dasharray="5 4"/>
<line x1="1443.20" y1="1002.45" x2="2057.50" y2="1002.45" stroke="#eeeeee" stroke-width="1" stroke-dasharray="5 4"/>
<line x1="1443.20" y1="999.05" x2="2057.50" y2="999.05" stroke="#eeeeee" stroke-width="1" stroke-dasharray="5 4"/>
<line x1="1443.20" y1="975.95" x2="2057.50" y2="975.95" stroke="#eeeeee" stroke-width="1" stroke-dasharray="5 4"/>
<line x1="1443.20" y1="964.22" x2="2057.50" y2="964.22" stroke="#eeeeee" stroke-width="1" stroke-dasharray="5 4"/>
<line x1="1443.20" y1="955.90" x2="2057.50" y2="955.90" stroke="#eeeeee" stroke-width="1" stroke-dasharray="5 4"/>
<line x1="1443.20" y1="949.45" x2="2057.50" y2="949.45" stroke="#eeeeee" stroke-width="1" stroke-dasharray="5 4"/>
<line x1="1443.20" y1="944.18" x2="2057.50" y2="944.18" stroke="#eeeeee" stroke-width="1" stroke-dasharray="5 4"/>
<line x1="1443.20" y1="939.72" x2="2057.50" y2="939.72" stroke="#eeeeee" stroke-width="1" stroke-dasharray="5 4"/>
<line x1="1443.20" y1="935.85" x2="2057.50" y2="935.85" stroke="#eeeeee" stroke-width="1" stroke-dasharray="5 4"/>
<line x1="1443.20" y1="932.45" x2="2057.50" y2="932.45" stroke="#eeeeee" stroke-width="1" stroke-dasharray="5 4"/>
<line x1="1443.20" y1="909.35" x2="2057.50" y2="909.35" stroke="#eeeeee" stroke-width="1" stroke-dasharray="5 4"/>
<line x1="1443.20" y1="897.62" x2="2057.50" y2="897.62" stroke="#eeeeee" stroke-width="1" stroke-dasharray="5 4"/>
<line x1="1443.20" y1="889.30" x2="2057.50" y2="889.30" stroke="#eeeeee" stroke-width="1" stroke-dasharray="5 4"/>
<line x1="1443.20" y1="882.85" x2="2057.50" y2="882.85" stroke="#eeeeee" stroke-width="1" stroke-dasharray="5 4"/>
<line x1="1443.20" y1="877.58" x2="2057.50" y2="877.58" stroke="#eeeeee" stroke-width="1" stroke-dasharray="5 4"/>
<line x1="1443.20" y1="873.12" x2="2057.50" y2="873.12" stroke="#eeeeee" stroke-width="1" stroke-dasharray="5 4"/>
<line x1="1443.20" y1="869.25" x2="2057.50" y2="869.25" stroke="#eeeeee" stroke-width="1" stroke-dasharray="5 4"/>
<line x1="1443.20" y1="865.85" x2="2057.50" y2="865.85" stroke="#eeeeee" stroke-width="1" stroke-dasharray="5 4"/>
<line x1="1443.20" y1="842.75" x2="2057.50" y2="842.75" stroke="#eeeeee" stroke-width="1" stroke-dasharray="5 4"/>
<line x1="1443.20" y1="831.02" x2="2057.50" y2="831.02" stroke="#eeeeee" stroke-width="1" stroke-dasharray="5 4"/>
<line x1="1443.20" y1="822.70" x2="2057.50" y2="822.70" stroke="#eeeeee" stroke-width="1" stroke-dasharray="5 4"/>
<line x1="1443.20" y1="816.25" x2="2057.50" y2="816.25" stroke="#eeeeee" stroke-width="1" stroke-dasharray="5 4"/>
<line x1="1443.20" y1="810.98" x2="2057.50" y2="810.98" stroke="#eeeeee" stroke-width="1" stroke-dasharray="5 4"/>
<line x1="1443.20" y1="806.52" x2="2057.50" y2="806.52" stroke="#eeeeee" stroke-width="1" stroke-dasharray="5 4"/>
<line x1="1443.20" y1="802.65" x2="2057.50" y2="802.65" stroke="#eeeeee" stroke-width="1" stroke-dasharray="5 4"/>
<line x1="1443.20" y1="799.25" x2="2057.50" y2="799.25" stroke="#eeeeee" stroke-width="1" stroke-dasharray="5 4"/>
<line x1="1443.20" y1="776.15" x2="2057.50" y2="776.15" stroke="#eeeeee" stroke-width="1" stroke-dasharray="5 4"/>
<line x1="1443.20" y1="764.42" x2="2057.50" y2="764.42" stroke="#eeeeee" stroke-width="1" stroke-dasharray="5 4"/>
<line x1="1443.20" y1="756.10" x2="2057.50" y2="756.10" stroke="#eeeeee" stroke-width="1" stroke-dasharray="5 4"/>
<line x1="1443.20" y1="749.65" x2="2057.50" y2="749.65" stroke="#eeeeee" stroke-width="1" stroke-dasharray="5 4"/>
<line x1="1443.20" y1="744.38" x2="2057.50" y2="744.38" stroke="#eeeeee" stroke-width="1" stroke-dasharray="5 4"/>
<line x1="1443.20" y1="739.92" x2="2057.50" y2="739.92" stroke="#eeeeee" stroke-width="1" stroke-dasharray="5 4"/>
<line x1="1443.20" y1="736.05" x2="2057.50" y2="736.05" stroke="#eeeeee" stroke-width="1" stroke-dasharray="5 4"/>
<line x1="1443.20" y1="732.65" x2="2057.50" y2="732.65" stroke="#eeeeee" stroke-width="1" stroke-dasharray="5 4"/>
<line x1="1443.20" y1="709.55" x2="2057.50" y2="709.55" stroke="#eeeeee" stroke-width="1" stroke-dasharray="5 4"/>
<line x1="1443.20" y1="697.82" x2="2057.50" y2="697.82" stroke="#eeeeee" stroke-width="1" stroke-dasharray="5 4"/>
<line x1="1443.20" y1="689.50" x2="2057.50" y2="689.50" stroke="#eeeeee" stroke-width="1" stroke-dasharray="5 4"/>
<line x1="1443.20" y1="683.05" x2="2057.50" y2="683.05" stroke="#eeeeee" stroke-width="1" stroke-dasharray="5 4"/>
<line x1="1443.20" y1="677.78" x2="2057.50" y2="677.78" stroke="#eeeeee" stroke-width="1" stroke-dasharray="5 4"/>
<line x1="1443.20" y1="673.32" x2="2057.50" y2="673.32" stroke="#eeeeee" stroke-width="1" stroke-dasharray="5 4"/>
<line x1="1443.20" y1="669.45" x2="2057.50" y2="669.45" stroke="#eeeeee" stroke-width="1" stroke-dasharray="5 4"/>
<line x1="1443.20" y1="666.05" x2="2057.50" y2="666.05" stroke="#eeeeee" stroke-width="1" stroke-dasharray="5 4"/>
<line x1="1443.20" y1="642.95" x2="2057.50" y2="642.95" stroke="#eeeeee" stroke-width="1" stroke-dasharray="5 4"/>
<line x1="1443.20" y1="631.22" x2="2057.50" y2="631.22" stroke="#eeeeee" stroke-width="1" stroke-dasharray="5 4"/>
<line x1="1443.20" y1="622.90" x2="2057.50" y2="622.90" stroke="#eeeeee" stroke-width="1" stroke-dasharray="5 4"/>
<line x1="1443.20" y1="616.45" x2="2057.50" y2="616.45" stroke="#eeeeee" stroke-width="1" stroke-dasharray="5 4"/>
<line x1="1443.20" y1="611.18" x2="2057.50" y2="611.18" stroke="#eeeeee" stroke-width="1" stroke-dasharray="5 4"/>
<line x1="1443.20" y1="606.72" x2="2057.50" y2="606.72" stroke="#eeeeee" stroke-width="1" stroke-dasharray="5 4"/>
<line x1="1443.20" y1="602.85" x2="2057.50" y2="602.85" stroke="#eeeeee" stroke-width="1" stroke-dasharray="5 4"/>
<line x1="1443.20" y1="599.45" x2="2057.50" y2="599.45" stroke="#eeeeee" stroke-width="1" stroke-dasharray="5 4"/>
<line x1="1443.20" y1="1062.60" x2="2057.50" y2="1062.60" stroke="#eeeeee" stroke-width="1" stroke-dasharray="5 4"/>
<line x1="1443.20" y1="929.40" x2="2057.50" y2="929.40" stroke="#eeeeee" stroke-width="1" stroke-dasharray="5 4"/>
<line x1="1443.20" y1="796.20" x2="2057.50" y2="796.20" stroke="#eeeeee" stroke-width="1" stroke-dasharray="5 4"/>
<line x1="1443.20" y1="663.00" x2="2057.50" y2="663.00" stroke="#eeeeee" stroke-width="1" stroke-dasharray="5 4"/>
<line x1="1443.20" y1="996.00" x2="2057.50" y2="996.00" stroke="#e2e2e2" stroke-width="1"/>
<line x1="1443.20" y1="862.80" x2="2057.50" y2="862.80" stroke="#e2e2e2" stroke-width="1"/>
<line x1="1443.20" y1="729.60" x2="2057.50" y2="729.60" stroke="#e2e2e2" stroke-width="1"/>
<line x1="161.10" y1="1131.00" x2="167.60" y2="1131.00" stroke="#505050" stroke-width="1.2"/>
<line x1="776.20" y1="1131.00" x2="769.70" y2="1131.00" stroke="#505050" stroke-width="1.2"/>
<line x1="161.10" y1="1110.89" x2="164.60" y2="1110.89" stroke="#505050" stroke-width="1.1"/>
<line x1="776.20" y1="1110.89" x2="772.70" y2="1110.89" stroke="#505050" stroke-width="1.1"/>
<line x1="161.10" y1="1099.13" x2="164.60" y2="1099.13" stroke="#505050" stroke-width="1.1"/>
<line x1="776.20" y1="1099.13" x2="772.70" y2="1099.13" stroke="#505050" stroke-width="1.1"/>
<line x1="161.10" y1="1090.79" x2="164.60" y2="1090.79" stroke="#505050" stroke-width="1.1"/>
<line x1="776.20" y1="1090.79" x2="772.70" y2="1090.79" stroke="#505050" stroke-width="1.1"/>
<line x1="161.10" y1="1084.32" x2="164.60" y2="1084.32" stroke="#505050" stroke-width="1.1"/>
<line x1="776.20" y1="1084.32" x2="772.70" y2="1084.32" stroke="#505050" stroke-width="1.1"/>
<line x1="161.10" y1="1079.03" x2="164.60" y2="1079.03" stroke="#505050" stroke-width="1.1"/>
<line x1="776.20" y1="1079.03" x2="772.70" y2="1079.03" stroke="#505050" stroke-width="1.1"/>
<line x1="161.10" y1="1074.56" x2="164.60" y2="1074.56" stroke="#505050" stroke-width="1.1"/>
<line x1="776.20" y1="1074.56" x2="772.70" y2="1074.56" stroke="#505050" stroke-width="1.1"/>
<line x1="161.10" y1="1070.68" x2="164.60" y2="1070.68" stroke="#505050" stroke-width="1.1"/>
<line x1="776.20" y1="1070.68" x2="772.70" y2="1070.68" stroke="#505050" stroke-width="1.1"/>
<line x1="161.10" y1="1067.27" x2="164.60" y2="1067.27" stroke="#505050" stroke-width="1.1"/>
<line x1="776.20" y1="1067.27" x2="772.70" y2="1067.27" stroke="#505050" stroke-width="1.1"/>
<line x1="161.10" y1="1064.21" x2="164.60" y2="1064.21" stroke="#505050" stroke-width="1.1"/>
<line x1="776.20" y1="1064.21" x2="772.70" y2="1064.21" stroke="#505050" stroke-width="1.1"/>
<line x1="161.10" y1="1044.11" x2="164.60" y2="1044.11" stroke="#505050" stroke-width="1.1"/>
<line x1="776.20" y1="1044.11" x2="772.70" y2="1044.11" stroke="#505050" stroke-width="1.1"/>
<line x1="161.10" y1="1032.35" x2="164.60" y2="1032.35" stroke="#505050" stroke-width="1.1"/>
<line x1="776.20" y1="1032.35" x2="772.70" y2="1032.35" stroke="#505050" stroke-width="1.1"/>
<line x1="161.10" y1="1024.00" x2="164.60" y2="1024.00" stroke="#505050" stroke-width="1.1"/>
<line x1="776.20" y1="1024.00" x2="772.70" y2="1024.00" stroke="#505050" stroke-width="1.1"/>
<line x1="161.10" y1="1017.53" x2="164.60" y2="1017.53" stroke="#505050" stroke-width="1.1"/>
<line x1="776.20" y1="1017.53" x2="772.70" y2="1017.53" stroke="#505050" stroke-width="1.1"/>
<line x1="161.10" y1="1012.24" x2="164.60" y2="1012.24" stroke="#505050" stroke-width="1.1"/>
<line x1="776.20" y1="1012.24" x2="772.70" y2="1012.24" stroke="#505050" stroke-width="1.1"/>
<line x1="161.10" y1="1007.77" x2="164.60" y2="1007.77" stroke="#505050" stroke-width="1.1"/>
<line x1="776.20" y1="1007.77" x2="772.70" y2="1007.77" stroke="#505050" stroke-width="1.1"/>
<line x1="161.10" y1="1003.90" x2="164.60" y2="1003.90" stroke="#505050" stroke-width="1.1"/>
<line x1="776.20" y1="1003.90" x2="772.70" y2="1003.90" stroke="#505050" stroke-width="1.1"/>
<line x1="161.10" y1="1000.48" x2="164.60" y2="1000.48" stroke="#505050" stroke-width="1.1"/>
<line x1="776.20" y1="1000.48" x2="772.70" y2="1000.48" stroke="#505050" stroke-width="1.1"/>
<line x1="161.10" y1="997.42" x2="167.60" y2="997.42" stroke="#505050" stroke-width="1.2"/>
<line x1="776.20" y1="997.42" x2="769.70" y2="997.42" stroke="#505050" stroke-width="1.2"/>
<line x1="161.10" y1="977.32" x2="164.60" y2="977.32" stroke="#505050" stroke-width="1.1"/>
<line x1="776.20" y1="977.32" x2="772.70" y2="977.32" stroke="#505050" stroke-width="1.1"/>
<line x1="161.10" y1="965.56" x2="164.60" y2="965.56" stroke="#505050" stroke-width="1.1"/>
<line x1="776.20" y1="965.56" x2="772.70" y2="965.56" stroke="#505050" stroke-width="1.1"/>
<line x1="161.10" y1="957.21" x2="164.60" y2="957.21" stroke="#505050" stroke-width="1.1"/>
<line x1="776.20" y1="957.21" x2="772.70" y2="957.21" stroke="#505050" stroke-width="1.1"/>
<line x1="161.10" y1="950.74" x2="164.60" y2="950.74" stroke="#505050" stroke-width="1.1"/>
<line x1="776.20" y1="950.74" x2="772.70" y2="950.74" stroke="#505050" stroke-width="1.1"/>
<line x1="161.10" y1="945.45" x2="164.60" y2="945.45" stroke="#505050" stroke-width="1.1"/>
<line x1="776.20" y1="945.45" x2="772.70" y2="945.45" stroke="#505050" stroke-width="1.1"/>
<line x1="161.10" y1="940.98" x2="164.60" y2="940.98" stroke="#505050" stroke-width="1.1"/>
<line x1="776.20" y1="940.98" x2="772.70" y2="940.98" stroke="#505050" stroke-width="1.1"/>
<line x1="161.10" y1="937.11" x2="164.60" y2="937.11" stroke="#505050" stroke-width="1.1"/>
<line x1="776.20" y1="937.11" x2="772.70" y2="937.11" stroke="#505050" stroke-width="1.1"/>
<line x1="161.10" y1="933.69" x2="164.60" y2="933.69" stroke="#505050" stroke-width="1.1"/>
<line x1="776.20" y1="933.69" x2="772.70" y2="933.69" stroke="#505050" stroke-width="1.1"/>
<line x1="161.10" y1="930.64" x2="164.60" y2="930.64" stroke="#505050" stroke-width="1.1"/>
<line x1="776.20" y1="930.64" x2="772.70" y2="930.64" stroke="#505050" stroke-width="1.1"/>
<line x1="161.10" y1="910.53" x2="164.60" y2="910.53" stroke="#505050" stroke-width="1.1"/>
<line x1="776.20" y1="910.53" x2="772.70" y2="910.53" stroke="#505050" stroke-width="1.1"/>
<line x1="161.10" y1="898.77" x2="164.60" y2="898.77" stroke="#505050" stroke-width="1.1"/>
<line x1="776.20" y1="898.77" x2="772.70" y2="898.77" stroke="#505050" stroke-width="1.1"/>
<line x1="161.10" y1="890.43" x2="164.60" y2="890.43" stroke="#505050" stroke-width="1.1"/>
<line x1="776.20" y1="890.43" x2="772.70" y2="890.43" stroke="#505050" stroke-width="1.1"/>
<line x1="161.10" y1="883.96" x2="164.60" y2="883.96" stroke="#505050" stroke-width="1.1"/>
<line x1="776.20" y1="883.96" x2="772.70" y2="883.96" stroke="#505050" stroke-width="1.1"/>
<line x1="161.10" y1="878.67" x2="164.60" y2="878.67" stroke="#505050" stroke-width="1.1"/>
<line x1="776.20" y1="878.67" x2="772.70" y2="878.67" stroke="#505050" stroke-width="1.1"/>
<line x1="161.10" y1="874.20" x2="164.60" y2="874.20" stroke="#505050" stroke-width="1.1"/>
<line x1="776.20" y1="874.20" x2="772.70" y2="874.20" stroke="#505050" stroke-width="1.1"/>
<line x1="161.10" y1="870.32" x2="164.60" y2="870.32" stroke="#505050" stroke-width="1.1"/>
<line x1="776.20" y1="870.32" x2="772.70" y2="870.32" stroke="#505050" stroke-width="1.1"/>
<line x1="161.10" y1="866.91" x2="164.60" y2="866.91" stroke="#505050" stroke-width="1.1"/>
<line x1="776.20" y1="866.91" x2="772.70" y2="866.91" stroke="#505050" stroke-width="1.1"/>
<line x1="161.10" y1="863.85" x2="167.60" y2="863.85" stroke="#505050" stroke-width="1.2"/>
<line x1="776.20" y1="863.85" x2="769.70" y2="863.85" stroke="#505050" stroke-width="1.2"/>
<line x1="161.10" y1="843.74" x2="164.60" y2="843.74" stroke="#505050" stroke-width="1.1"/>
<line x1="776.20" y1="843.74" x2="772.70" y2="843.74" stroke="#505050" stroke-width="1.1"/>
<line x1="161.10" y1="831.98" x2="164.60" y2="831.98" stroke="#505050" stroke-width="1.1"/>
<line x1="776.20" y1="831.98" x2="772.70" y2="831.98" stroke="#505050" stroke-width="1.1"/>
<line x1="161.10" y1="823.64" x2="164.60" y2="823.64" stroke="#505050" stroke-width="1.1"/>
<line x1="776.20" y1="823.64" x2="772.70" y2="823.64" stroke="#505050" stroke-width="1.1"/>
<line x1="161.10" y1="817.17" x2="164.60" y2="817.17" stroke="#505050" stroke-width="1.1"/>
<line x1="776.20" y1="817.17" x2="772.70" y2="817.17" stroke="#505050" stroke-width="1.1"/>
<line x1="161.10" y1="811.88" x2="164.60" y2="811.88" stroke="#505050" stroke-width="1.1"/>
<line x1="776.20" y1="811.88" x2="772.70" y2="811.88" stroke="#505050" stroke-width="1.1"/>
<line x1="161.10" y1="807.41" x2="164.60" y2="807.41" stroke="#505050" stroke-width="1.1"/>
<line x1="776.20" y1="807.41" x2="772.70" y2="807.41" stroke="#505050" stroke-width="1.1"/>
<line x1="161.10" y1="803.53" x2="164.60" y2="803.53" stroke="#505050" stroke-width="1.1"/>
<line x1="776.20" y1="803.53" x2="772.70" y2="803.53" stroke="#505050" stroke-width="1.1"/>
<line x1="161.10" y1="800.12" x2="164.60" y2="800.12" stroke="#505050" stroke-width="1.1"/>
<line x1="776.20" y1="800.12" x2="772.70" y2="800.12" stroke="#505050" stroke-width="1.1"/>
<line x1="161.10" y1="797.06" x2="164.60" y2="797.06" stroke="#505050" stroke-width="1.1"/>
<line x1="776.20" y1="797.06" x2="772.70" y2="797.06" stroke="#505050" stroke-width="1.1"/>
<line x1="161.10" y1="776.96" x2="164.60" y2="776.96" stroke="#505050" stroke-width="1.1"/>
<line x1="776.20" y1="776.96" x2="772.70" y2="776.96" stroke="#505050" stroke-width="1.1"/>
<line x1="161.10" y1="765.20" x2="164.60" y2="765.20" stroke="#505050" stroke-width="1.1"/>
<line x1="776.20" y1="765.20" x2="772.70" y2="765.20" stroke="#505050" stroke-width="1.1"/>
<line x1="161.10" y1="756.85" x2="164.60" y2="756.85" stroke="#505050" stroke-width="1.1"/>
<line x1="776.20" y1="756.85" x2="772.70" y2="756.85" stroke="#505050" stroke-width="1.1"/>
<line x1="161.10" y1="750.38" x2="164.60" y2="750.38" stroke="#505050" stroke-width="1.1"/>
<line x1="776.20" y1="750.38" x2="772.70" y2="750.38" stroke="#505050" stroke-width="1.1"/>
<line x1="161.10" y1="745.09" x2="164.60" y2="745.09" stroke="#505050" stroke-width="1.1"/>
<line x1="776.20" y1="745.09" x2="772.70" y2="745.09" stroke="#505050" stroke-width="1.1"/>
<line x1="161.10" y1="740.62" x2="164.60" y2="740.62" stroke="#505050" stroke-width="1.1"/>
<line x1="776.20" y1="740.62" x2="772.70" y2="740.62" stroke="#505050" stroke-width="1.1"/>
<line x1="161.10" y1="736.75" x2="164.60" y2="736.75" stroke="#505050" stroke-width="1.1"/>
<line x1="776.20" y1="736.75" x2="772.70" y2="736.75" stroke="#505050" stroke-width="1.1"/>
<line x1="161.10" y1="733.33" x2="164.60" y2="733.33" stroke="#505050" stroke-width="1.1"/>
<line x1="776.20" y1="733.33" x2="772.70" y2="733.33" stroke="#505050" stroke-width="1.1"/>
<line x1="161.10" y1="730.28" x2="167.60" y2="730.28" stroke="#505050" stroke-width="1.2"/>
<line x1="776.20" y1="730.28" x2="769.70" y2="730.28" stroke="#505050" stroke-width="1.2"/>
<line x1="161.10" y1="710.17" x2="164.60" y2="710.17" stroke="#505050" stroke-width="1.1"/>
<line x1="776.20" y1="710.17" x2="772.70" y2="710.17" stroke="#505050" stroke-width="1.1"/>
<line x1="161.10" y1="698.41" x2="164.60" y2="698.41" stroke="#505050" stroke-width="1.1"/>
<line x1="776.20" y1="698.41" x2="772.70" y2="698.41" stroke="#505050" stroke-width="1.1"/>
<line x1="161.10" y1="690.06" x2="164.60" y2="690.06" stroke="#505050" stroke-width="1.1"/>
<line x1="776.20" y1="690.06" x2="772.70" y2="690.06" stroke="#505050" stroke-width="1.1"/>
<line x1="161.10" y1="683.59" x2="164.60" y2="683.59" stroke="#505050" stroke-width="1.1"/>
<line x1="776.20" y1="683.59" x2="772.70" y2="683.59" stroke="#505050" stroke-width="1.1"/>
<line x1="161.10" y1="678.30" x2="164.60" y2="678.30" stroke="#505050" stroke-width="1.1"/>
<line x1="776.20" y1="678.30" x2="772.70" y2="678.30" stroke="#505050" stroke-width="1.1"/>
<line x1="161.10" y1="673.83" x2="164.60" y2="673.83" stroke="#505050" stroke-width="1.1"/>
<line x1="776.20" y1="673.83" x2="772.70" y2="673.83" stroke="#505050" stroke-width="1.1"/>
<line x1="161.10" y1="669.96" x2="164.60" y2="669.96" stroke="#505050" stroke-width="1.1"/>
<line x1="776.20" y1="669.96" x2="772.70" y2="669.96" stroke="#505050" stroke-width="1.1"/>
<line x1="161.10" y1="666.54" x2="164.60" y2="666.54" stroke="#505050" stroke-width="1.1"/>
<line x1="776.20" y1="666.54" x2="772.70" y2="666.54" stroke="#505050" stroke-width="1.1"/>
<line x1="161.10" y1="663.49" x2="164.60" y2="663.49" stroke="#505050" stroke-width="1.1"/>
<line x1="776.20" y1="663.49" x2="772.70" y2="663.49" stroke="#505050" stroke-width="1.1"/>
<line x1="161.10" y1="643.38" x2="164.60" y2="643.38" stroke="#505050" stroke-width="1.1"/>
<line x1="776.20" y1="643.38" x2="772.70" y2="643.38" stroke="#505050" stroke-width="1.1"/>
<line x1="161.10" y1="631.62" x2="164.60" y2="631.62" stroke="#505050" stroke-width="1.1"/>
<line x1="776.20" y1="631.62" x2="772.70" y2="631.62" stroke="#505050" stroke-width="1.1"/>
<line x1="161.10" y1="623.28" x2="164.60" y2="623.28" stroke="#505050" stroke-width="1.1"/>
<line x1="776.20" y1="623.28" x2="772.70" y2="623.28" stroke="#505050" stroke-width="1.1"/>
<line x1="161.10" y1="616.81" x2="164.60" y2="616.81" stroke="#505050" stroke-width="1.1"/>
<line x1="776.20" y1="616.81" x2="772.70" y2="616.81" stroke="#505050" stroke-width="1.1"/>
<line x1="161.10" y1="611.52" x2="164.60" y2="611.52" stroke="#505050" stroke-width="1.1"/>
<line x1="776.20" y1="611.52" x2="772.70" y2="611.52" stroke="#505050" stroke-width="1.1"/>
<line x1="161.10" y1="607.05" x2="164.60" y2="607.05" stroke="#505050" stroke-width="1.1"/>
<line x1="776.20" y1="607.05" x2="772.70" y2="607.05" stroke="#505050" stroke-width="1.1"/>
<line x1="161.10" y1="603.17" x2="164.60" y2="603.17" stroke="#505050" stroke-width="1.1"/>
<line x1="776.20" y1="603.17" x2="772.70" y2="603.17" stroke="#505050" stroke-width="1.1"/>
<line x1="161.10" y1="599.76" x2="164.60" y2="599.76" stroke="#505050" stroke-width="1.1"/>
<line x1="776.20" y1="599.76" x2="772.70" y2="599.76" stroke="#505050" stroke-width="1.1"/>
<line x1="161.10" y1="596.70" x2="167.60" y2="596.70" stroke="#505050" stroke-width="1.2"/>
<line x1="776.20" y1="596.70" x2="769.70" y2="596.70" stroke="#505050" stroke-width="1.2"/>
<line x1="270.09" y1="1131.00" x2="270.09" y2="1127.50" stroke="#505050" stroke-width="1.1"/>
<line x1="270.09" y1="596.70" x2="270.09" y2="600.20" stroke="#505050" stroke-width="1.1"/>
<line x1="333.84" y1="1131.00" x2="333.84" y2="1127.50" stroke="#505050" stroke-width="1.1"/>
<line x1="333.84" y1="596.70" x2="333.84" y2="600.20" stroke="#505050" stroke-width="1.1"/>
<line x1="379.07" y1="1131.00" x2="379.07" y2="1127.50" stroke="#505050" stroke-width="1.1"/>
<line x1="379.07" y1="596.70" x2="379.07" y2="600.20" stroke="#505050" stroke-width="1.1"/>
<line x1="414.16" y1="1131.00" x2="414.16" y2="1127.50" stroke="#505050" stroke-width="1.1"/>
<line x1="414.16" y1="596.70" x2="414.16" y2="600.20" stroke="#505050" stroke-width="1.1"/>
<line x1="442.82" y1="1131.00" x2="442.82" y2="1127.50" stroke="#505050" stroke-width="1.1"/>
<line x1="442.82" y1="596.70" x2="442.82" y2="600.20" stroke="#505050" stroke-width="1.1"/>
<line x1="467.06" y1="1131.00" x2="467.06" y2="1127.50" stroke="#505050" stroke-width="1.1"/>
<line x1="467.06" y1="596.70" x2="467.06" y2="600.20" stroke="#505050" stroke-width="1.1"/>
<line x1="488.06" y1="1131.00" x2="488.06" y2="1127.50" stroke="#505050" stroke-width="1.1"/>
<line x1="488.06" y1="596.70" x2="488.06" y2="600.20" stroke="#505050" stroke-width="1.1"/>
<line x1="506.58" y1="1131.00" x2="506.58" y2="1127.50" stroke="#505050" stroke-width="1.1"/>
<line x1="506.58" y1="596.70" x2="506.58" y2="600.20" stroke="#505050" stroke-width="1.1"/>
<line x1="523.14" y1="1131.00" x2="523.14" y2="1124.50" stroke="#505050" stroke-width="1.1"/>
<line x1="523.14" y1="596.70" x2="523.14" y2="603.20" stroke="#505050" stroke-width="1.1"/>
<line x1="632.13" y1="1131.00" x2="632.13" y2="1127.50" stroke="#505050" stroke-width="1.1"/>
<line x1="632.13" y1="596.70" x2="632.13" y2="600.20" stroke="#505050" stroke-width="1.1"/>
<line x1="695.88" y1="1131.00" x2="695.88" y2="1127.50" stroke="#505050" stroke-width="1.1"/>
<line x1="695.88" y1="596.70" x2="695.88" y2="600.20" stroke="#505050" stroke-width="1.1"/>
<line x1="741.11" y1="1131.00" x2="741.11" y2="1127.50" stroke="#505050" stroke-width="1.1"/>
<line x1="741.11" y1="596.70" x2="741.11" y2="600.20" stroke="#505050" stroke-width="1.1"/>
<line x1="161.0" y1="596.5" x2="777.0" y2="596.5" stroke="#777777" stroke-width="1.1"/>
<line x1="161.0" y1="1131.5" x2="777.0" y2="1131.5" stroke="#959595" stroke-width="1.1"/>
<line x1="161.5" y1="596.5" x2="161.5" y2="1131.5" stroke="#e8e8e8" stroke-width="1.1"/>
<line x1="776.5" y1="596.5" x2="776.5" y2="1131.5" stroke="#555555" stroke-width="1.1"/>
<line x1="803.70" y1="1128.40" x2="810.20" y2="1128.40" stroke="#505050" stroke-width="1.2"/>
<line x1="1415.40" y1="1128.40" x2="1408.90" y2="1128.40" stroke="#505050" stroke-width="1.2"/>
<line x1="803.70" y1="1108.42" x2="807.20" y2="1108.42" stroke="#505050" stroke-width="1.1"/>
<line x1="1415.40" y1="1108.42" x2="1411.90" y2="1108.42" stroke="#505050" stroke-width="1.1"/>
<line x1="803.70" y1="1096.73" x2="807.20" y2="1096.73" stroke="#505050" stroke-width="1.1"/>
<line x1="1415.40" y1="1096.73" x2="1411.90" y2="1096.73" stroke="#505050" stroke-width="1.1"/>
<line x1="803.70" y1="1088.44" x2="807.20" y2="1088.44" stroke="#505050" stroke-width="1.1"/>
<line x1="1415.40" y1="1088.44" x2="1411.90" y2="1088.44" stroke="#505050" stroke-width="1.1"/>
<line x1="803.70" y1="1082.01" x2="807.20" y2="1082.01" stroke="#505050" stroke-width="1.1"/>
<line x1="1415.40" y1="1082.01" x2="1411.90" y2="1082.01" stroke="#505050" stroke-width="1.1"/>
<line x1="803.70" y1="1076.75" x2="807.20" y2="1076.75" stroke="#505050" stroke-width="1.1"/>
<line x1="1415.40" y1="1076.75" x2="1411.90" y2="1076.75" stroke="#505050" stroke-width="1.1"/>
<line x1="803.70" y1="1072.31" x2="807.20" y2="1072.31" stroke="#505050" stroke-width="1.1"/>
<line x1="1415.40" y1="1072.31" x2="1411.90" y2="1072.31" stroke="#505050" stroke-width="1.1"/>
<line x1="803.70" y1="1068.46" x2="807.20" y2="1068.46" stroke="#505050" stroke-width="1.1"/>
<line x1="1415.40" y1="1068.46" x2="1411.90" y2="1068.46" stroke="#505050" stroke-width="1.1"/>
<line x1="803.70" y1="1065.06" x2="807.20" y2="1065.06" stroke="#505050" stroke-width="1.1"/>
<line x1="1415.40" y1="1065.06" x2="1411.90" y2="1065.06" stroke="#505050" stroke-width="1.1"/>
<line x1="803.70" y1="1062.03" x2="807.20" y2="1062.03" stroke="#505050" stroke-width="1.1"/>
<line x1="1415.40" y1="1062.03" x2="1411.90" y2="1062.03" stroke="#505050" stroke-width="1.1"/>
<line x1="803.70" y1="1042.04" x2="807.20" y2="1042.04" stroke="#505050" stroke-width="1.1"/>
<line x1="1415.40" y1="1042.04" x2="1411.90" y2="1042.04" stroke="#505050" stroke-width="1.1"/>
<line x1="803.70" y1="1030.36" x2="807.20" y2="1030.36" stroke="#505050" stroke-width="1.1"/>
<line x1="1415.40" y1="1030.36" x2="1411.90" y2="1030.36" stroke="#505050" stroke-width="1.1"/>
<line x1="803.70" y1="1022.06" x2="807.20" y2="1022.06" stroke="#505050" stroke-width="1.1"/>
<line x1="1415.40" y1="1022.06" x2="1411.90" y2="1022.06" stroke="#505050" stroke-width="1.1"/>
<line x1="803.70" y1="1015.63" x2="807.20" y2="1015.63" stroke="#505050" stroke-width="1.1"/>
<line x1="1415.40" y1="1015.63" x2="1411.90" y2="1015.63" stroke="#505050" stroke-width="1.1"/>
<line x1="803.70" y1="1010.38" x2="807.20" y2="1010.38" stroke="#505050" stroke-width="1.1"/>
<line x1="1415.40" y1="1010.38" x2="1411.90" y2="1010.38" stroke="#505050" stroke-width="1.1"/>
<line x1="803.70" y1="1005.93" x2="807.20" y2="1005.93" stroke="#505050" stroke-width="1.1"/>
<line x1="1415.40" y1="1005.93" x2="1411.90" y2="1005.93" stroke="#505050" stroke-width="1.1"/>
<line x1="803.70" y1="1002.08" x2="807.20" y2="1002.08" stroke="#505050" stroke-width="1.1"/>
<line x1="1415.40" y1="1002.08" x2="1411.90" y2="1002.08" stroke="#505050" stroke-width="1.1"/>
<line x1="803.70" y1="998.69" x2="807.20" y2="998.69" stroke="#505050" stroke-width="1.1"/>
<line x1="1415.40" y1="998.69" x2="1411.90" y2="998.69" stroke="#505050" stroke-width="1.1"/>
<line x1="803.70" y1="995.65" x2="810.20" y2="995.65" stroke="#505050" stroke-width="1.2"/>
<line x1="1415.40" y1="995.65" x2="1408.90" y2="995.65" stroke="#505050" stroke-width="1.2"/>
<line x1="803.70" y1="975.67" x2="807.20" y2="975.67" stroke="#505050" stroke-width="1.1"/>
<line x1="1415.40" y1="975.67" x2="1411.90" y2="975.67" stroke="#505050" stroke-width="1.1"/>
<line x1="803.70" y1="963.98" x2="807.20" y2="963.98" stroke="#505050" stroke-width="1.1"/>
<line x1="1415.40" y1="963.98" x2="1411.90" y2="963.98" stroke="#505050" stroke-width="1.1"/>
<line x1="803.70" y1="955.69" x2="807.20" y2="955.69" stroke="#505050" stroke-width="1.1"/>
<line x1="1415.40" y1="955.69" x2="1411.90" y2="955.69" stroke="#505050" stroke-width="1.1"/>
<line x1="803.70" y1="949.26" x2="807.20" y2="949.26" stroke="#505050" stroke-width="1.1"/>
<line x1="1415.40" y1="949.26" x2="1411.90" y2="949.26" stroke="#505050" stroke-width="1.1"/>
<line x1="803.70" y1="944.00" x2="807.20" y2="944.00" stroke="#505050" stroke-width="1.1"/>
<line x1="1415.40" y1="944.00" x2="1411.90" y2="944.00" stroke="#505050" stroke-width="1.1"/>
<line x1="803.70" y1="939.56" x2="807.20" y2="939.56" stroke="#505050" stroke-width="1.1"/>
<line x1="1415.40" y1="939.56" x2="1411.90" y2="939.56" stroke="#505050" stroke-width="1.1"/>
<line x1="803.70" y1="935.71" x2="807.20" y2="935.71" stroke="#505050" stroke-width="1.1"/>
<line x1="1415.40" y1="935.71" x2="1411.90" y2="935.71" stroke="#505050" stroke-width="1.1"/>
<line x1="803.70" y1="932.31" x2="807.20" y2="932.31" stroke="#505050" stroke-width="1.1"/>
<line x1="1415.40" y1="932.31" x2="1411.90" y2="932.31" stroke="#505050" stroke-width="1.1"/>
<line x1="803.70" y1="929.28" x2="807.20" y2="929.28" stroke="#505050" stroke-width="1.1"/>
<line x1="1415.40" y1="929.28" x2="1411.90" y2="929.28" stroke="#505050" stroke-width="1.1"/>
<line x1="803.70" y1="909.29" x2="807.20" y2="909.29" stroke="#505050" stroke-width="1.1"/>
<line x1="1415.40" y1="909.29" x2="1411.90" y2="909.29" stroke="#505050" stroke-width="1.1"/>
<line x1="803.70" y1="897.61" x2="807.20" y2="897.61" stroke="#505050" stroke-width="1.1"/>
<line x1="1415.40" y1="897.61" x2="1411.90" y2="897.61" stroke="#505050" stroke-width="1.1"/>
<line x1="803.70" y1="889.31" x2="807.20" y2="889.31" stroke="#505050" stroke-width="1.1"/>
<line x1="1415.40" y1="889.31" x2="1411.90" y2="889.31" stroke="#505050" stroke-width="1.1"/>
<line x1="803.70" y1="882.88" x2="807.20" y2="882.88" stroke="#505050" stroke-width="1.1"/>
<line x1="1415.40" y1="882.88" x2="1411.90" y2="882.88" stroke="#505050" stroke-width="1.1"/>
<line x1="803.70" y1="877.63" x2="807.20" y2="877.63" stroke="#505050" stroke-width="1.1"/>
<line x1="1415.40" y1="877.63" x2="1411.90" y2="877.63" stroke="#505050" stroke-width="1.1"/>
<line x1="803.70" y1="873.18" x2="807.20" y2="873.18" stroke="#505050" stroke-width="1.1"/>
<line x1="1415.40" y1="873.18" x2="1411.90" y2="873.18" stroke="#505050" stroke-width="1.1"/>
<line x1="803.70" y1="869.33" x2="807.20" y2="869.33" stroke="#505050" stroke-width="1.1"/>
<line x1="1415.40" y1="869.33" x2="1411.90" y2="869.33" stroke="#505050" stroke-width="1.1"/>
<line x1="803.70" y1="865.94" x2="807.20" y2="865.94" stroke="#505050" stroke-width="1.1"/>
<line x1="1415.40" y1="865.94" x2="1411.90" y2="865.94" stroke="#505050" stroke-width="1.1"/>
<line x1="803.70" y1="862.90" x2="810.20" y2="862.90" stroke="#505050" stroke-width="1.2"/>
<line x1="1415.40" y1="862.90" x2="1408.90" y2="862.90" stroke="#505050" stroke-width="1.2"/>
<line x1="803.70" y1="842.92" x2="807.20" y2="842.92" stroke="#505050" stroke-width="1.1"/>
<line x1="1415.40" y1="842.92" x2="1411.90" y2="842.92" stroke="#505050" stroke-width="1.1"/>
<line x1="803.70" y1="831.23" x2="807.20" y2="831.23" stroke="#505050" stroke-width="1.1"/>
<line x1="1415.40" y1="831.23" x2="1411.90" y2="831.23" stroke="#505050" stroke-width="1.1"/>
<line x1="803.70" y1="822.94" x2="807.20" y2="822.94" stroke="#505050" stroke-width="1.1"/>
<line x1="1415.40" y1="822.94" x2="1411.90" y2="822.94" stroke="#505050" stroke-width="1.1"/>
<line x1="803.70" y1="816.51" x2="807.20" y2="816.51" stroke="#505050" stroke-width="1.1"/>
<line x1="1415.40" y1="816.51" x2="1411.90" y2="816.51" stroke="#505050" stroke-width="1.1"/>
<line x1="803.70" y1="811.25" x2="807.20" y2="811.25" stroke="#505050" stroke-width="1.1"/>
<line x1="1415.40" y1="811.25" x2="1411.90" y2="811.25" stroke="#505050" stroke-width="1.1"/>
<line x1="803.70" y1="806.81" x2="807.20" y2="806.81" stroke="#505050" stroke-width="1.1"/>
<line x1="1415.40" y1="806.81" x2="1411.90" y2="806.81" stroke="#505050" stroke-width="1.1"/>
<line x1="803.70" y1="802.96" x2="807.20" y2="802.96" stroke="#505050" stroke-width="1.1"/>
<line x1="1415.40" y1="802.96" x2="1411.90" y2="802.96" stroke="#505050" stroke-width="1.1"/>
<line x1="803.70" y1="799.56" x2="807.20" y2="799.56" stroke="#505050" stroke-width="1.1"/>
<line x1="1415.40" y1="799.56" x2="1411.90" y2="799.56" stroke="#505050" stroke-width="1.1"/>
<line x1="803.70" y1="796.53" x2="807.20" y2="796.53" stroke="#505050" stroke-width="1.1"/>
<line x1="1415.40" y1="796.53" x2="1411.90" y2="796.53" stroke="#505050" stroke-width="1.1"/>
<line x1="803.70" y1="776.54" x2="807.20" y2="776.54" stroke="#505050" stroke-width="1.1"/>
<line x1="1415.40" y1="776.54" x2="1411.90" y2="776.54" stroke="#505050" stroke-width="1.1"/>
<line x1="803.70" y1="764.86" x2="807.20" y2="764.86" stroke="#505050" stroke-width="1.1"/>
<line x1="1415.40" y1="764.86" x2="1411.90" y2="764.86" stroke="#505050" stroke-width="1.1"/>
<line x1="803.70" y1="756.56" x2="807.20" y2="756.56" stroke="#505050" stroke-width="1.1"/>
<line x1="1415.40" y1="756.56" x2="1411.90" y2="756.56" stroke="#505050" stroke-width="1.1"/>
<line x1="803.70" y1="750.13" x2="807.20" y2="750.13" stroke="#505050" stroke-width="1.1"/>
<line x1="1415.40" y1="750.13" x2="1411.90" y2="750.13" stroke="#505050" stroke-width="1.1"/>
<line x1="803.70" y1="744.88" x2="807.20" y2="744.88" stroke="#505050" stroke-width="1.1"/>
<line x1="1415.40" y1="744.88" x2="1411.90" y2="744.88" stroke="#505050" stroke-width="1.1"/>
<line x1="803.70" y1="740.43" x2="807.20" y2="740.43" stroke="#505050" stroke-width="1.1"/>
<line x1="1415.40" y1="740.43" x2="1411.90" y2="740.43" stroke="#505050" stroke-width="1.1"/>
<line x1="803.70" y1="736.58" x2="807.20" y2="736.58" stroke="#505050" stroke-width="1.1"/>
<line x1="1415.40" y1="736.58" x2="1411.90" y2="736.58" stroke="#505050" stroke-width="1.1"/>
<line x1="803.70" y1="733.19" x2="807.20" y2="733.19" stroke="#505050" stroke-width="1.1"/>
<line x1="1415.40" y1="733.19" x2="1411.90" y2="733.19" stroke="#505050" stroke-width="1.1"/>
<line x1="803.70" y1="730.15" x2="810.20" y2="730.15" stroke="#505050" stroke-width="1.2"/>
<line x1="1415.40" y1="730.15" x2="1408.90" y2="730.15" stroke="#505050" stroke-width="1.2"/>
<line x1="803.70" y1="710.17" x2="807.20" y2="710.17" stroke="#505050" stroke-width="1.1"/>
<line x1="1415.40" y1="710.17" x2="1411.90" y2="710.17" stroke="#505050" stroke-width="1.1"/>
<line x1="803.70" y1="698.48" x2="807.20" y2="698.48" stroke="#505050" stroke-width="1.1"/>
<line x1="1415.40" y1="698.48" x2="1411.90" y2="698.48" stroke="#505050" stroke-width="1.1"/>
<line x1="803.70" y1="690.19" x2="807.20" y2="690.19" stroke="#505050" stroke-width="1.1"/>
<line x1="1415.40" y1="690.19" x2="1411.90" y2="690.19" stroke="#505050" stroke-width="1.1"/>
<line x1="803.70" y1="683.76" x2="807.20" y2="683.76" stroke="#505050" stroke-width="1.1"/>
<line x1="1415.40" y1="683.76" x2="1411.90" y2="683.76" stroke="#505050" stroke-width="1.1"/>
<line x1="803.70" y1="678.50" x2="807.20" y2="678.50" stroke="#505050" stroke-width="1.1"/>
<line x1="1415.40" y1="678.50" x2="1411.90" y2="678.50" stroke="#505050" stroke-width="1.1"/>
<line x1="803.70" y1="674.06" x2="807.20" y2="674.06" stroke="#505050" stroke-width="1.1"/>
<line x1="1415.40" y1="674.06" x2="1411.90" y2="674.06" stroke="#505050" stroke-width="1.1"/>
<line x1="803.70" y1="670.21" x2="807.20" y2="670.21" stroke="#505050" stroke-width="1.1"/>
<line x1="1415.40" y1="670.21" x2="1411.90" y2="670.21" stroke="#505050" stroke-width="1.1"/>
<line x1="803.70" y1="666.81" x2="807.20" y2="666.81" stroke="#505050" stroke-width="1.1"/>
<line x1="1415.40" y1="666.81" x2="1411.90" y2="666.81" stroke="#505050" stroke-width="1.1"/>
<line x1="803.70" y1="663.77" x2="807.20" y2="663.77" stroke="#505050" stroke-width="1.1"/>
<line x1="1415.40" y1="663.77" x2="1411.90" y2="663.77" stroke="#505050" stroke-width="1.1"/>
<line x1="803.70" y1="643.79" x2="807.20" y2="643.79" stroke="#505050" stroke-width="1.1"/>
<line x1="1415.40" y1="643.79" x2="1411.90" y2="643.79" stroke="#505050" stroke-width="1.1"/>
<line x1="803.70" y1="632.11" x2="807.20" y2="632.11" stroke="#505050" stroke-width="1.1"/>
<line x1="1415.40" y1="632.11" x2="1411.90" y2="632.11" stroke="#505050" stroke-width="1.1"/>
<line x1="803.70" y1="623.81" x2="807.20" y2="623.81" stroke="#505050" stroke-width="1.1"/>
<line x1="1415.40" y1="623.81" x2="1411.90" y2="623.81" stroke="#505050" stroke-width="1.1"/>
<line x1="803.70" y1="617.38" x2="807.20" y2="617.38" stroke="#505050" stroke-width="1.1"/>
<line x1="1415.40" y1="617.38" x2="1411.90" y2="617.38" stroke="#505050" stroke-width="1.1"/>
<line x1="803.70" y1="612.13" x2="807.20" y2="612.13" stroke="#505050" stroke-width="1.1"/>
<line x1="1415.40" y1="612.13" x2="1411.90" y2="612.13" stroke="#505050" stroke-width="1.1"/>
<line x1="803.70" y1="607.68" x2="807.20" y2="607.68" stroke="#505050" stroke-width="1.1"/>
<line x1="1415.40" y1="607.68" x2="1411.90" y2="607.68" stroke="#505050" stroke-width="1.1"/>
<line x1="803.70" y1="603.83" x2="807.20" y2="603.83" stroke="#505050" stroke-width="1.1"/>
<line x1="1415.40" y1="603.83" x2="1411.90" y2="603.83" stroke="#505050" stroke-width="1.1"/>
<line x1="803.70" y1="600.44" x2="807.20" y2="600.44" stroke="#505050" stroke-width="1.1"/>
<line x1="1415.40" y1="600.44" x2="1411.90" y2="600.44" stroke="#505050" stroke-width="1.1"/>
<line x1="803.70" y1="597.40" x2="810.20" y2="597.40" stroke="#505050" stroke-width="1.2"/>
<line x1="1415.40" y1="597.40" x2="1408.90" y2="597.40" stroke="#505050" stroke-width="1.2"/>
<line x1="912.08" y1="1128.40" x2="912.08" y2="1124.90" stroke="#505050" stroke-width="1.1"/>
<line x1="912.08" y1="597.40" x2="912.08" y2="600.90" stroke="#505050" stroke-width="1.1"/>
<line x1="975.48" y1="1128.40" x2="975.48" y2="1124.90" stroke="#505050" stroke-width="1.1"/>
<line x1="975.48" y1="597.40" x2="975.48" y2="600.90" stroke="#505050" stroke-width="1.1"/>
<line x1="1020.47" y1="1128.40" x2="1020.47" y2="1124.90" stroke="#505050" stroke-width="1.1"/>
<line x1="1020.47" y1="597.40" x2="1020.47" y2="600.90" stroke="#505050" stroke-width="1.1"/>
<line x1="1055.36" y1="1128.40" x2="1055.36" y2="1124.90" stroke="#505050" stroke-width="1.1"/>
<line x1="1055.36" y1="597.40" x2="1055.36" y2="600.90" stroke="#505050" stroke-width="1.1"/>
<line x1="1083.87" y1="1128.40" x2="1083.87" y2="1124.90" stroke="#505050" stroke-width="1.1"/>
<line x1="1083.87" y1="597.40" x2="1083.87" y2="600.90" stroke="#505050" stroke-width="1.1"/>
<line x1="1107.97" y1="1128.40" x2="1107.97" y2="1124.90" stroke="#505050" stroke-width="1.1"/>
<line x1="1107.97" y1="597.40" x2="1107.97" y2="600.90" stroke="#505050" stroke-width="1.1"/>
<line x1="1128.85" y1="1128.40" x2="1128.85" y2="1124.90" stroke="#505050" stroke-width="1.1"/>
<line x1="1128.85" y1="597.40" x2="1128.85" y2="600.90" stroke="#505050" stroke-width="1.1"/>
<line x1="1147.27" y1="1128.40" x2="1147.27" y2="1124.90" stroke="#505050" stroke-width="1.1"/>
<line x1="1147.27" y1="597.40" x2="1147.27" y2="600.90" stroke="#505050" stroke-width="1.1"/>
<line x1="1163.74" y1="1128.40" x2="1163.74" y2="1121.90" stroke="#505050" stroke-width="1.1"/>
<line x1="1163.74" y1="597.40" x2="1163.74" y2="603.90" stroke="#505050" stroke-width="1.1"/>
<line x1="1272.13" y1="1128.40" x2="1272.13" y2="1124.90" stroke="#505050" stroke-width="1.1"/>
<line x1="1272.13" y1="597.40" x2="1272.13" y2="600.90" stroke="#505050" stroke-width="1.1"/>
<line x1="1335.53" y1="1128.40" x2="1335.53" y2="1124.90" stroke="#505050" stroke-width="1.1"/>
<line x1="1335.53" y1="597.40" x2="1335.53" y2="600.90" stroke="#505050" stroke-width="1.1"/>
<line x1="1380.51" y1="1128.40" x2="1380.51" y2="1124.90" stroke="#505050" stroke-width="1.1"/>
<line x1="1380.51" y1="597.40" x2="1380.51" y2="600.90" stroke="#505050" stroke-width="1.1"/>
<line x1="803.0" y1="597.5" x2="1416.0" y2="597.5" stroke="#3c3c3c" stroke-width="1.1"/>
<line x1="803.0" y1="1128.5" x2="1416.0" y2="1128.5" stroke="#999999" stroke-width="1.1"/>
<line x1="803.5" y1="597.5" x2="803.5" y2="1128.5" stroke="#bdbdbd" stroke-width="1.1"/>
<line x1="1415.5" y1="597.5" x2="1415.5" y2="1128.5" stroke="#666666" stroke-width="1.1"/>
<line x1="1443.20" y1="1129.20" x2="1449.70" y2="1129.20" stroke="#505050" stroke-width="1.2"/>
<line x1="2057.50" y1="1129.20" x2="2051.00" y2="1129.20" stroke="#505050" stroke-width="1.2"/>
<line x1="1443.20" y1="1109.15" x2="1446.70" y2="1109.15" stroke="#505050" stroke-width="1.1"/>
<line x1="2057.50" y1="1109.15" x2="2054.00" y2="1109.15" stroke="#505050" stroke-width="1.1"/>
<line x1="1443.20" y1="1097.42" x2="1446.70" y2="1097.42" stroke="#505050" stroke-width="1.1"/>
<line x1="2057.50" y1="1097.42" x2="2054.00" y2="1097.42" stroke="#505050" stroke-width="1.1"/>
<line x1="1443.20" y1="1089.10" x2="1446.70" y2="1089.10" stroke="#505050" stroke-width="1.1"/>
<line x1="2057.50" y1="1089.10" x2="2054.00" y2="1089.10" stroke="#505050" stroke-width="1.1"/>
<line x1="1443.20" y1="1082.65" x2="1446.70" y2="1082.65" stroke="#505050" stroke-width="1.1"/>
<line x1="2057.50" y1="1082.65" x2="2054.00" y2="1082.65" stroke="#505050" stroke-width="1.1"/>
<line x1="1443.20" y1="1077.38" x2="1446.70" y2="1077.38" stroke="#505050" stroke-width="1.1"/>
<line x1="2057.50" y1="1077.38" x2="2054.00" y2="1077.38" stroke="#505050" stroke-width="1.1"/>
<line x1="1443.20" y1="1072.92" x2="1446.70" y2="1072.92" stroke="#505050" stroke-width="1.1"/>
<line x1="2057.50" y1="1072.92" x2="2054.00" y2="1072.92" stroke="#505050" stroke-width="1.1"/>
<line x1="1443.20" y1="1069.05" x2="1446.70" y2="1069.05" stroke="#505050" stroke-width="1.1"/>
<line x1="2057.50" y1="1069.05" x2="2054.00" y2="1069.05" stroke="#505050" stroke-width="1.1"/>
<line x1="1443.20" y1="1065.65" x2="1446.70" y2="1065.65" stroke="#505050" stroke-width="1.1"/>
<line x1="2057.50" y1="1065.65" x2="2054.00" y2="1065.65" stroke="#505050" stroke-width="1.1"/>
<line x1="1443.20" y1="1062.60" x2="1446.70" y2="1062.60" stroke="#505050" stroke-width="1.1"/>
<line x1="2057.50" y1="1062.60" x2="2054.00" y2="1062.60" stroke="#505050" stroke-width="1.1"/>
<line x1="1443.20" y1="1042.55" x2="1446.70" y2="1042.55" stroke="#505050" stroke-width="1.1"/>
<line x1="2057.50" y1="1042.55" x2="2054.00" y2="1042.55" stroke="#505050" stroke-width="1.1"/>
<line x1="1443.20" y1="1030.82" x2="1446.70" y2="1030.82" stroke="#505050" stroke-width="1.1"/>
<line x1="2057.50" y1="1030.82" x2="2054.00" y2="1030.82" stroke="#505050" stroke-width="1.1"/>
<line x1="1443.20" y1="1022.50" x2="1446.70" y2="1022.50" stroke="#505050" stroke-width="1.1"/>
<line x1="2057.50" y1="1022.50" x2="2054.00" y2="1022.50" stroke="#505050" stroke-width="1.1"/>
<line x1="1443.20" y1="1016.05" x2="1446.70" y2="1016.05" stroke="#505050" stroke-width="1.1"/>
<line x1="2057.50" y1="1016.05" x2="2054.00" y2="1016.05" stroke="#505050" stroke-width="1.1"/>
<line x1="1443.20" y1="1010.78" x2="1446.70" y2="1010.78" stroke="#505050" stroke-width="1.1"/>
<line x1="2057.50" y1="1010.78" x2="2054.00" y2="1010.78" stroke="#505050" stroke-width="1.1"/>
<line x1="1443.20" y1="1006.32" x2="1446.70" y2="1006.32" stroke="#505050" stroke-width="1.1"/>
<line x1="2057.50" y1="1006.32" x2="2054.00" y2="1006.32" stroke="#505050" stroke-width="1.1"/>
<line x1="1443.20" y1="1002.45" x2="1446.70" y2="1002.45" stroke="#505050" stroke-width="1.1"/>
<line x1="2057.50" y1="1002.45" x2="2054.00" y2="1002.45" stroke="#505050" stroke-width="1.1"/>
<line x1="1443.20" y1="999.05" x2="1446.70" y2="999.05" stroke="#505050" stroke-width="1.1"/>
<line x1="2057.50" y1="999.05" x2="2054.00" y2="999.05" stroke="#505050" stroke-width="1.1"/>
<line x1="1443.20" y1="996.00" x2="1449.70" y2="996.00" stroke="#505050" stroke-width="1.2"/>
<line x1="2057.50" y1="996.00" x2="2051.00" y2="996.00" stroke="#505050" stroke-width="1.2"/>
<line x1="1443.20" y1="975.95" x2="1446.70" y2="975.95" stroke="#505050" stroke-width="1.1"/>
<line x1="2057.50" y1="975.95" x2="2054.00" y2="975.95" stroke="#505050" stroke-width="1.1"/>
<line x1="1443.20" y1="964.22" x2="1446.70" y2="964.22" stroke="#505050" stroke-width="1.1"/>
<line x1="2057.50" y1="964.22" x2="2054.00" y2="964.22" stroke="#505050" stroke-width="1.1"/>
<line x1="1443.20" y1="955.90" x2="1446.70" y2="955.90" stroke="#505050" stroke-width="1.1"/>
<line x1="2057.50" y1="955.90" x2="2054.00" y2="955.90" stroke="#505050" stroke-width="1.1"/>
<line x1="1443.20" y1="949.45" x2="1446.70" y2="949.45" stroke="#505050" stroke-width="1.1"/>
<line x1="2057.50" y1="949.45" x2="2054.00" y2="949.45" stroke="#505050" stroke-width="1.1"/>
<line x1="1443.20" y1="944.18" x2="1446.70" y2="944.18" stroke="#505050" stroke-width="1.1"/>
<line x1="2057.50" y1="944.18" x2="2054.00" y2="944.18" stroke="#505050" stroke-width="1.1"/>
<line x1="1443.20" y1="939.72" x2="1446.70" y2="939.72" stroke="#505050" stroke-width="1.1"/>
<line x1="2057.50" y1="939.72" x2="2054.00" y2="939.72" stroke="#505050" stroke-width="1.1"/>
<line x1="1443.20" y1="935.85" x2="1446.70" y2="935.85" stroke="#505050" stroke-width="1.1"/>
<line x1="2057.50" y1="935.85" x2="2054.00" y2="935.85" stroke="#505050" stroke-width="1.1"/>
<line x1="1443.20" y1="932.45" x2="1446.70" y2="932.45" stroke="#505050" stroke-width="1.1"/>
<line x1="2057.50" y1="932.45" x2="2054.00" y2="932.45" stroke="#505050" stroke-width="1.1"/>
<line x1="1443.20" y1="929.40" x2="1446.70" y2="929.40" stroke="#505050" stroke-width="1.1"/>
<line x1="2057.50" y1="929.40" x2="2054.00" y2="929.40" stroke="#505050" stroke-width="1.1"/>
<line x1="1443.20" y1="909.35" x2="1446.70" y2="909.35" stroke="#505050" stroke-width="1.1"/>
<line x1="2057.50" y1="909.35" x2="2054.00" y2="909.35" stroke="#505050" stroke-width="1.1"/>
<line x1="1443.20" y1="897.62" x2="1446.70" y2="897.62" stroke="#505050" stroke-width="1.1"/>
<line x1="2057.50" y1="897.62" x2="2054.00" y2="897.62" stroke="#505050" stroke-width="1.1"/>
<line x1="1443.20" y1="889.30" x2="1446.70" y2="889.30" stroke="#505050" stroke-width="1.1"/>
<line x1="2057.50" y1="889.30" x2="2054.00" y2="889.30" stroke="#505050" stroke-width="1.1"/>
<line x1="1443.20" y1="882.85" x2="1446.70" y2="882.85" stroke="#505050" stroke-width="1.1"/>
<line x1="2057.50" y1="882.85" x2="2054.00" y2="882.85" stroke="#505050" stroke-width="1.1"/>
<line x1="1443.20" y1="877.58" x2="1446.70" y2="877.58" stroke="#505050" stroke-width="1.1"/>
<line x1="2057.50" y1="877.58" x2="2054.00" y2="877.58" stroke="#505050" stroke-width="1.1"/>
<line x1="1443.20" y1="873.12" x2="1446.70" y2="873.12" stroke="#505050" stroke-width="1.1"/>
<line x1="2057.50" y1="873.12" x2="2054.00" y2="873.12" stroke="#505050" stroke-width="1.1"/>
<line x1="1443.20" y1="869.25" x2="1446.70" y2="869.25" stroke="#505050" stroke-width="1.1"/>
<line x1="2057.50" y1="869.25" x2="2054.00" y2="869.25" stroke="#505050" stroke-width="1.1"/>
<line x1="1443.20" y1="865.85" x2="1446.70" y2="865.85" stroke="#505050" stroke-width="1.1"/>
<line x1="2057.50" y1="865.85" x2="2054.00" y2="865.85" stroke="#505050" stroke-width="1.1"/>
<line x1="1443.20" y1="862.80" x2="1449.70" y2="862.80" stroke="#505050" stroke-width="1.2"/>
<line x1="2057.50" y1="862.80" x2="2051.00" y2="862.80" stroke="#505050" stroke-width="1.2"/>
<line x1="1443.20" y1="842.75" x2="1446.70" y2="842.75" stroke="#505050" stroke-width="1.1"/>
<line x1="2057.50" y1="842.75" x2="2054.00" y2="842.75" stroke="#505050" stroke-width="1.1"/>
<line x1="1443.20" y1="831.02" x2="1446.70" y2="831.02" stroke="#505050" stroke-width="1.1"/>
<line x1="2057.50" y1="831.02" x2="2054.00" y2="831.02" stroke="#505050" stroke-width="1.1"/>
<line x1="1443.20" y1="822.70" x2="1446.70" y2="822.70" stroke="#505050" stroke-width="1.1"/>
<line x1="2057.50" y1="822.70" x2="2054.00" y2="822.70" stroke="#505050" stroke-width="1.1"/>
<line x1="1443.20" y1="816.25" x2="1446.70" y2="816.25" stroke="#505050" stroke-width="1.1"/>
<line x1="2057.50" y1="816.25" x2="2054.00" y2="816.25" stroke="#505050" stroke-width="1.1"/>
<line x1="1443.20" y1="810.98" x2="1446.70" y2="810.98" stroke="#505050" stroke-width="1.1"/>
<line x1="2057.50" y1="810.98" x2="2054.00" y2="810.98" stroke="#505050" stroke-width="1.1"/>
<line x1="1443.20" y1="806.52" x2="1446.70" y2="806.52" stroke="#505050" stroke-width="1.1"/>
<line x1="2057.50" y1="806.52" x2="2054.00" y2="806.52" stroke="#505050" stroke-width="1.1"/>
<line x1="1443.20" y1="802.65" x2="1446.70" y2="802.65" stroke="#505050" stroke-width="1.1"/>
<line x1="2057.50" y1="802.65" x2="2054.00" y2="802.65" stroke="#505050" stroke-width="1.1"/>
<line x1="1443.20" y1="799.25" x2="1446.70" y2="799.25" stroke="#505050" stroke-width="1.1"/>
<line x1="2057.50" y1="799.25" x2="2054.00" y2="799.25" stroke="#505050" stroke-width="1.1"/>
<line x1="1443.20" y1="796.20" x2="1446.70" y2="796.20" stroke="#505050" stroke-width="1.1"/>
<line x1="2057.50" y1="796.20" x2="2054.00" y2="796.20" stroke="#505050" stroke-width="1.1"/>
<line x1="1443.20" y1="776.15" x2="1446.70" y2="776.15" stroke="#505050" stroke-width="1.1"/>
<line x1="2057.50" y1="776.15" x2="2054.00" y2="776.15" stroke="#505050" stroke-width="1.1"/>
<line x1="1443.20" y1="764.42" x2="1446.70" y2="764.42" stroke="#505050" stroke-width="1.1"/>
<line x1="2057.50" y1="764.42" x2="2054.00" y2="764.42" stroke="#505050" stroke-width="1.1"/>
<line x1="1443.20" y1="756.10" x2="1446.70" y2="756.10" stroke="#505050" stroke-width="1.1"/>
<line x1="2057.50" y1="756.10" x2="2054.00" y2="756.10" stroke="#505050" stroke-width="1.1"/>
<line x1="1443.20" y1="749.65" x2="1446.70" y2="749.65" stroke="#505050" stroke-width="1.1"/>
<line x1="2057.50" y1="749.65" x2="2054.00" y2="749.65" stroke="#505050" stroke-width="1.1"/>
<line x1="1443.20" y1="744.38" x2="1446.70" y2="744.38" stroke="#505050" stroke-width="1.1"/>
<line x1="2057.50" y1="744.38" x2="2054.00" y2="744.38" stroke="#505050" stroke-width="1.1"/>
<line x1="1443.20" y1="739.92" x2="1446.70" y2="739.92" stroke="#505050" stroke-width="1.1"/>
<line x1="2057.50" y1="739.92" x2="2054.00" y2="739.92" stroke="#505050" stroke-width="1.1"/>
<line x1="1443.20" y1="736.05" x2="1446.70" y2="736.05" stroke="#505050" stroke-width="1.1"/>
<line x1="2057.50" y1="736.05" x2="2054.00" y2="736.05" stroke="#505050" stroke-width="1.1"/>
<line x1="1443.20" y1="732.65" x2="1446.70" y2="732.65" stroke="#505050" stroke-width="1.1"/>
<line x1="2057.50" y1="732.65" x2="2054.00" y2="732.65" stroke="#505050" stroke-width="1.1"/>
<line x1="1443.20" y1="729.60" x2="1449.70" y2="729.60" stroke="#505050" stroke-width="1.2"/>
<line x1="2057.50" y1="729.60" x2="2051.00" y2="729.60" stroke="#505050" stroke-width="1.2"/>
<line x1="1443.20" y1="709.55" x2="1446.70" y2="709.55" stroke="#505050" stroke-width="1.1"/>
<line x1="2057.50" y1="709.55" x2="2054.00" y2="709.55" stroke="#505050" stroke-width="1.1"/>
<line x1="1443.20" y1="697.82" x2="1446.70" y2="697.82" stroke="#505050" stroke-width="1.1"/>
<line x1="2057.50" y1="697.82" x2="2054.00" y2="697.82" stroke="#505050" stroke-width="1.1"/>
<line x1="1443.20" y1="689.50" x2="1446.70" y2="689.50" stroke="#505050" stroke-width="1.1"/>
<line x1="2057.50" y1="689.50" x2="2054.00" y2="689.50" stroke="#505050" stroke-width="1.1"/>
<line x1="1443.20" y1="683.05" x2="1446.70" y2="683.05" stroke="#505050" stroke-width="1.1"/>
<line x1="2057.50" y1="683.05" x2="2054.00" y2="683.05" stroke="#505050" stroke-width="1.1"/>
<line x1="1443.20" y1="677.78" x2="1446.70" y2="677.78" stroke="#505050" stroke-width="1.1"/>
<line x1="2057.50" y1="677.78" x2="2054.00" y2="677.78" stroke="#505050" stroke-width="1.1"/>
<line x1="1443.20" y1="673.32" x2="1446.70" y2="673.32" stroke="#505050" stroke-width="1.1"/>
<line x1="2057.50" y1="673.32" x2="2054.00" y2="673.32" stroke="#505050" stroke-width="1.1"/>
<line x1="1443.20" y1="669.45" x2="1446.70" y2="669.45" stroke="#505050" stroke-width="1.1"/>
<line x1="2057.50" y1="669.45" x2="2054.00" y2="669.45" stroke="#505050" stroke-width="1.1"/>
<line x1="1443.20" y1="666.05" x2="1446.70" y2="666.05" stroke="#505050" stroke-width="1.1"/>
<line x1="2057.50" y1="666.05" x2="2054.00" y2="666.05" stroke="#505050" stroke-width="1.1"/>
<line x1="1443.20" y1="663.00" x2="1446.70" y2="663.00" stroke="#505050" stroke-width="1.1"/>
<line x1="2057.50" y1="663.00" x2="2054.00" y2="663.00" stroke="#505050" stroke-width="1.1"/>
<line x1="1443.20" y1="642.95" x2="1446.70" y2="642.95" stroke="#505050" stroke-width="1.1"/>
<line x1="2057.50" y1="642.95" x2="2054.00" y2="642.95" stroke="#505050" stroke-width="1.1"/>
<line x1="1443.20" y1="631.22" x2="1446.70" y2="631.22" stroke="#505050" stroke-width="1.1"/>
<line x1="2057.50" y1="631.22" x2="2054.00" y2="631.22" stroke="#505050" stroke-width="1.1"/>
<line x1="1443.20" y1="622.90" x2="1446.70" y2="622.90" stroke="#505050" stroke-width="1.1"/>
<line x1="2057.50" y1="622.90" x2="2054.00" y2="622.90" stroke="#505050" stroke-width="1.1"/>
<line x1="1443.20" y1="616.45" x2="1446.70" y2="616.45" stroke="#505050" stroke-width="1.1"/>
<line x1="2057.50" y1="616.45" x2="2054.00" y2="616.45" stroke="#505050" stroke-width="1.1"/>
<line x1="1443.20" y1="611.18" x2="1446.70" y2="611.18" stroke="#505050" stroke-width="1.1"/>
<line x1="2057.50" y1="611.18" x2="2054.00" y2="611.18" stroke="#505050" stroke-width="1.1"/>
<line x1="1443.20" y1="606.72" x2="1446.70" y2="606.72" stroke="#505050" stroke-width="1.1"/>
<line x1="2057.50" y1="606.72" x2="2054.00" y2="606.72" stroke="#505050" stroke-width="1.1"/>
<line x1="1443.20" y1="602.85" x2="1446.70" y2="602.85" stroke="#505050" stroke-width="1.1"/>
<line x1="2057.50" y1="602.85" x2="2054.00" y2="602.85" stroke="#505050" stroke-width="1.1"/>
<line x1="1443.20" y1="599.45" x2="1446.70" y2="599.45" stroke="#505050" stroke-width="1.1"/>
<line x1="2057.50" y1="599.45" x2="2054.00" y2="599.45" stroke="#505050" stroke-width="1.1"/>
<line x1="1443.20" y1="596.40" x2="1449.70" y2="596.40" stroke="#505050" stroke-width="1.2"/>
<line x1="2057.50" y1="596.40" x2="2051.00" y2="596.40" stroke="#505050" stroke-width="1.2"/>
<line x1="1552.04" y1="1129.20" x2="1552.04" y2="1125.70" stroke="#505050" stroke-width="1.1"/>
<line x1="1552.04" y1="596.40" x2="1552.04" y2="599.90" stroke="#505050" stroke-width="1.1"/>
<line x1="1615.71" y1="1129.20" x2="1615.71" y2="1125.70" stroke="#505050" stroke-width="1.1"/>
<line x1="1615.71" y1="596.40" x2="1615.71" y2="599.90" stroke="#505050" stroke-width="1.1"/>
<line x1="1660.89" y1="1129.20" x2="1660.89" y2="1125.70" stroke="#505050" stroke-width="1.1"/>
<line x1="1660.89" y1="596.40" x2="1660.89" y2="599.90" stroke="#505050" stroke-width="1.1"/>
<line x1="1695.93" y1="1129.20" x2="1695.93" y2="1125.70" stroke="#505050" stroke-width="1.1"/>
<line x1="1695.93" y1="596.40" x2="1695.93" y2="599.90" stroke="#505050" stroke-width="1.1"/>
<line x1="1724.56" y1="1129.20" x2="1724.56" y2="1125.70" stroke="#505050" stroke-width="1.1"/>
<line x1="1724.56" y1="596.40" x2="1724.56" y2="599.90" stroke="#505050" stroke-width="1.1"/>
<line x1="1748.76" y1="1129.20" x2="1748.76" y2="1125.70" stroke="#505050" stroke-width="1.1"/>
<line x1="1748.76" y1="596.40" x2="1748.76" y2="599.90" stroke="#505050" stroke-width="1.1"/>
<line x1="1769.73" y1="1129.20" x2="1769.73" y2="1125.70" stroke="#505050" stroke-width="1.1"/>
<line x1="1769.73" y1="596.40" x2="1769.73" y2="599.90" stroke="#505050" stroke-width="1.1"/>
<line x1="1788.23" y1="1129.20" x2="1788.23" y2="1125.70" stroke="#505050" stroke-width="1.1"/>
<line x1="1788.23" y1="596.40" x2="1788.23" y2="599.90" stroke="#505050" stroke-width="1.1"/>
<line x1="1804.77" y1="1129.20" x2="1804.77" y2="1122.70" stroke="#505050" stroke-width="1.1"/>
<line x1="1804.77" y1="596.40" x2="1804.77" y2="602.90" stroke="#505050" stroke-width="1.1"/>
<line x1="1913.62" y1="1129.20" x2="1913.62" y2="1125.70" stroke="#505050" stroke-width="1.1"/>
<line x1="1913.62" y1="596.40" x2="1913.62" y2="599.90" stroke="#505050" stroke-width="1.1"/>
<line x1="1977.29" y1="1129.20" x2="1977.29" y2="1125.70" stroke="#505050" stroke-width="1.1"/>
<line x1="1977.29" y1="596.40" x2="1977.29" y2="599.90" stroke="#505050" stroke-width="1.1"/>
<line x1="2022.46" y1="1129.20" x2="2022.46" y2="1125.70" stroke="#505050" stroke-width="1.1"/>
<line x1="2022.46" y1="596.40" x2="2022.46" y2="599.90" stroke="#505050" stroke-width="1.1"/>
<line x1="1443.0" y1="596.5" x2="2058.0" y2="596.5" stroke="#858585" stroke-width="1.1"/>
<line x1="1443.0" y1="1129.5" x2="2058.0" y2="1129.5" stroke="#777777" stroke-width="1.1"/>
<line x1="1443.5" y1="596.5" x2="1443.5" y2="1129.5" stroke="#c8c8c8" stroke-width="1.1"/>
<line x1="2057.5" y1="596.5" x2="2057.5" y2="1129.5" stroke="#666666" stroke-width="1.1"/>
<line x1="161.10" y1="929.10" x2="776.20" y2="703.60" stroke="#6353d6" stroke-width="5.6"/>
<line x1="161.10" y1="923.00" x2="776.20" y2="695.90" stroke="#68aa4a" stroke-width="3.6"/>
<line x1="161.10" y1="917.10" x2="776.20" y2="690.40" stroke="#2e5d34" stroke-width="3.6"/>
<circle cx="161.10" cy="980.90" r="5.1" fill="#6353d6"/>
<circle cx="270.09" cy="969.80" r="5.1" fill="#6353d6"/>
<circle cx="414.16" cy="983.80" r="5.1" fill="#6353d6"/>
<circle cx="523.14" cy="843.30" r="5.1" fill="#6353d6"/>
<circle cx="597.04" cy="984.40" r="5.1" fill="#6353d6"/>
<circle cx="667.21" cy="790.00" r="5.1" fill="#6353d6"/>
<circle cx="720.12" cy="929.70" r="5.1" fill="#6353d6"/>
<circle cx="776.20" cy="798.60" r="5.1" fill="#6353d6"/>
<circle cx="161.10" cy="988.10" r="5.1" fill="#68aa4a"/>
<circle cx="270.09" cy="942.50" r="5.1" fill="#68aa4a"/>
<circle cx="414.16" cy="909.90" r="5.1" fill="#68aa4a"/>
<circle cx="523.14" cy="868.40" r="5.1" fill="#68aa4a"/>
<circle cx="597.04" cy="869.00" r="5.1" fill="#68aa4a"/>
<circle cx="667.21" cy="767.70" r="5.1" fill="#68aa4a"/>
<circle cx="720.12" cy="816.00" r="5.1" fill="#68aa4a"/>
<circle cx="776.20" cy="760.80" r="5.1" fill="#68aa4a"/>
<circle cx="161.10" cy="964.80" r="5.1" fill="#2e5d34"/>
<circle cx="270.09" cy="965.40" r="5.1" fill="#2e5d34"/>
<circle cx="414.16" cy="912.60" r="5.1" fill="#2e5d34"/>
<circle cx="523.14" cy="828.40" r="5.1" fill="#2e5d34"/>
<circle cx="597.04" cy="822.10" r="5.1" fill="#2e5d34"/>
<circle cx="667.21" cy="835.30" r="5.1" fill="#2e5d34"/>
<circle cx="720.12" cy="822.10" r="5.1" fill="#2e5d34"/>
<circle cx="776.20" cy="842.20" r="5.1" fill="#2e5d34"/>
<line x1="803.70" y1="912.90" x2="1415.40" y2="687.60" stroke="#6353d6" stroke-width="5.0"/>
<line x1="803.70" y1="915.00" x2="1415.40" y2="689.60" stroke="#8dc66e" stroke-width="4.4"/>
<line x1="803.70" y1="910.00" x2="1415.40" y2="685.40" stroke="#579f43" stroke-width="4.4"/>
<line x1="803.70" y1="906.60" x2="1415.40" y2="682.40" stroke="#2f6a38" stroke-width="4.4"/>
<line x1="803.70" y1="904.80" x2="1415.40" y2="680.90" stroke="#1e3c22" stroke-width="4.0"/>
<circle cx="803.70" cy="1000.50" r="5.1" fill="#6353d6"/>
<circle cx="912.08" cy="941.50" r="5.1" fill="#6353d6"/>
<circle cx="1055.36" cy="941.50" r="5.1" fill="#6353d6"/>
<circle cx="1163.74" cy="850.00" r="5.1" fill="#6353d6"/>
<circle cx="1237.23" cy="852.50" r="5.1" fill="#6353d6"/>
<circle cx="1307.02" cy="876.00" r="5.1" fill="#6353d6"/>
<circle cx="1359.63" cy="819.10" r="5.1" fill="#6353d6"/>
<circle cx="1415.40" cy="840.90" r="5.1" fill="#6353d6"/>
<circle cx="803.70" cy="956.90" r="5.1" fill="#8dc66e"/>
<circle cx="912.08" cy="933.80" r="5.1" fill="#8dc66e"/>
<circle cx="1055.36" cy="958.50" r="5.1" fill="#8dc66e"/>
<circle cx="1163.74" cy="811.30" r="5.1" fill="#8dc66e"/>
<circle cx="1237.23" cy="847.80" r="5.1" fill="#8dc66e"/>
<circle cx="1307.02" cy="907.70" r="5.1" fill="#8dc66e"/>
<circle cx="1359.63" cy="797.30" r="5.1" fill="#8dc66e"/>
<circle cx="1415.40" cy="809.10" r="5.1" fill="#8dc66e"/>
<circle cx="803.70" cy="1004.00" r="5.1" fill="#579f43"/>
<circle cx="912.08" cy="944.80" r="5.1" fill="#579f43"/>
<circle cx="1055.36" cy="868.80" r="5.1" fill="#579f43"/>
<circle cx="1163.74" cy="887.80" r="5.1" fill="#579f43"/>
<circle cx="1237.23" cy="811.90" r="5.1" fill="#579f43"/>
<circle cx="1307.02" cy="877.60" r="5.1" fill="#579f43"/>
<circle cx="1359.63" cy="848.30" r="5.1" fill="#579f43"/>
<circle cx="1415.40" cy="874.00" r="5.1" fill="#579f43"/>
<circle cx="803.70" cy="951.50" r="5.1" fill="#2f6a38"/>
<circle cx="912.08" cy="941.70" r="5.1" fill="#2f6a38"/>
<circle cx="1055.36" cy="972.40" r="5.1" fill="#2f6a38"/>
<circle cx="1163.74" cy="871.50" r="5.1" fill="#2f6a38"/>
<circle cx="1237.23" cy="769.90" r="5.1" fill="#2f6a38"/>
<circle cx="1307.02" cy="943.90" r="5.1" fill="#2f6a38"/>
<circle cx="1359.63" cy="800.30" r="5.1" fill="#2f6a38"/>
<circle cx="1415.40" cy="941.10" r="5.1" fill="#2f6a38"/>
<circle cx="803.70" cy="993.30" r="5.1" fill="#1e3c22"/>
<circle cx="912.08" cy="916.40" r="5.1" fill="#1e3c22"/>
<circle cx="1055.36" cy="931.90" r="5.1" fill="#1e3c22"/>
<circle cx="1163.74" cy="884.20" r="5.1" fill="#1e3c22"/>
<circle cx="1237.23" cy="892.00" r="5.1" fill="#1e3c22"/>
<circle cx="1307.02" cy="945.80" r="5.1" fill="#1e3c22"/>
<circle cx="1359.63" cy="786.50" r="5.1" fill="#1e3c22"/>
<circle cx="1415.40" cy="849.20" r="5.1" fill="#1e3c22"/>
<line x1="1443.20" y1="918.10" x2="2057.50" y2="696.90" stroke="#5a2d92" stroke-width="5.6"/>
<path d="M1443.20,781.60 C1461.33,778.40 1515.83,768.85 1552.00,762.40 C1588.17,755.95 1624.70,749.23 1660.20,742.90 C1695.70,736.57 1741.70,728.40 1765.00,724.40 C1788.30,720.40 1783.50,721.47 1800.00,718.90 C1816.50,716.33 1842.68,712.13 1864.00,709.00 C1885.32,705.87 1911.90,702.20 1927.90,700.10 C1943.90,698.00 1949.33,697.52 1960.00,696.40 C1970.67,695.28 1981.27,694.13 1991.90,693.40 C2002.53,692.67 2012.87,692.07 2023.80,692.00 C2034.73,691.93 2051.88,692.83 2057.50,693.00" fill="none" stroke="#428a3a" stroke-width="3.6"/>
<polyline points="1443.20,985.20 1552.04,964.20 1615.71,955.60 1660.89,954.60 1695.93,966.00 1724.56,1018.80 1748.76,943.40 1769.73,918.80 1788.23,903.18 1804.77,890.50 1819.74,878.89 1833.40,868.55 1845.97,859.48 1857.61,851.61 1868.44,844.69 1878.58,838.50 1888.10,832.92 1897.07,827.85 1905.56,823.17 1913.62,818.80 1921.28,814.75 1928.58,811.00 1935.56,807.44 1942.25,803.99 1948.66,800.60 1954.81,797.24 1960.74,793.96 1966.45,790.75 1971.96,787.63 1977.29,784.60 1982.43,781.66 1987.42,778.79 1992.25,775.99 1996.94,773.26 2001.49,770.60 2005.92,767.97 2010.22,765.37 2014.41,762.84 2018.48,760.44 2022.46,758.20 2026.34,756.09 2030.12,754.06 2033.82,752.10 2037.43,750.23 2040.96,748.43 2044.41,746.70 2047.78,745.05 2051.09,743.47 2054.33,741.95 2057.50,740.50" fill="none" stroke="#7391de" stroke-width="5.6" stroke-linejoin="round"/>
<circle cx="1443.20" cy="975.20" r="5.1" fill="#5a2d92"/>
<circle cx="1552.04" cy="1061.60" r="5.1" fill="#5a2d92"/>
<circle cx="1695.93" cy="880.60" r="5.1" fill="#5a2d92"/>
<circle cx="1804.77" cy="865.20" r="5.1" fill="#5a2d92"/>
<circle cx="1878.58" cy="971.70" r="5.1" fill="#5a2d92"/>
<circle cx="1948.66" cy="854.00" r="5.1" fill="#5a2d92"/>
<circle cx="2001.49" cy="846.40" r="5.1" fill="#5a2d92"/>
<circle cx="2057.50" cy="891.10" r="5.1" fill="#5a2d92"/>
<circle cx="1443.20" cy="1065.00" r="5.1" fill="#7391de"/>
<circle cx="1552.04" cy="1034.20" r="5.1" fill="#7391de"/>
<circle cx="1695.93" cy="942.50" r="5.1" fill="#7391de"/>
<circle cx="1804.77" cy="971.40" r="5.1" fill="#7391de"/>
<circle cx="1878.58" cy="915.50" r="5.1" fill="#7391de"/>
<circle cx="1948.66" cy="966.10" r="5.1" fill="#7391de"/>
<circle cx="2001.49" cy="978.10" r="5.1" fill="#7391de"/>
<circle cx="2057.50" cy="900.50" r="5.1" fill="#7391de"/>
<circle cx="1443.20" cy="922.00" r="5.1" fill="#428a3a"/>
<circle cx="1552.04" cy="862.00" r="5.1" fill="#428a3a"/>
<circle cx="1695.93" cy="910.20" r="5.1" fill="#428a3a"/>
<circle cx="1804.77" cy="858.60" r="5.1" fill="#428a3a"/>
<circle cx="1878.58" cy="800.70" r="5.1" fill="#428a3a"/>
<circle cx="1948.66" cy="862.00" r="5.1" fill="#428a3a"/>
<circle cx="2001.49" cy="796.40" r="5.1" fill="#428a3a"/>
<circle cx="2057.50" cy="852.20" r="5.1" fill="#428a3a"/>
<text transform="translate(133.51,20.30) scale(1.0000,1)" style="font-family:'Liberation Serif',serif;font-size:29.20px" fill="#000">0</text>
<text transform="translate(93.44,35.10) scale(1.0000,1)" style="font-family:'Liberation Serif',serif;font-size:39.70px" fill="#000">10</text>
<text transform="translate(134.01,127.30) scale(1.0000,1)" style="font-family:'Liberation Serif',serif;font-size:29.20px" fill="#000">2</text>
<text transform="translate(112.69,129.30) scale(1.3399,1)" style="font-family:'Liberation Serif',serif;font-size:27.11px" fill="#000">−</text>
<text transform="translate(72.41,142.10) scale(1.0000,1)" style="font-family:'Liberation Serif',serif;font-size:39.70px" fill="#000">10</text>
<text transform="translate(132.86,234.30) scale(1.0000,1)" style="font-family:'Liberation Serif',serif;font-size:29.20px" fill="#000">4</text>
<text transform="translate(110.82,236.30) scale(1.3399,1)" style="font-family:'Liberation Serif',serif;font-size:27.11px" fill="#000">−</text>
<text transform="translate(70.54,249.10) scale(1.0000,1)" style="font-family:'Liberation Serif',serif;font-size:39.70px" fill="#000">10</text>
<text transform="translate(133.27,341.30) scale(1.0000,1)" style="font-family:'Liberation Serif',serif;font-size:29.20px" fill="#000">6</text>
<text transform="translate(111.92,343.30) scale(1.3399,1)" style="font-family:'Liberation Serif',serif;font-size:27.11px" fill="#000">−</text>
<text transform="translate(71.64,356.10) scale(1.0000,1)" style="font-family:'Liberation Serif',serif;font-size:39.70px" fill="#000">10</text>
<text transform="translate(133.51,448.30) scale(1.0000,1)" style="font-family:'Liberation Serif',serif;font-size:29.20px" fill="#000">8</text>
<text transform="translate(112.02,450.30) scale(1.3399,1)" style="font-family:'Liberation Serif',serif;font-size:27.11px" fill="#000">−</text>
<text transform="translate(71.74,463.10) scale(1.0000,1)" style="font-family:'Liberation Serif',serif;font-size:39.70px" fill="#000">10</text>
<text transform="translate(118.91,555.30) scale(1.0000,1)" style="font-family:'Liberation Serif',serif;font-size:29.20px" fill="#000">10</text>
<text transform="translate(98.87,557.30) scale(1.3399,1)" style="font-family:'Liberation Serif',serif;font-size:27.11px" fill="#000">−</text>
<text transform="translate(58.59,570.10) scale(1.0000,1)" style="font-family:'Liberation Serif',serif;font-size:39.70px" fill="#000">10</text>
<text transform="translate(137.08,591.80) scale(1.0000,1)" style="font-family:'Liberation Serif',serif;font-size:26.80px" fill="#000">2</text>
<text transform="translate(99.95,605.40) scale(1.0000,1)" style="font-family:'Liberation Serif',serif;font-size:36.70px" fill="#000">10</text>
<text transform="translate(136.62,725.38) scale(1.0000,1)" style="font-family:'Liberation Serif',serif;font-size:26.80px" fill="#000">0</text>
<text transform="translate(99.34,738.98) scale(1.0000,1)" style="font-family:'Liberation Serif',serif;font-size:36.70px" fill="#000">10</text>
<text transform="translate(137.08,858.95) scale(1.0000,1)" style="font-family:'Liberation Serif',serif;font-size:26.80px" fill="#000">2</text>
<text transform="translate(117.77,861.95) scale(1.2527,1)" style="font-family:'Liberation Serif',serif;font-size:27.11px" fill="#000">−</text>
<text transform="translate(81.35,872.55) scale(1.0000,1)" style="font-family:'Liberation Serif',serif;font-size:36.70px" fill="#000">10</text>
<text transform="translate(136.02,992.52) scale(1.0000,1)" style="font-family:'Liberation Serif',serif;font-size:26.80px" fill="#000">4</text>
<text transform="translate(116.05,995.52) scale(1.2527,1)" style="font-family:'Liberation Serif',serif;font-size:27.11px" fill="#000">−</text>
<text transform="translate(79.64,1006.12) scale(1.0000,1)" style="font-family:'Liberation Serif',serif;font-size:36.70px" fill="#000">10</text>
<text transform="translate(136.40,1126.10) scale(1.0000,1)" style="font-family:'Liberation Serif',serif;font-size:26.80px" fill="#000">6</text>
<text transform="translate(117.06,1129.10) scale(1.2527,1)" style="font-family:'Liberation Serif',serif;font-size:27.11px" fill="#000">−</text>
<text transform="translate(80.65,1139.70) scale(1.0000,1)" style="font-family:'Liberation Serif',serif;font-size:36.70px" fill="#000">10</text>
<text transform="translate(134.76,1170.50) scale(1.0000,1)" style="font-family:'Liberation Serif',serif;font-size:36.70px" fill="#000">10</text>
<text transform="translate(171.84,1156.90) scale(1.0000,1)" style="font-family:'Liberation Serif',serif;font-size:26.80px" fill="#000">0</text>
<text transform="translate(497.76,1170.80) scale(1.0000,1)" style="font-family:'Liberation Serif',serif;font-size:36.70px" fill="#000">10</text>
<text transform="translate(533.51,1157.20) scale(1.0000,1)" style="font-family:'Liberation Serif',serif;font-size:26.80px" fill="#000">1</text>
<text transform="translate(777.36,1167.70) scale(1.0000,1)" style="font-family:'Liberation Serif',serif;font-size:36.70px" fill="#000">10</text>
<text transform="translate(814.44,1154.10) scale(1.0000,1)" style="font-family:'Liberation Serif',serif;font-size:26.80px" fill="#000">0</text>
<text transform="translate(1138.36,1168.20) scale(1.0000,1)" style="font-family:'Liberation Serif',serif;font-size:36.70px" fill="#000">10</text>
<text transform="translate(1174.11,1154.60) scale(1.0000,1)" style="font-family:'Liberation Serif',serif;font-size:26.80px" fill="#000">1</text>
<text transform="translate(1416.86,1169.20) scale(1.0000,1)" style="font-family:'Liberation Serif',serif;font-size:36.70px" fill="#000">10</text>
<text transform="translate(1453.94,1155.60) scale(1.0000,1)" style="font-family:'Liberation Serif',serif;font-size:26.80px" fill="#000">0</text>
<text transform="translate(1779.39,1169.20) scale(1.0000,1)" style="font-family:'Liberation Serif',serif;font-size:36.70px" fill="#000">10</text>
<text transform="translate(1815.14,1155.60) scale(1.0000,1)" style="font-family:'Liberation Serif',serif;font-size:26.80px" fill="#000">1</text>
<text transform="translate(313.67,1219.41) scale(1.0256,1)" style="font-family:'Liberation Serif',serif;font-size:40.31px" fill="#000">100</text>
<text transform="translate(388.68,1220.12) scale(0.9946,1)" style="font-family:'Liberation Serif',serif;font-size:44.41px" fill="#000">|</text>
<text transform="translate(410.06,1219.80) scale(1.1676,1)" style="font-family:'Liberation Serif',serif;font-size:43.63px" fill="#000">Δ</text>
<text transform="translate(445.04,1220.10) scale(1.0948,1)" style="font-family:'Liberation Serif',serif;font-style:italic;font-size:41.61px" fill="#000">μ</text>
<text transform="translate(469.70,1228.42) scale(0.9932,1)" style="font-family:'Liberation Serif',serif;font-size:59.80px" fill="#000">/</text>
<text transform="translate(489.55,1220.10) scale(1.1766,1)" style="font-family:'Liberation Serif',serif;font-style:italic;font-size:41.61px" fill="#000">μ</text>
<text transform="translate(512.19,1204.73) scale(1.0391,1)" style="font-family:'Liberation Serif',serif;font-size:28.16px" fill="#000">0</text>
<text transform="translate(512.19,1228.54) scale(1.0908,1)" style="font-family:'Liberation Serif',serif;font-size:26.82px" fill="#000">0</text>
<text transform="translate(542.18,1220.12) scale(0.9946,1)" style="font-family:'Liberation Serif',serif;font-size:44.41px" fill="#000">|</text>
<text transform="translate(567.60,1222.45) scale(0.7159,1)" style="font-family:'Liberation Serif',serif;font-size:48.93px" fill="#000">[</text>
<text transform="translate(578.75,1219.92) scale(0.8278,1)" style="font-family:'Liberation Serif',serif;font-size:44.23px" fill="#000">%</text>
<text transform="translate(608.50,1222.45) scale(0.6792,1)" style="font-family:'Liberation Serif',serif;font-size:48.93px" fill="#000">]</text>
<text transform="translate(955.77,1215.71) scale(1.0256,1)" style="font-family:'Liberation Serif',serif;font-size:40.31px" fill="#000">100</text>
<text transform="translate(1030.78,1216.42) scale(0.9946,1)" style="font-family:'Liberation Serif',serif;font-size:44.41px" fill="#000">|</text>
<text transform="translate(1052.16,1216.10) scale(1.1676,1)" style="font-family:'Liberation Serif',serif;font-size:43.63px" fill="#000">Δ</text>
<text transform="translate(1087.14,1216.40) scale(1.0948,1)" style="font-family:'Liberation Serif',serif;font-style:italic;font-size:41.61px" fill="#000">μ</text>
<text transform="translate(1111.80,1224.72) scale(0.9932,1)" style="font-family:'Liberation Serif',serif;font-size:59.80px" fill="#000">/</text>
<text transform="translate(1131.65,1216.40) scale(1.1766,1)" style="font-family:'Liberation Serif',serif;font-style:italic;font-size:41.61px" fill="#000">μ</text>
<text transform="translate(1154.29,1201.03) scale(1.0391,1)" style="font-family:'Liberation Serif',serif;font-size:28.16px" fill="#000">0</text>
<text transform="translate(1154.29,1224.84) scale(1.0908,1)" style="font-family:'Liberation Serif',serif;font-size:26.82px" fill="#000">0</text>
<text transform="translate(1184.28,1216.42) scale(0.9946,1)" style="font-family:'Liberation Serif',serif;font-size:44.41px" fill="#000">|</text>
<text transform="translate(1209.70,1218.75) scale(0.7159,1)" style="font-family:'Liberation Serif',serif;font-size:48.93px" fill="#000">[</text>
<text transform="translate(1220.85,1216.22) scale(0.8278,1)" style="font-family:'Liberation Serif',serif;font-size:44.23px" fill="#000">%</text>
<text transform="translate(1250.60,1218.75) scale(0.6792,1)" style="font-family:'Liberation Serif',serif;font-size:48.93px" fill="#000">]</text>
<text transform="translate(1595.77,1217.71) scale(1.0256,1)" style="font-family:'Liberation Serif',serif;font-size:40.31px" fill="#000">100</text>
<text transform="translate(1670.78,1218.42) scale(0.9946,1)" style="font-family:'Liberation Serif',serif;font-size:44.41px" fill="#000">|</text>
<text transform="translate(1692.16,1218.10) scale(1.1676,1)" style="font-family:'Liberation Serif',serif;font-size:43.63px" fill="#000">Δ</text>
<text transform="translate(1727.14,1218.40) scale(1.0948,1)" style="font-family:'Liberation Serif',serif;font-style:italic;font-size:41.61px" fill="#000">μ</text>
<text transform="translate(1751.80,1226.72) scale(0.9932,1)" style="font-family:'Liberation Serif',serif;font-size:59.80px" fill="#000">/</text>
<text transform="translate(1771.65,1218.40) scale(1.1766,1)" style="font-family:'Liberation Serif',serif;font-style:italic;font-size:41.61px" fill="#000">μ</text>
<text transform="translate(1794.29,1203.03) scale(1.0391,1)" style="font-family:'Liberation Serif',serif;font-size:28.16px" fill="#000">0</text>
<text transform="translate(1794.29,1226.84) scale(1.0908,1)" style="font-family:'Liberation Serif',serif;font-size:26.82px" fill="#000">0</text>
<text transform="translate(1824.28,1218.42) scale(0.9946,1)" style="font-family:'Liberation Serif',serif;font-size:44.41px" fill="#000">|</text>
<text transform="translate(1849.70,1220.75) scale(0.7159,1)" style="font-family:'Liberation Serif',serif;font-size:48.93px" fill="#000">[</text>
<text transform="translate(1860.85,1218.22) scale(0.8278,1)" style="font-family:'Liberation Serif',serif;font-size:44.23px" fill="#000">%</text>
<text transform="translate(1890.60,1220.75) scale(0.6792,1)" style="font-family:'Liberation Serif',serif;font-size:48.93px" fill="#000">]</text>
<g transform="translate(36.4,414.0) rotate(-90)"><text transform="translate(-1.72,0.51) scale(0.9091,1)" style="font-family:'Liberation Serif',serif;font-size:48.59px" fill="#000">|</text></g>
<g transform="translate(36.4,414.0) rotate(-90)"><text transform="translate(21.96,0.00) scale(1.1635,1)" style="font-family:'Liberation Serif',serif;font-size:48.32px" fill="#000">Δ</text></g>
<g transform="translate(36.4,414.0) rotate(-90)"><text transform="translate(56.97,0.30) scale(1.1763,1)" style="font-family:'Liberation Serif',serif;font-style:italic;font-size:45.11px" fill="#000">k</text></g>
<g transform="translate(36.4,414.0) rotate(-90)"><text transform="translate(82.57,11.60) scale(1.0373,1)" style="font-family:'Liberation Serif',serif;font-size:31.26px" fill="#000">2</text></g>
<g transform="translate(36.4,414.0) rotate(-90)"><text transform="translate(100.85,12.61) scale(0.8623,1)" style="font-family:'Liberation Serif',serif;font-size:35.04px" fill="#000">,</text></g>
<g transform="translate(36.4,414.0) rotate(-90)"><text transform="translate(107.38,11.30) scale(0.9615,1)" style="font-family:'Liberation Serif',serif;font-size:30.68px" fill="#000">0</text></g>
<g transform="translate(36.4,414.0) rotate(-90)"><text transform="translate(82.69,-16.90) scale(0.9490,1)" style="font-family:'Liberation Serif',serif;font-style:italic;font-size:38.63px" fill="#000">n</text></g>
<g transform="translate(36.4,414.0) rotate(-90)"><text transform="translate(102.85,-15.69) scale(0.8169,1)" style="font-family:'Liberation Serif',serif;font-size:36.99px" fill="#000">,</text></g>
<g transform="translate(36.4,414.0) rotate(-90)"><text transform="translate(120.55,-16.90) scale(0.6794,1)" style="font-family:'Liberation Serif',serif;font-style:italic;font-size:38.63px" fill="#000">m</text></g>
<g transform="translate(36.4,414.0) rotate(-90)"><text transform="translate(155.18,0.51) scale(0.9091,1)" style="font-family:'Liberation Serif',serif;font-size:48.59px" fill="#000">|</text></g>
<g transform="translate(36.4,414.0) rotate(-90)"><text transform="translate(181.60,10.35) scale(0.8696,1)" style="font-family:'Liberation Serif',serif;font-size:66.22px" fill="#000">/</text></g>
<g transform="translate(36.4,414.0) rotate(-90)"><text transform="translate(201.74,0.30) scale(0.9699,1)" style="font-family:'Liberation Serif',serif;font-style:italic;font-size:45.11px" fill="#000">k</text></g>
<g transform="translate(36.4,414.0) rotate(-90)"><text transform="translate(224.76,-15.76) scale(1.2799,1)" style="font-family:'Liberation Serif',serif;font-style:italic;font-size:30.38px" fill="#000">u</text></g>
<g transform="translate(36.4,414.0) rotate(-90)"><text transform="translate(225.03,11.50) scale(0.9080,1)" style="font-family:'Liberation Serif',serif;font-size:31.87px" fill="#000">2</text></g>
<g transform="translate(63.6,986.0) rotate(-90)"><text transform="translate(-1.20,0.01) scale(1.0432,1)" style="font-family:'Liberation Serif',serif;font-size:40.06px" fill="#000">Difference</text></g>
<g transform="translate(63.6,986.0) rotate(-90)"><text transform="translate(189.00,3.13) scale(0.6970,1)" style="font-family:'Liberation Serif',serif;font-size:48.33px" fill="#000">[</text></g>
<g transform="translate(63.6,986.0) rotate(-90)"><text transform="translate(198.23,0.92) scale(0.8454,1)" style="font-family:'Liberation Serif',serif;font-size:44.09px" fill="#000">%</text></g>
<g transform="translate(63.6,986.0) rotate(-90)"><text transform="translate(231.28,3.13) scale(0.6970,1)" style="font-family:'Liberation Serif',serif;font-size:48.33px" fill="#000">]</text></g>
</svg>
</body></html>
